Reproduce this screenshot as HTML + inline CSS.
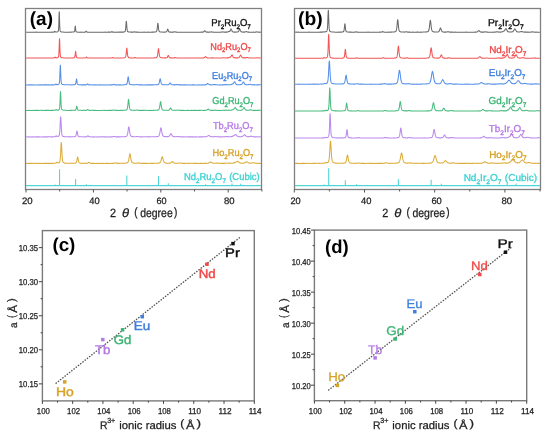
<!DOCTYPE html>
<html><head><meta charset="utf-8"><style>
html,body{margin:0;padding:0;background:#fff;}
svg{display:block;font-family:"Liberation Sans", Arial, sans-serif;text-rendering:geometricPrecision;filter:blur(0.35px);}
</style></head><body>
<svg width="550" height="435" viewBox="0 0 550 435">
<rect width="550" height="435" fill="#fff"/>
<polyline points="26.10,32.23 27.10,32.19 28.10,32.21 29.10,32.19 30.10,32.18 31.10,32.25 32.10,32.26 33.10,32.16 34.10,32.23 35.10,32.23 36.10,32.14 37.10,32.20 38.10,32.16 39.10,32.20 40.10,32.18 41.10,32.24 42.10,32.18 43.10,32.15 44.10,32.19 45.10,32.16 46.10,32.17 47.10,32.24 48.10,32.16 49.10,32.17 50.10,32.21 51.10,32.23 52.10,32.12 53.10,32.15 53.12,32.12 53.27,32.10 53.42,32.11 53.57,32.08 53.72,32.14 53.87,32.07 54.02,32.09 54.10,32.02 54.17,32 54.32,32.01 54.47,31.85 54.62,31.62 54.77,31.32 54.87,31.33 54.92,31.31 55.07,31.52 55.10,31.54 55.22,31.73 55.37,31.90 55.52,31.97 55.67,32.01 55.82,31.99 55.97,32.02 56.10,31.99 56.12,32 56.27,31.98 56.42,32 56.57,32.05 57.10,31.88 57.50,31.74 57.65,31.68 57.80,31.62 57.95,31.48 58.10,31.36 58.25,31 58.40,30.53 58.55,29.54 58.70,27.45 58.85,23.58 59,18.20 59.10,14.63 59.15,13.07 59.25,11.81 59.30,12.19 59.45,16.42 59.60,21.99 59.75,26.33 59.90,29.03 60.05,30.27 60.10,30.60 60.20,30.89 60.35,31.27 60.50,31.41 60.65,31.54 60.80,31.70 60.95,31.72 61.10,31.87 62.10,32.09 63.10,32.10 64.10,32.20 65.10,32.19 66.10,32.18 67.10,32.16 68.10,32.22 69.10,32.23 70.10,32.13 71.10,32.19 72.10,32.09 73.10,32.05 73.35,32.09 73.50,32.06 73.65,32.03 73.80,31.98 73.95,31.94 74.10,31.88 74.25,31.78 74.40,31.56 74.55,31.25 74.70,30.60 74.85,29.47 75,28.05 75.10,27.03 75.15,26.53 75.28,26.07 75.30,26.09 75.45,27.06 75.60,28.54 75.75,29.89 75.90,30.91 76.05,31.38 76.10,31.50 76.20,31.73 76.35,31.81 76.50,31.92 76.65,31.95 76.80,32.03 76.95,32.01 77.10,32.03 78.10,32.20 79.10,32.22 80.10,32.15 81.10,32.12 82.10,32.21 83.10,32.18 84.07,32.16 84.10,32.19 84.22,32.18 84.37,32.19 84.52,32.18 84.67,32.14 84.82,32.17 84.97,32.15 85.10,32.08 85.12,32.17 85.27,32.06 85.42,31.97 85.57,31.89 85.72,31.71 85.87,31.40 86.02,31.26 86.10,31.21 86.12,31.18 86.17,31.16 86.32,31.39 86.47,31.60 86.62,31.82 86.77,31.91 86.92,32.06 87.07,32.06 87.10,32.15 87.22,32.15 87.37,32.12 87.52,32.11 87.67,32.17 87.82,32.20 87.97,32.22 88.10,32.17 88.12,32.21 89.10,32.15 90.10,32.15 91.10,32.23 92.10,32.22 93.10,32.16 94.10,32.18 95.10,32.16 96.10,32.21 97.10,32.24 98.10,32.22 99.10,32.16 100.10,32.22 101.10,32.21 102.10,32.20 103.10,32.20 104.10,32.20 105.10,32.14 106.10,32.23 107.10,32.25 108.10,32.14 109.10,32.14 109.51,32.12 109.66,32.19 109.81,32.13 109.96,32.13 110.10,32.21 110.11,32.15 110.26,32.13 110.41,32.15 110.56,32.16 110.71,32.18 110.86,32.15 111.01,32.14 111.10,32.13 111.16,32.05 111.31,32.01 111.46,31.85 111.61,31.84 111.76,31.65 111.86,31.66 111.91,31.63 112.06,31.70 112.10,31.73 112.21,31.84 112.36,32.01 112.51,32 112.66,32.13 112.81,32.15 112.96,32.13 113.10,32.15 113.11,32.17 113.26,32.11 113.41,32.15 113.56,32.19 113.71,32.20 113.86,32.13 114.01,32.18 114.10,32.14 114.16,32.20 115.10,32.22 116.10,32.18 117.10,32.14 118.10,32.22 119.10,32.13 120.10,32.11 121.10,32.11 122.10,32.08 123.10,32.13 123.81,31.97 123.96,31.91 124.10,31.98 124.11,31.95 124.26,31.92 124.41,31.84 124.56,31.79 124.71,31.71 124.86,31.57 125.01,31.51 125.10,31.37 125.16,31.25 125.31,30.84 125.46,30.16 125.61,28.99 125.76,27.46 125.91,25.59 126.06,23.39 126.10,22.89 126.21,21.71 126.33,21.20 126.36,21.20 126.51,22.27 126.66,24.28 126.81,26.42 126.96,28.21 127.10,29.50 127.11,29.53 127.26,30.40 127.41,31 127.56,31.37 127.71,31.56 127.86,31.66 128.01,31.73 128.10,31.75 128.16,31.82 128.31,31.82 128.46,31.89 128.61,31.95 128.76,31.98 129.10,32.02 130.10,32.07 131.10,32.14 131.97,32.12 132.10,32.15 132.12,32.18 132.27,32.14 132.42,32.12 132.57,32.20 132.72,32.16 132.87,32.16 133.02,32.10 133.10,32.09 133.17,32.16 133.32,32.09 133.47,32.09 133.62,32.13 133.77,32.08 133.92,32.07 134.07,31.93 134.10,31.93 134.22,31.84 134.37,31.78 134.52,31.75 134.58,31.74 134.67,31.77 134.82,31.88 134.97,31.90 135.10,32.03 135.12,32.02 135.27,32.01 135.42,32.14 135.57,32.17 135.72,32.18 135.87,32.10 136.02,32.19 136.10,32.22 136.17,32.12 136.32,32.21 136.47,32.13 136.62,32.15 136.77,32.13 136.92,32.12 137.07,32.16 137.10,32.14 138.10,32.24 139.10,32.15 140.10,32.18 141.10,32.16 142.10,32.23 143.10,32.16 144.10,32.13 145.10,32.24 146.10,32.20 147.10,32.17 148.10,32.14 149.10,32.21 150.10,32.21 151.10,32.19 152.10,32.14 153.10,32.10 154.10,32.10 155,32.04 155.10,32.02 155.15,32.02 155.30,31.99 155.45,32 155.60,31.92 155.75,31.83 155.90,31.85 156.05,31.75 156.10,31.80 156.20,31.69 156.35,31.57 156.50,31.42 156.65,31.19 156.80,30.81 156.95,30.20 157.10,29.31 157.25,28.24 157.40,26.83 157.55,25.23 157.70,23.87 157.85,23.24 157.88,23.22 158,23.50 158.10,24.24 158.15,24.66 158.30,26.17 158.45,27.61 158.60,28.92 158.75,29.92 158.90,30.56 159.05,31 159.10,31.19 159.20,31.32 159.35,31.55 159.50,31.62 159.65,31.74 159.80,31.84 159.95,31.90 160.10,31.96 160.25,31.94 160.40,31.98 160.55,32.03 160.70,32.02 161.10,32.07 162.10,32.06 163.10,32.16 164.10,32.06 164.70,32.11 164.85,32.09 165,32.10 165.10,32.05 165.15,32.05 165.30,32.07 165.45,32.07 165.60,32.03 165.75,32 165.90,32.03 166.05,31.96 166.10,31.92 166.20,31.95 166.35,31.91 166.50,31.80 166.65,31.59 166.80,31.36 166.95,31 167.10,30.60 167.25,30.18 167.40,29.69 167.55,29.30 167.70,29.16 167.85,29.26 168,29.64 168.10,29.97 168.15,30.21 168.30,30.62 168.45,31.10 168.60,31.41 168.75,31.60 168.90,31.84 169.05,31.94 169.10,31.87 169.20,31.98 169.35,32.02 169.50,32.02 169.65,32.03 169.80,32.13 169.95,32.10 170.10,32.10 170.25,32.11 170.40,32.15 170.55,32.11 171.10,32.08 171.80,32.16 171.96,32.15 172.10,32.20 172.11,32.18 172.27,32.13 172.42,32.20 172.57,32.11 172.73,32.11 172.88,32.20 173.04,32.10 173.10,32.17 173.19,32.12 173.34,32.11 173.50,32.16 173.65,32.10 173.81,32.08 173.96,32.04 174.10,32.06 174.11,32 174.27,31.92 174.42,31.89 174.58,31.84 174.73,31.84 174.88,31.78 175.04,31.81 175.10,31.79 175.19,31.83 175.35,31.91 175.50,32.02 175.65,32.02 175.81,32.06 175.96,32.15 176.10,32.08 176.12,32.11 176.27,32.19 176.42,32.10 176.58,32.21 176.73,32.19 176.89,32.14 177.04,32.16 177.10,32.17 177.19,32.16 177.35,32.18 177.50,32.20 177.66,32.22 177.81,32.23 178.10,32.16 179.10,32.16 180.10,32.18 181.10,32.16 182.10,32.21 183.10,32.22 184.10,32.21 185.10,32.15 186.10,32.25 187.10,32.19 188.10,32.22 189.10,32.16 190.10,32.21 191.10,32.21 192.10,32.21 193.10,32.19 194.10,32.16 195.10,32.21 196.10,32.15 197.10,32.24 198.10,32.22 199.10,32.23 200.10,32.23 201.10,32.14 201.33,32.14 201.50,32.20 201.67,32.20 201.84,32.17 202.01,32.12 202.10,32.11 202.18,32.12 202.35,32.13 202.52,32.18 202.70,32.13 202.87,32.14 203.04,32.08 203.10,32.07 203.21,32.09 203.38,32.04 203.55,31.90 203.72,31.88 203.89,31.64 204.06,31.44 204.10,31.38 204.24,31.26 204.41,31.01 204.58,30.83 204.75,30.75 204.92,30.78 205.09,31 205.10,31.06 205.26,31.21 205.43,31.48 205.61,31.67 205.78,31.80 205.95,31.99 206.10,31.97 206.12,31.99 206.29,32.05 206.46,32.08 206.63,32.11 206.80,32.16 206.98,32.13 207.10,32.19 207.15,32.14 207.32,32.13 207.49,32.16 207.66,32.14 207.83,32.10 207.92,32.11 208,32.20 208.09,32.12 208.10,32.15 208.27,32.22 208.44,32.18 208.62,32.20 208.79,32.22 208.97,32.16 209.10,32.11 209.14,32.19 209.32,32.12 209.49,32.14 209.67,32.20 209.84,32.11 210.02,32.13 210.10,32.09 210.19,32.10 210.37,32.08 210.54,32.09 210.72,31.99 210.89,31.93 211.07,31.89 211.10,31.93 211.24,31.87 211.42,31.88 211.59,31.94 211.77,31.99 211.94,32.04 212.10,32.07 212.12,32.08 212.29,32.08 212.47,32.08 212.64,32.13 212.82,32.16 212.99,32.14 213.10,32.19 213.17,32.17 213.34,32.14 213.52,32.18 213.69,32.21 213.87,32.13 214.04,32.15 214.10,32.19 214.22,32.19 214.39,32.18 214.57,32.17 214.74,32.22 215.10,32.24 216.10,32.22 217.10,32.15 218.10,32.23 218.77,32.19 218.96,32.22 219.10,32.21 219.14,32.22 219.32,32.19 219.50,32.22 219.68,32.23 219.86,32.22 220.04,32.21 220.10,32.17 220.22,32.22 220.41,32.22 220.59,32.17 220.77,32.16 220.95,32.12 221.10,32.18 221.13,32.14 221.31,32.12 221.49,32.13 221.68,31.97 221.86,32.01 222.04,31.98 222.10,31.92 222.22,31.93 222.40,31.86 222.58,31.91 222.76,31.97 222.95,32.03 223.10,31.99 223.13,32.05 223.31,32.03 223.49,32.10 223.67,32.06 223.85,32.15 224.03,32.17 224.10,32.17 224.22,32.11 224.40,32.13 224.58,32.17 224.76,32.20 224.94,32.13 225.10,32.09 225.12,32.14 225.22,32.21 225.30,32.20 225.41,32.19 225.48,32.18 225.59,32.20 225.67,32.19 225.78,32.12 225.85,32.09 225.97,32.17 226.03,32.08 226.10,32.13 226.15,32.09 226.34,32.08 226.52,32.07 226.71,32.17 226.89,32.12 227.08,32.07 227.10,32.03 227.26,32.12 227.37,32.08 227.45,32 227.55,32.07 227.63,32.02 227.74,31.99 227.82,31.93 227.93,31.86 228,31.92 228.10,31.80 228.11,31.80 228.19,31.74 228.30,31.71 228.37,31.62 228.48,31.62 228.56,31.56 228.67,31.52 228.74,31.42 228.86,31.42 228.93,31.43 229.04,31.43 229.10,31.37 229.11,31.38 229.23,31.38 229.30,31.43 229.42,31.43 229.48,31.47 229.60,31.40 229.67,31.46 229.79,31.34 229.85,31.26 229.98,31.14 230.04,31.12 230.10,31.01 230.16,30.83 230.22,30.74 230.35,30.42 230.41,30.26 230.53,29.99 230.59,29.77 230.72,29.43 230.78,29.33 230.91,29.06 230.96,29.02 231.09,28.90 231.10,28.83 231.15,28.95 231.28,29.05 231.33,29.20 231.47,29.54 231.52,29.61 231.65,30.03 231.70,30.20 231.84,30.58 231.89,30.64 232.03,30.97 232.07,31.13 232.10,31.16 232.21,31.26 232.26,31.43 232.40,31.56 232.45,31.63 232.58,31.70 232.77,31.84 232.96,31.89 233.10,31.95 233.14,32 233.33,32.04 233.52,32.07 233.70,32 233.89,32.10 234.08,32.12 234.10,32.01 234.26,32.11 234.45,32.04 234.64,32.14 235.10,32.10 235.90,32.13 236.09,32.05 236.10,32.08 236.28,32.07 236.47,32.05 236.66,32.03 236.85,32.08 237.04,32.04 237.10,32.05 237.24,32.08 237.43,31.97 237.62,31.97 237.81,31.90 238,31.91 238.10,31.82 238.19,31.78 238.38,31.59 238.58,31.43 238.77,31.08 238.96,30.65 239.10,30.34 239.15,30.16 239.34,29.64 239.53,29.29 239.72,29.10 239.91,29.26 240.10,29.69 240.11,29.70 240.30,30.11 240.49,30.67 240.68,31.07 240.87,31.44 241.06,31.65 241.10,31.70 241.25,31.72 241.45,31.86 241.64,31.91 241.83,31.94 242.02,32.01 242.10,31.98 242.21,32.04 242.26,32.06 242.40,32.01 242.46,32.02 242.59,32.02 242.65,32.08 242.79,32.05 242.85,32.10 242.98,32.03 243.04,32.05 243.10,32.12 243.17,32.05 243.24,32.14 243.36,32.15 243.43,32.08 243.63,32.13 243.82,32.11 244.02,32.09 244.10,32.16 244.21,32.07 244.41,32.12 244.61,32.08 244.80,32.07 245,31.97 245.10,31.94 245.19,31.97 245.39,31.91 245.58,31.79 245.78,31.68 245.97,31.64 246.10,31.61 246.17,31.53 246.36,31.57 246.56,31.62 246.75,31.71 246.95,31.83 247.10,31.95 247.14,32 247.34,32.04 247.53,32.07 247.73,32.10 247.92,32.12 248.10,32.15 248.12,32.09 248.31,32.17 248.51,32.16 248.70,32.11 248.90,32.12 249.09,32.19 249.10,32.19 249.29,32.13 249.48,32.23 249.68,32.22 249.87,32.17 250.10,32.17 251.10,32.22 252.10,32.24 252.84,32.22 253.04,32.15 253.10,32.19 253.24,32.12 253.45,32.15 253.65,32.12 253.85,32.24 254.05,32.22 254.10,32.24 254.25,32.19 254.45,32.19 254.65,32.23 254.85,32.16 255.06,32.21 255.10,32.18 255.26,32.18 255.46,32.10 255.66,32.12 255.86,32.11 256.06,32.09 256.10,32.04 256.26,31.98 256.47,31.92 256.67,31.85 256.87,31.85 257.07,31.93 257.10,31.95 257.27,31.91 257.47,31.96 257.67,32.04 257.87,32.04 258.08,32.11 258.10,32.14 258.28,32.18 258.48,32.21 258.68,32.15 258.88,32.12 259.08,32.13 259.10,32.18 259.28,32.16 259.48,32.13 259.69,32.15 259.89,32.17 260.09,32.20 260.10,32.18 260.29,32.23 260.49,32.23 260.69,32.17 260.89,32.13 260.90,32.18" fill="none" stroke="#6a6a6a" stroke-width="1.05" stroke-linejoin="round"/>
<polyline points="26.10,58.01 27.10,58.02 28.10,58 29.10,57.96 30.10,58 31.10,57.94 32.10,58.04 33.10,58.02 34.10,57.99 35.10,58.01 36.10,57.95 37.10,57.96 38.10,57.94 39.10,57.98 40.10,58.05 41.10,57.99 42.10,57.99 43.10,57.99 44.10,58.02 45.10,57.97 46.10,57.94 47.10,58.04 48.10,57.97 49.10,58 50.10,57.98 51.10,57.93 52.10,57.91 53.10,57.93 53.14,57.98 53.29,57.89 53.44,57.97 53.59,57.94 53.74,57.88 53.89,57.94 54.04,57.93 54.10,57.84 54.19,57.82 54.34,57.86 54.49,57.78 54.64,57.68 54.79,57.53 54.94,57.32 55.09,57.10 55.10,57.20 55.14,57.18 55.24,57.22 55.39,57.39 55.54,57.51 55.69,57.63 55.84,57.70 55.99,57.77 56.10,57.77 56.14,57.87 56.29,57.84 56.44,57.75 56.59,57.85 56.74,57.81 56.89,57.76 57.04,57.77 57.10,57.72 57.53,57.67 57.68,57.59 57.83,57.43 57.98,57.43 58.10,57.24 58.13,57.30 58.28,57.02 58.43,56.79 58.58,56.32 58.73,55.49 58.88,53.83 59.03,50.90 59.10,49.19 59.18,46.85 59.33,42.08 59.48,38.89 59.53,38.75 59.63,39.64 59.78,43.73 59.93,48.40 60.08,52.13 60.10,52.49 60.23,54.42 60.38,55.86 60.53,56.59 60.68,56.97 60.83,57.20 60.98,57.33 61.10,57.36 61.13,57.48 61.28,57.55 61.43,57.53 62.10,57.71 63.10,57.82 64.10,57.95 65.10,57.96 66.10,57.90 67.10,57.96 68.10,57.94 69.10,57.99 70.10,58.02 71.10,57.97 72.10,57.91 73.10,57.86 73.39,57.86 73.54,57.85 73.69,57.82 73.84,57.80 73.99,57.76 74.10,57.69 74.14,57.75 74.29,57.64 74.44,57.50 74.59,57.34 74.74,57.11 74.89,56.48 75.04,55.63 75.10,55.26 75.19,54.47 75.34,53.03 75.49,51.82 75.60,51.37 75.64,51.48 75.79,52.28 75.94,53.78 76.09,55.16 76.10,55.14 76.24,56.12 76.39,56.79 76.54,57.23 76.69,57.48 76.84,57.58 76.99,57.74 77.10,57.72 77.14,57.75 77.29,57.82 77.44,57.80 77.59,57.86 77.74,57.86 78.10,57.91 79.10,57.96 80.10,57.98 81.10,57.96 82.10,57.92 83.10,57.92 84.10,57.93 84.13,57.93 84.28,57.99 84.43,57.91 84.58,57.99 84.73,58 84.88,57.95 85.03,57.91 85.10,57.96 85.18,57.91 85.33,57.94 85.48,57.83 85.63,57.83 85.78,57.74 85.93,57.60 86.08,57.38 86.10,57.34 86.23,57.22 86.38,57.07 86.48,57.01 86.53,57.09 86.68,57.16 86.83,57.31 86.98,57.51 87.10,57.72 87.13,57.65 87.28,57.81 87.43,57.81 87.58,57.92 87.73,57.96 87.88,57.94 88.03,57.90 88.10,57.96 88.18,57.91 88.33,57.94 88.48,57.98 88.63,57.99 88.78,57.97 89.10,57.99 90.10,58 91.10,57.97 92.10,57.95 93.10,57.98 94.10,58.03 95.10,58.03 96.10,58.01 97.10,57.98 98.10,58.04 99.10,58.04 100.10,58.02 101.10,58.02 102.10,58.05 103.10,57.99 104.10,57.94 105.10,57.99 106.10,57.96 107.10,57.95 108.10,57.95 109.10,57.94 109.61,57.99 109.76,57.96 109.91,58.03 110.06,57.93 110.10,57.99 110.21,57.98 110.36,57.93 110.51,58 110.66,58 110.81,57.92 110.96,57.94 111.10,57.99 111.11,58 111.26,57.94 111.41,57.95 111.56,57.80 111.71,57.81 111.86,57.72 112.01,57.62 112.10,57.56 112.16,57.54 112.30,57.49 112.31,57.49 112.46,57.55 112.61,57.66 112.76,57.65 112.91,57.76 113.06,57.90 113.10,57.87 113.21,57.86 113.36,57.86 113.51,57.99 113.66,58.01 113.81,57.96 113.96,57.97 114.10,57.92 114.11,57.93 114.26,57.99 114.41,57.98 114.56,57.96 114.71,57.93 114.86,58.01 115.10,57.99 116.10,58.03 117.10,57.96 118.10,58.03 119.10,57.92 120.10,57.96 121.10,57.94 122.10,57.97 123.10,57.91 123.93,57.81 124.08,57.74 124.10,57.78 124.23,57.79 124.38,57.68 124.53,57.68 124.68,57.66 124.83,57.65 124.98,57.57 125.10,57.44 125.13,57.51 125.28,57.35 125.43,57.16 125.58,56.93 125.73,56.45 125.88,55.79 126.03,54.86 126.10,54.33 126.18,53.68 126.33,52.15 126.48,50.43 126.63,48.97 126.78,48.22 126.82,48.11 126.93,48.51 127.08,49.64 127.10,49.83 127.23,51.36 127.38,52.90 127.53,54.37 127.68,55.48 127.83,56.25 127.98,56.79 128.10,57.01 128.13,57.08 128.28,57.23 128.43,57.38 128.58,57.56 128.73,57.59 128.88,57.65 129.03,57.72 129.10,57.73 129.18,57.75 129.33,57.72 129.48,57.79 129.63,57.84 130.10,57.88 131.10,57.91 132.10,57.92 132.25,57.96 132.40,57.91 132.55,57.97 132.70,57.92 132.85,57.92 133,57.98 133.10,57.91 133.15,57.95 133.30,57.93 133.45,57.92 133.60,57.92 133.75,57.93 133.90,57.96 134.05,57.86 134.10,57.84 134.20,57.87 134.35,57.81 134.50,57.80 134.65,57.66 134.80,57.63 134.95,57.64 135.09,57.55 135.10,57.53 135.25,57.63 135.40,57.60 135.55,57.72 135.70,57.82 135.85,57.81 136,57.90 136.10,57.87 136.15,57.90 136.30,57.97 136.45,57.94 136.60,57.91 136.75,57.96 136.90,57.95 137.05,57.92 137.10,57.97 137.20,57.97 137.35,57.96 137.50,57.93 137.65,58.01 137.80,58.02 137.95,57.94 138.10,57.97 139.10,58 140.10,57.93 141.10,57.94 142.10,57.98 143.10,57.92 144.10,57.94 145.10,57.95 146.10,58 147.10,58.04 148.10,57.95 149.10,57.94 150.10,57.98 151.10,57.96 152.10,57.94 153.10,57.95 154.10,57.86 155.10,57.81 155.17,57.83 155.34,57.84 155.50,57.76 155.67,57.77 155.83,57.69 156,57.72 156.10,57.67 156.16,57.67 156.33,57.59 156.49,57.50 156.66,57.46 156.82,57.34 156.99,57.07 157.10,56.91 157.16,56.74 157.32,56.30 157.49,55.57 157.65,54.55 157.82,53.18 157.98,51.73 158.10,50.64 158.15,50.21 158.31,49.07 158.48,48.56 158.64,49.03 158.81,50.21 158.97,51.79 159.10,52.89 159.14,53.29 159.30,54.54 159.47,55.58 159.63,56.20 159.80,56.79 159.96,57.05 160.10,57.24 160.13,57.31 160.29,57.44 160.46,57.45 160.62,57.54 160.79,57.60 160.95,57.62 161.10,57.75 161.12,57.68 161.28,57.71 161.45,57.80 161.61,57.79 162.10,57.77 163.10,57.90 164.10,57.87 164.89,57.94 165.06,57.88 165.10,57.92 165.24,57.89 165.41,57.90 165.58,57.84 165.75,57.85 165.92,57.86 166.09,57.83 166.10,57.86 166.27,57.80 166.44,57.84 166.61,57.77 166.78,57.71 166.95,57.65 167.10,57.59 167.12,57.55 167.30,57.30 167.47,57.09 167.64,56.68 167.81,56.32 167.98,55.87 168.10,55.64 168.15,55.57 168.33,55.48 168.50,55.65 168.67,55.91 168.84,56.29 169.01,56.67 169.10,56.94 169.18,57.10 169.36,57.28 169.53,57.49 169.70,57.65 169.87,57.71 170.04,57.83 170.10,57.80 170.21,57.81 170.39,57.84 170.56,57.91 170.73,57.93 170.90,57.88 171.07,57.86 171.10,57.95 171.24,57.97 171.41,57.97 171.59,57.89 172.01,57.95 172.10,57.94 172.19,57.88 172.37,57.93 172.54,57.97 172.72,57.92 172.90,58.01 173.07,57.97 173.10,57.92 173.25,57.99 173.42,58 173.60,57.94 173.78,57.96 173.95,57.88 174.10,57.97 174.13,57.89 174.31,57.92 174.48,57.84 174.66,57.84 174.84,57.76 175.01,57.74 175.10,57.72 175.19,57.67 175.36,57.58 175.54,57.61 175.72,57.65 175.89,57.67 176.07,57.78 176.10,57.76 176.25,57.78 176.42,57.84 176.60,57.87 176.78,57.94 176.95,57.99 177.10,58 177.13,57.97 177.30,57.99 177.48,57.95 177.66,57.99 177.83,57.94 178.01,57.96 178.10,57.95 178.19,57.95 178.36,57.97 178.54,57.99 178.72,58 178.89,58.03 179.10,57.95 180.10,57.98 181.10,58.03 182.10,57.94 183.10,57.98 184.10,57.98 185.10,58 186.10,58.04 187.10,57.93 188.10,58.03 189.10,58.01 190.10,57.93 191.10,58.04 192.10,57.99 193.10,57.99 194.10,58.02 195.10,57.94 196.10,58 197.10,58.05 198.10,57.99 199.10,58.04 200.10,57.96 201.10,57.93 201.60,57.92 201.80,58.02 201.99,57.94 202.10,57.98 202.19,57.96 202.39,57.98 202.58,57.97 202.78,57.99 202.98,57.92 203.10,57.98 203.17,57.87 203.37,57.97 203.56,57.84 203.76,57.90 203.96,57.87 204.10,57.74 204.15,57.74 204.35,57.61 204.54,57.50 204.74,57.30 204.94,57.15 205.10,56.90 205.13,56.89 205.33,56.65 205.53,56.70 205.72,56.76 205.92,56.87 206.10,57.04 206.11,57.11 206.31,57.29 206.51,57.50 206.70,57.65 206.90,57.75 207.09,57.80 207.10,57.87 207.29,57.88 207.49,57.86 207.68,57.94 207.88,57.92 208.08,57.96 208.10,57.95 208.27,57.92 208.47,57.91 208.66,57.89 208.86,57.95 209.06,57.99 209.10,57.97 209.25,58.01 210.10,57.99 211.10,57.88 212.10,57.69 213.10,57.89 214.10,58 215.10,58.02 216.10,58.02 217.10,57.98 218.10,58.01 219.10,57.93 220.10,57.97 221.10,57.98 222.10,57.90 223.10,57.75 224.10,57.80 225.10,57.90 225.57,57.95 225.78,57.91 225.99,57.96 226.10,57.97 226.20,57.97 226.42,57.97 226.63,57.91 226.84,57.90 227.05,57.89 227.10,57.96 227.26,57.87 227.48,57.90 227.69,57.90 227.71,57.88 227.90,57.87 227.93,57.90 228.10,57.85 228.11,57.82 228.14,57.81 228.32,57.75 228.36,57.83 228.54,57.70 228.57,57.70 228.75,57.65 228.78,57.60 228.96,57.63 229,57.53 229.10,57.46 229.17,57.52 229.21,57.44 229.39,57.30 229.42,57.36 229.60,57.21 229.64,57.19 229.81,57.19 229.85,57.22 230.02,57.18 230.06,57.11 230.10,57.15 230.23,57.15 230.28,57.13 230.45,57.02 230.49,57.09 230.66,57.01 230.71,56.86 230.87,56.75 230.92,56.67 231.08,56.34 231.10,56.39 231.13,56.36 231.30,55.91 231.35,55.87 231.51,55.52 231.56,55.32 231.72,55.11 231.77,54.95 231.93,54.88 231.99,54.88 232.10,54.94 232.14,54.93 232.20,55.01 232.36,55.31 232.41,55.41 232.57,55.81 232.63,55.89 232.78,56.23 232.84,56.38 232.99,56.68 233.05,56.88 233.10,56.94 233.20,57.10 233.27,57.20 233.42,57.28 233.48,57.34 233.63,57.46 233.70,57.55 233.84,57.68 233.91,57.67 234.05,57.76 234.10,57.67 234.12,57.75 234.34,57.80 234.55,57.75 234.76,57.86 234.98,57.79 235.10,57.87 235.19,57.83 235.40,57.91 235.62,57.82 235.83,57.88 236.05,57.89 236.10,57.86 236.26,57.86 236.27,57.91 236.49,57.92 236.71,57.87 236.93,57.93 237.10,57.82 237.15,57.88 237.37,57.90 237.59,57.87 237.81,57.88 238.03,57.84 238.10,57.80 238.25,57.80 238.46,57.77 238.68,57.71 238.90,57.59 239.10,57.43 239.12,57.45 239.34,57.19 239.56,56.92 239.78,56.57 240,56.11 240.10,55.81 240.22,55.60 240.44,55.24 240.66,55.08 240.88,55.19 241.10,55.62 241.32,56.10 241.54,56.56 241.75,56.97 241.97,57.22 242.10,57.37 242.19,57.45 242.41,57.60 242.63,57.70 242.66,57.68 242.85,57.79 242.88,57.71 243.07,57.84 243.10,57.76 243.11,57.84 243.29,57.79 243.33,57.86 243.51,57.90 243.55,57.84 243.73,57.82 243.78,57.82 243.95,57.83 244,57.82 244.10,57.93 244.17,57.89 244.23,57.93 244.39,57.86 244.45,57.89 244.61,57.86 244.67,57.85 244.82,57.83 244.90,57.87 245.10,57.84 245.12,57.87 245.34,57.92 245.57,57.79 245.79,57.85 246.01,57.79 246.10,57.68 246.24,57.69 246.46,57.56 246.68,57.55 246.91,57.45 247.10,57.36 247.13,57.44 247.36,57.42 247.58,57.44 247.80,57.62 248.03,57.66 248.10,57.68 248.25,57.75 248.47,57.79 248.70,57.85 248.92,57.96 249.10,57.95 249.14,57.92 249.37,57.88 249.59,57.98 249.82,57.94 250.04,58 250.10,57.91 250.26,57.97 250.49,57.96 250.71,57.94 250.93,58.01 251.10,57.94 251.16,57.93 251.38,57.93 251.60,58 252.10,58.01 253.10,58.02 254.10,57.93 255.10,57.98 256.10,57.96 257.10,57.82 258.10,57.69 259.10,57.92 260.10,57.99 260.90,57.95" fill="none" stroke="#f25656" stroke-width="1.05" stroke-linejoin="round"/>
<polyline points="26.10,84.86 27.10,84.92 28.10,84.95 29.10,84.85 30.10,84.87 31.10,84.89 32.10,84.91 33.10,84.84 34.10,84.90 35.10,84.93 36.10,84.94 37.10,84.91 38.10,84.88 39.10,84.91 40.10,84.84 41.10,84.87 42.10,84.90 43.10,84.87 44.10,84.88 45.10,84.88 46.10,84.89 47.10,84.88 48.10,84.88 49.10,84.84 50.10,84.91 51.10,84.84 52.10,84.89 53.10,84.81 53.65,84.89 53.80,84.83 53.95,84.84 54.10,84.80 54.25,84.85 54.40,84.84 54.55,84.84 54.70,84.77 54.85,84.75 55,84.78 55.10,84.72 55.15,84.70 55.30,84.50 55.45,84.42 55.60,84.23 55.75,84.10 55.90,83.98 56.05,84.03 56.10,84.09 56.20,84.28 56.35,84.38 56.50,84.51 56.65,84.64 56.80,84.60 56.95,84.67 57.10,84.68 57.25,84.63 57.40,84.62 57.55,84.61 57.70,84.55 57.85,84.56 58,84.54 58.07,84.55 58.10,84.48 58.15,84.49 58.22,84.44 58.37,84.40 58.52,84.36 58.67,84.25 58.82,84.11 58.97,83.93 59.10,83.60 59.12,83.59 59.27,83.16 59.42,82.28 59.57,80.84 59.72,78.54 59.87,75.05 60.02,70.91 60.10,68.57 60.17,66.95 60.32,65.12 60.33,65.12 60.47,66.65 60.62,70.54 60.77,74.80 60.92,78.34 61.07,80.73 61.10,81.07 61.22,82.28 61.37,83.04 61.52,83.54 61.67,83.82 61.82,84.04 61.97,84.18 62.10,84.23 62.12,84.33 62.27,84.41 62.42,84.50 62.57,84.55 63.10,84.60 64.10,84.80 65.10,84.78 66.10,84.84 67.10,84.80 68.10,84.82 69.10,84.84 70.10,84.82 71.10,84.91 72.10,84.87 73.10,84.84 74.03,84.78 74.10,84.75 74.18,84.71 74.33,84.71 74.48,84.67 74.63,84.67 74.78,84.68 74.93,84.62 75.08,84.54 75.10,84.52 75.23,84.50 75.38,84.36 75.53,84.10 75.68,83.77 75.83,83.09 75.98,82.34 76.10,81.41 76.13,81.20 76.28,80.07 76.43,79.15 76.53,78.95 76.58,78.94 76.73,79.61 76.88,80.75 77.03,81.86 77.10,82.33 77.18,82.89 77.33,83.50 77.48,83.96 77.63,84.22 77.78,84.41 77.93,84.55 78.08,84.64 78.10,84.59 78.23,84.69 78.38,84.66 78.53,84.71 78.68,84.70 78.83,84.77 78.98,84.80 79.10,84.73 80.10,84.81 81.10,84.87 82.10,84.86 83.10,84.88 84.10,84.85 84.84,84.86 84.99,84.89 85.10,84.80 85.14,84.81 85.29,84.83 85.44,84.88 85.59,84.89 85.74,84.82 85.89,84.80 86.04,84.81 86.10,84.86 86.19,84.78 86.34,84.78 86.49,84.76 86.64,84.66 86.79,84.58 86.94,84.41 87.09,84.23 87.10,84.19 87.24,84.12 87.39,83.93 87.51,83.85 87.54,83.88 87.69,83.98 87.84,84.11 87.99,84.39 88.10,84.42 88.14,84.48 88.29,84.61 88.44,84.73 88.59,84.75 88.74,84.85 88.89,84.82 89.04,84.86 89.10,84.79 89.19,84.81 89.34,84.86 89.49,84.83 89.64,84.88 89.79,84.86 89.94,84.91 90.09,84.83 90.10,84.84 91.10,84.85 92.10,84.94 93.10,84.85 94.10,84.95 95.10,84.88 96.10,84.89 97.10,84.95 98.10,84.90 99.10,84.85 100.10,84.88 101.10,84.92 102.10,84.86 103.10,84.91 104.10,84.84 105.10,84.90 106.10,84.94 107.10,84.83 108.10,84.94 109.10,84.92 110.10,84.85 110.50,84.93 110.66,84.88 110.81,84.84 110.96,84.87 111.10,84.89 111.11,84.85 111.27,84.84 111.42,84.86 111.57,84.85 111.72,84.89 111.88,84.87 112.03,84.79 112.10,84.79 112.18,84.90 112.33,84.86 112.49,84.83 112.64,84.73 112.79,84.75 112.94,84.68 113.10,84.53 113.25,84.52 113.40,84.36 113.55,84.40 113.71,84.37 113.86,84.44 114.01,84.60 114.10,84.57 114.16,84.65 114.32,84.74 114.47,84.81 114.62,84.77 114.77,84.81 114.93,84.86 115.08,84.81 115.10,84.89 115.23,84.86 115.38,84.91 115.54,84.88 115.69,84.82 115.84,84.87 115.99,84.91 116.10,84.90 116.15,84.85 116.30,84.90 116.45,84.83 117.10,84.93 118.10,84.83 119.10,84.86 120.10,84.83 121.10,84.88 122.10,84.90 123.10,84.87 124.10,84.78 124.94,84.80 125.10,84.77 125.26,84.67 125.43,84.64 125.59,84.61 125.75,84.59 125.92,84.58 126.08,84.50 126.10,84.51 126.24,84.48 126.41,84.41 126.57,84.34 126.73,84.16 126.90,83.85 127.06,83.41 127.10,83.32 127.22,82.75 127.39,81.90 127.55,80.80 127.71,79.52 127.88,78.23 128.04,77.13 128.10,76.89 128.20,76.80 128.37,77.26 128.53,78.21 128.69,79.49 128.86,80.84 129.02,81.96 129.10,82.38 129.18,82.83 129.35,83.46 129.51,83.84 129.67,84.07 129.84,84.33 130,84.35 130.10,84.51 130.16,84.42 130.32,84.57 130.49,84.55 130.65,84.59 130.81,84.60 130.98,84.68 131.10,84.67 131.14,84.73 131.30,84.68 132.10,84.83 133.10,84.77 133.17,84.81 133.34,84.88 133.51,84.77 133.68,84.85 133.85,84.88 134.02,84.86 134.10,84.89 134.19,84.86 134.35,84.81 134.52,84.77 134.69,84.81 134.86,84.78 135.03,84.78 135.10,84.79 135.20,84.82 135.37,84.82 135.54,84.80 135.71,84.72 135.88,84.70 136.05,84.58 136.10,84.61 136.22,84.53 136.39,84.49 136.56,84.46 136.73,84.54 136.90,84.58 137.07,84.59 137.10,84.66 137.24,84.66 137.41,84.68 137.58,84.79 137.75,84.75 137.91,84.81 138.08,84.78 138.10,84.84 138.25,84.82 138.42,84.83 138.59,84.89 138.76,84.86 138.93,84.85 139.10,84.87 139.27,84.85 139.44,84.82 139.61,84.84 139.78,84.84 139.95,84.92 140.10,84.85 141.10,84.86 142.10,84.83 143.10,84.94 144.10,84.92 145.10,84.83 146.10,84.90 147.10,84.86 148.10,84.87 149.10,84.89 150.10,84.88 151.10,84.87 152.10,84.81 153.10,84.86 154.10,84.81 155.10,84.85 156.10,84.77 156.43,84.76 156.62,84.73 156.81,84.70 156.99,84.78 157.10,84.66 157.18,84.70 157.37,84.72 157.55,84.67 157.74,84.67 157.93,84.61 158.10,84.48 158.12,84.49 158.30,84.39 158.49,84.33 158.68,84.13 158.86,83.79 159.05,83.31 159.10,83.13 159.24,82.67 159.43,81.77 159.61,80.85 159.80,79.88 159.99,79.02 160.10,78.85 160.17,78.74 160.36,79.10 160.55,79.92 160.73,80.83 160.92,81.81 161.10,82.60 161.11,82.67 161.30,83.26 161.48,83.73 161.67,84.12 161.86,84.35 162.04,84.37 162.10,84.46 162.23,84.56 162.42,84.61 162.60,84.59 162.79,84.69 162.98,84.70 163.10,84.67 163.17,84.72 163.35,84.70 163.54,84.68 163.73,84.72 164.10,84.76 165.10,84.79 166.10,84.84 166.24,84.80 166.43,84.79 166.63,84.80 166.82,84.81 167.01,84.77 167.10,84.83 167.21,84.77 167.40,84.73 167.60,84.83 167.79,84.80 167.99,84.69 168.10,84.78 168.18,84.68 168.38,84.67 168.57,84.66 168.76,84.50 168.96,84.42 169.10,84.17 169.15,84.18 169.35,83.83 169.54,83.53 169.74,83.29 169.93,83.01 170.10,82.94 170.13,82.87 170.32,83.05 170.51,83.30 170.71,83.62 170.90,83.84 171.10,84.19 171.29,84.39 171.49,84.53 171.68,84.61 171.87,84.70 172.07,84.68 172.10,84.76 172.26,84.76 172.46,84.74 172.65,84.83 172.85,84.85 173.04,84.77 173.10,84.84 173.24,84.78 173.42,84.79 173.43,84.84 173.62,84.85 173.82,84.88 174.01,84.80 174.02,84.85 174.10,84.86 174.22,84.88 174.42,84.88 174.62,84.80 174.82,84.89 175.02,84.84 175.10,84.83 175.22,84.84 175.42,84.84 175.62,84.84 175.82,84.86 176.02,84.76 176.10,84.74 176.22,84.76 176.42,84.76 176.62,84.63 176.82,84.65 177.02,84.59 177.10,84.52 177.22,84.46 177.42,84.48 177.62,84.55 177.82,84.50 178.02,84.66 178.10,84.67 178.22,84.63 178.42,84.70 178.62,84.75 178.82,84.86 179.02,84.79 179.10,84.85 179.22,84.91 179.42,84.82 179.62,84.81 179.82,84.92 180.02,84.87 180.10,84.82 180.22,84.89 180.41,84.90 180.61,84.84 180.81,84.88 181.01,84.82 181.10,84.84 181.21,84.84 181.41,84.86 182.10,84.92 183.10,84.86 184.10,84.88 185.10,84.89 186.10,84.88 187.10,84.91 188.10,84.93 189.10,84.84 190.10,84.91 191.10,84.94 192.10,84.83 193.10,84.89 194.10,84.87 195.10,84.91 196.10,84.93 197.10,84.91 198.10,84.85 199.10,84.91 200.10,84.84 201.10,84.91 202.10,84.83 203.10,84.91 203.30,84.87 203.52,84.91 203.74,84.90 203.96,84.85 204.10,84.87 204.19,84.85 204.41,84.88 204.63,84.86 204.85,84.85 205.08,84.77 205.10,84.87 205.30,84.82 205.52,84.75 205.74,84.75 205.97,84.74 206.10,84.61 206.19,84.69 206.41,84.58 206.63,84.45 206.85,84.21 207.08,83.93 207.10,83.98 207.30,83.78 207.52,83.54 207.74,83.56 207.97,83.64 208.10,83.65 208.19,83.80 208.41,83.97 208.63,84.24 208.86,84.38 209.08,84.49 209.10,84.55 209.30,84.66 209.52,84.69 209.75,84.73 209.97,84.84 210.10,84.83 210.19,84.82 210.41,84.81 210.63,84.85 210.86,84.81 211.08,84.87 211.10,84.79 211.30,84.86 211.52,84.88 211.75,84.90 211.97,84.89 212.10,84.88 212.19,84.80 213.10,84.81 214.10,84.63 215.10,84.61 216.10,84.77 217.10,84.83 218.10,84.90 219.10,84.90 220.10,84.87 221.10,84.90 222.10,84.89 223.10,84.89 224.10,84.85 225.10,84.62 226.10,84.60 227.10,84.78 227.52,84.81 227.77,84.80 228.01,84.80 228.10,84.88 228.25,84.78 228.49,84.82 228.73,84.83 228.97,84.75 229.10,84.77 229.21,84.82 229.45,84.85 229.69,84.79 229.70,84.79 229.93,84.78 229.94,84.82 230.10,84.75 230.17,84.78 230.18,84.72 230.41,84.72 230.42,84.75 230.65,84.64 230.67,84.68 230.89,84.67 230.91,84.65 231.10,84.61 231.13,84.56 231.15,84.49 231.37,84.40 231.39,84.42 231.61,84.38 231.64,84.35 231.86,84.24 231.88,84.21 232.10,84.07 232.12,84.13 232.34,83.99 232.36,83.99 232.58,83.90 232.60,83.87 232.82,83.85 232.85,83.81 233.06,83.73 233.09,83.69 233.10,83.66 233.30,83.53 233.33,83.44 233.54,83.14 233.57,83.13 233.78,82.75 233.82,82.60 234.02,82.26 234.06,82.21 234.10,82.12 234.26,81.84 234.30,81.81 234.50,81.67 234.54,81.67 234.74,81.81 234.78,81.82 234.98,82.14 235.03,82.30 235.10,82.38 235.22,82.67 235.27,82.70 235.46,83.11 235.51,83.30 235.70,83.58 235.75,83.71 235.94,84.01 236,83.99 236.10,84.09 236.19,84.20 236.24,84.26 236.43,84.35 236.48,84.43 236.67,84.50 236.72,84.52 236.91,84.55 236.96,84.56 237.10,84.66 237.21,84.69 237.45,84.68 237.69,84.69 237.93,84.74 238.10,84.68 238.18,84.69 238.36,84.71 238.42,84.73 238.61,84.72 238.66,84.78 238.86,84.71 238.90,84.79 239.10,84.69 239.14,84.73 239.35,84.77 239.60,84.77 239.85,84.71 240.10,84.72 240.35,84.67 240.60,84.72 240.85,84.58 241.09,84.58 241.10,84.57 241.34,84.44 241.59,84.31 241.84,84.10 242.09,83.80 242.10,83.77 242.34,83.43 242.59,82.93 242.83,82.40 243.08,82.10 243.10,82.08 243.33,81.86 243.58,82.06 243.83,82.43 244.08,82.91 244.10,82.93 244.33,83.41 244.58,83.76 244.82,84.16 244.83,84.07 245.07,84.35 245.08,84.32 245.10,84.37 245.32,84.45 245.33,84.50 245.57,84.57 245.59,84.61 245.82,84.60 245.84,84.61 246.07,84.72 246.09,84.66 246.10,84.64 246.32,84.74 246.35,84.75 246.57,84.68 246.60,84.68 246.81,84.79 246.86,84.71 247.06,84.70 247.10,84.78 247.11,84.72 247.31,84.78 247.36,84.72 247.56,84.75 247.62,84.76 247.81,84.79 247.87,84.72 248.06,84.70 248.10,84.75 248.12,84.77 248.31,84.74 248.38,84.71 248.63,84.56 248.88,84.52 249.10,84.42 249.14,84.43 249.39,84.41 249.65,84.30 249.90,84.21 250.10,84.24 250.15,84.24 250.41,84.34 250.66,84.45 250.91,84.54 251.10,84.58 251.17,84.66 251.42,84.77 251.67,84.78 251.93,84.85 252.10,84.84 252.18,84.80 252.43,84.86 252.69,84.87 252.94,84.89 253.10,84.87 253.20,84.85 253.45,84.84 253.70,84.80 253.96,84.91 254.10,84.89 254.21,84.91 254.46,84.81 254.72,84.85 254.97,84.85 255.10,84.83 256.10,84.93 257.10,84.82 258.10,84.88 259.10,84.81 260.10,84.69 260.90,84.56" fill="none" stroke="#5590e8" stroke-width="1.05" stroke-linejoin="round"/>
<polyline points="26.10,110.42 27.10,110.42 28.10,110.43 29.10,110.37 30.10,110.40 31.10,110.44 32.10,110.41 33.10,110.39 34.10,110.41 35.10,110.38 36.10,110.35 37.10,110.38 38.10,110.36 39.10,110.42 40.10,110.35 41.10,110.34 42.10,110.39 43.10,110.45 44.10,110.44 45.10,110.36 46.10,110.34 47.10,110.36 48.10,110.38 49.10,110.38 50.10,110.42 51.10,110.36 52.10,110.31 53.10,110.39 53.83,110.33 53.98,110.29 54.10,110.32 54.13,110.35 54.28,110.36 54.43,110.29 54.58,110.26 54.73,110.26 54.88,110.30 55.03,110.24 55.10,110.22 55.18,110.25 55.33,110.14 55.48,110.09 55.63,109.98 55.78,109.84 55.93,109.60 56.08,109.52 56.10,109.60 56.23,109.66 56.38,109.77 56.53,109.93 56.68,109.99 56.83,110.14 56.98,110.14 57.10,110.16 57.13,110.18 57.28,110.13 57.43,110.17 57.58,110.15 57.73,110.11 57.88,110.12 58.03,110.12 58.10,110.01 58.18,110.01 58.26,110.01 58.33,110 58.41,109.96 58.56,109.93 58.71,109.88 58.86,109.73 59.01,109.56 59.10,109.56 59.16,109.37 59.31,109.18 59.46,108.67 59.61,107.92 59.76,106.61 59.91,104.40 60.06,101.10 60.10,100.08 60.21,97.13 60.36,93.38 60.51,91.59 60.52,91.56 60.66,93.01 60.81,96.66 60.96,100.74 61.10,103.82 61.11,103.99 61.26,106.37 61.41,107.89 61.56,108.70 61.71,109.11 61.86,109.42 62.01,109.55 62.10,109.66 62.16,109.71 62.31,109.87 62.46,109.91 62.61,109.95 62.76,109.98 63.10,110.07 64.10,110.27 65.10,110.30 66.10,110.27 67.10,110.40 68.10,110.41 69.10,110.40 70.10,110.34 71.10,110.38 72.10,110.33 73.10,110.31 74.10,110.28 74.26,110.36 74.41,110.27 74.56,110.25 74.71,110.24 74.86,110.20 75.01,110.19 75.10,110.19 75.16,110.15 75.31,110.15 75.46,110.14 75.61,110.01 75.76,109.77 75.91,109.56 76.06,109.10 76.10,108.90 76.21,108.45 76.36,107.64 76.51,106.84 76.66,106.20 76.76,106.12 76.81,106.14 76.96,106.64 77.10,107.34 77.11,107.40 77.26,108.28 77.41,108.90 77.56,109.46 77.71,109.76 77.86,110 78.01,110.07 78.10,110.15 78.16,110.08 78.31,110.20 78.46,110.18 78.61,110.25 78.76,110.28 78.91,110.24 79.06,110.32 79.10,110.29 79.21,110.29 80.10,110.28 81.10,110.34 82.10,110.42 83.10,110.38 84.10,110.32 85.09,110.33 85.10,110.38 85.24,110.41 85.39,110.39 85.54,110.33 85.69,110.40 85.84,110.31 85.99,110.38 86.10,110.32 86.14,110.32 86.29,110.36 86.44,110.31 86.59,110.28 86.74,110.28 86.89,110.18 87.04,110.07 87.10,109.98 87.19,109.98 87.34,109.83 87.49,109.62 87.64,109.47 87.76,109.45 87.79,109.40 87.94,109.57 88.09,109.69 88.10,109.71 88.24,109.90 88.39,110.03 88.54,110.14 88.69,110.23 88.84,110.24 88.99,110.25 89.10,110.27 89.14,110.36 89.29,110.35 89.44,110.29 89.59,110.41 89.74,110.41 89.89,110.42 90.04,110.31 90.10,110.37 90.19,110.38 90.34,110.42 91.10,110.33 92.10,110.33 93.10,110.37 94.10,110.34 95.10,110.38 96.10,110.41 97.10,110.43 98.10,110.42 99.10,110.43 100.10,110.41 101.10,110.45 102.10,110.45 103.10,110.34 104.10,110.35 105.10,110.35 106.10,110.41 107.10,110.40 108.10,110.38 109.10,110.35 110.10,110.41 110.80,110.38 110.96,110.37 111.10,110.34 111.11,110.40 111.26,110.44 111.42,110.39 111.57,110.33 111.72,110.41 111.87,110.35 112.03,110.41 112.10,110.39 112.18,110.34 112.33,110.40 112.48,110.35 112.64,110.31 112.79,110.31 112.94,110.24 113.09,110.18 113.10,110.24 113.25,110.12 113.40,110.05 113.55,109.99 113.71,109.93 113.86,109.91 114.01,109.91 114.10,109.95 114.16,110.03 114.32,110.06 114.47,110.13 114.62,110.22 114.77,110.21 114.93,110.32 115.08,110.32 115.10,110.32 115.23,110.33 115.38,110.39 115.54,110.33 115.69,110.40 115.84,110.36 116,110.37 116.10,110.34 116.15,110.32 116.30,110.31 116.45,110.40 116.61,110.32 116.76,110.37 116.91,110.37 117.10,110.43 118.10,110.33 119.10,110.40 120.10,110.39 121.10,110.38 122.10,110.37 123.10,110.34 124.10,110.30 125.10,110.20 125.27,110.20 125.43,110.13 125.59,110.08 125.76,110.05 125.92,110.08 126.09,110 126.10,109.99 126.25,109.95 126.41,109.92 126.58,109.86 126.74,109.69 126.90,109.54 127.07,109.33 127.10,109.23 127.23,108.99 127.39,108.35 127.56,107.46 127.72,106.30 127.88,104.94 128.05,103.05 128.10,102.48 128.21,101.36 128.38,99.82 128.54,99.34 128.70,99.88 128.87,101.39 129.03,103.12 129.10,103.83 129.19,104.81 129.36,106.34 129.52,107.46 129.68,108.39 129.85,108.90 130.01,109.26 130.10,109.44 130.17,109.57 130.34,109.76 130.50,109.83 130.67,109.93 130.83,110 130.99,110 131.10,110.04 131.16,110.10 131.32,110.14 131.48,110.13 131.65,110.13 131.81,110.16 132.10,110.19 133.10,110.23 133.52,110.26 133.69,110.31 133.86,110.27 134.03,110.29 134.10,110.33 134.20,110.35 134.37,110.33 134.54,110.29 134.71,110.29 134.88,110.34 135.05,110.31 135.10,110.37 135.22,110.30 135.39,110.31 135.56,110.26 135.73,110.24 135.90,110.31 136.07,110.16 136.10,110.25 136.24,110.11 136.41,110.05 136.58,110.08 136.74,110.03 136.91,110.03 137.08,109.95 137.10,109.98 137.25,110 137.42,110.08 137.59,110.19 137.76,110.19 137.93,110.29 138.10,110.32 138.27,110.33 138.44,110.31 138.61,110.36 138.78,110.34 138.95,110.34 139.10,110.32 139.12,110.36 139.29,110.37 139.46,110.35 139.63,110.37 139.80,110.34 139.97,110.41 140.10,110.40 140.14,110.42 141.10,110.38 142.10,110.33 143.10,110.36 144.10,110.36 145.10,110.33 146.10,110.34 147.10,110.40 148.10,110.41 149.10,110.37 150.10,110.40 151.10,110.35 152.10,110.41 153.10,110.36 154.10,110.31 155.10,110.34 156.10,110.31 156.84,110.19 157.03,110.24 157.10,110.15 157.21,110.17 157.40,110.11 157.59,110.13 157.78,110.10 157.96,110.09 158.10,110.07 158.15,109.95 158.34,109.97 158.53,109.90 158.71,109.67 158.90,109.52 159.09,109.22 159.10,109.15 159.27,108.76 159.46,108.14 159.65,107.19 159.84,105.93 160.02,104.58 160.10,104.01 160.21,103.18 160.40,101.99 160.59,101.61 160.77,101.95 160.96,103.11 161.10,104.24 161.15,104.57 161.34,105.99 161.52,107.20 161.71,108.11 161.90,108.74 162.08,109.22 162.10,109.23 162.27,109.55 162.46,109.66 162.65,109.83 162.83,109.92 163.02,110.06 163.10,110.04 163.21,110.11 163.40,110.10 163.58,110.16 163.77,110.18 163.96,110.19 164.10,110.23 164.15,110.22 165.10,110.25 166.10,110.32 166.67,110.28 166.86,110.23 167.06,110.25 167.10,110.22 167.25,110.32 167.45,110.25 167.64,110.30 167.84,110.20 168.03,110.25 168.10,110.21 168.23,110.20 168.42,110.25 168.62,110.22 168.81,110.08 169,110 169.10,109.99 169.20,109.97 169.39,109.79 169.59,109.44 169.78,109.13 169.98,108.77 170.10,108.49 170.17,108.33 170.37,108.11 170.56,107.90 170.76,108 170.95,108.32 171.10,108.62 171.15,108.78 171.34,109.13 171.54,109.53 171.73,109.70 171.93,109.91 172.10,110.05 172.12,110.11 172.32,110.18 172.51,110.20 172.70,110.18 172.90,110.25 173.09,110.23 173.10,110.31 173.29,110.31 173.48,110.33 173.68,110.33 173.87,110.28 174.07,110.33 174.10,110.34 174.26,110.30 174.27,110.33 174.47,110.28 174.67,110.31 174.87,110.29 175.07,110.34 175.10,110.35 175.27,110.34 175.47,110.28 175.67,110.28 175.87,110.32 176.07,110.33 176.10,110.38 176.27,110.27 176.47,110.28 176.67,110.28 176.87,110.27 177.07,110.19 177.10,110.15 177.27,110.15 177.47,110.09 177.67,110.02 177.87,110 178.07,110.08 178.10,110.08 178.27,110.08 178.47,110.10 178.67,110.20 178.87,110.30 179.08,110.31 179.10,110.32 179.28,110.28 179.48,110.36 179.68,110.29 179.88,110.38 180.08,110.40 180.10,110.42 180.28,110.36 180.48,110.37 180.68,110.34 180.88,110.35 181.08,110.37 181.10,110.43 181.28,110.32 181.48,110.41 181.68,110.41 181.88,110.42 182.10,110.37 183.10,110.36 184.10,110.41 185.10,110.42 186.10,110.45 187.10,110.38 188.10,110.36 189.10,110.44 190.10,110.42 191.10,110.36 192.10,110.37 193.10,110.43 194.10,110.33 195.10,110.36 196.10,110.36 197.10,110.41 198.10,110.33 199.10,110.39 200.10,110.37 201.10,110.33 202.10,110.34 203.10,110.41 203.83,110.41 204.05,110.40 204.10,110.41 204.28,110.32 204.50,110.35 204.72,110.36 204.94,110.37 205.10,110.35 205.17,110.35 205.39,110.31 205.61,110.34 205.83,110.27 206.06,110.25 206.10,110.24 206.28,110.23 206.50,110.26 206.73,110.16 206.95,110.01 207.10,109.98 207.17,109.90 207.39,109.77 207.62,109.48 207.84,109.33 208.06,109.16 208.10,109.08 208.28,109.12 208.51,109.20 208.73,109.32 208.95,109.53 209.10,109.71 209.18,109.75 209.40,109.88 209.62,110 209.84,110.10 210.07,110.18 210.10,110.28 210.29,110.28 210.51,110.29 210.73,110.36 210.96,110.29 211.10,110.35 211.18,110.29 211.40,110.31 211.63,110.37 211.85,110.36 212.07,110.35 212.10,110.38 212.29,110.41 212.52,110.36 213.10,110.37 214.10,110.28 215.10,110.06 216.10,110.23 217.10,110.36 218.10,110.43 219.10,110.34 220.10,110.40 221.10,110.42 222.10,110.34 223.10,110.32 224.10,110.38 225.10,110.27 226.10,110.05 227.10,110.19 228.10,110.33 228.13,110.35 228.37,110.38 228.61,110.28 228.85,110.29 229.10,110.36 229.34,110.30 229.58,110.35 229.82,110.28 230.06,110.31 230.10,110.27 230.30,110.29 230.31,110.34 230.54,110.27 230.55,110.26 230.78,110.31 230.80,110.31 231.02,110.26 231.04,110.20 231.10,110.16 231.26,110.20 231.28,110.15 231.51,110.11 231.52,110.16 231.75,110.07 231.77,110.02 231.99,109.97 232.01,109.96 232.10,109.90 232.23,109.90 232.25,109.86 232.47,109.74 232.50,109.72 232.71,109.60 232.74,109.64 232.95,109.54 232.98,109.53 233.10,109.54 233.19,109.43 233.22,109.40 233.43,109.39 233.47,109.39 233.67,109.29 233.71,109.25 233.92,109.07 233.95,109.04 234.10,108.77 234.16,108.75 234.19,108.72 234.40,108.31 234.44,108.31 234.64,107.90 234.68,107.81 234.88,107.46 234.92,107.48 235.10,107.38 235.12,107.26 235.16,107.38 235.36,107.44 235.41,107.48 235.60,107.72 235.65,107.89 235.84,108.29 235.89,108.39 236.09,108.77 236.10,108.82 236.14,108.81 236.33,109.18 236.38,109.23 236.57,109.54 236.62,109.55 236.81,109.71 236.86,109.83 237.05,109.87 237.10,109.98 237.11,109.93 237.29,109.98 237.35,110.06 237.53,110.06 237.59,110.14 237.83,110.17 238.08,110.14 238.10,110.18 238.32,110.27 238.56,110.27 238.80,110.23 239,110.26 239.05,110.30 239.10,110.21 239.25,110.27 239.29,110.20 239.50,110.27 239.53,110.29 239.75,110.26 239.78,110.21 240,110.20 240.02,110.24 240.10,110.28 240.25,110.24 240.50,110.26 240.74,110.24 240.99,110.27 241.10,110.25 241.24,110.13 241.49,110.11 241.74,110.11 241.99,109.98 242.10,109.99 242.24,109.81 242.49,109.62 242.74,109.31 242.99,108.96 243.10,108.77 243.24,108.47 243.49,108.07 243.74,107.74 243.98,107.60 244.10,107.53 244.23,107.72 244.48,108.11 244.73,108.50 244.98,109.01 245.10,109.16 245.23,109.31 245.48,109.67 245.49,109.66 245.73,109.80 245.75,109.83 245.98,109.96 246,110.07 246.10,110 246.23,110.09 246.25,110.14 246.48,110.10 246.51,110.21 246.73,110.14 246.76,110.26 246.97,110.27 247.02,110.23 247.10,110.22 247.22,110.23 247.27,110.20 247.47,110.30 247.52,110.23 247.72,110.28 247.78,110.21 247.97,110.25 248.03,110.24 248.10,110.31 248.22,110.21 248.29,110.29 248.47,110.29 248.54,110.26 248.72,110.20 248.79,110.25 248.97,110.21 249.05,110.18 249.10,110.21 249.30,110.18 249.56,110.07 249.81,109.95 250.07,109.87 250.10,109.91 250.32,109.80 250.57,109.75 250.83,109.80 251.08,109.94 251.10,109.96 251.34,109.94 251.59,110.06 251.84,110.19 252.10,110.20 252.35,110.26 252.61,110.28 252.86,110.34 253.10,110.31 253.11,110.35 253.37,110.36 253.62,110.37 253.88,110.32 254.10,110.31 254.13,110.38 254.38,110.41 254.64,110.39 254.89,110.33 255.10,110.38 255.15,110.43 255.40,110.33 255.66,110.38 256.10,110.42 257.10,110.34 258.10,110.37 259.10,110.32 260.10,110.26 260.90,110.14" fill="none" stroke="#48bb7e" stroke-width="1.05" stroke-linejoin="round"/>
<polyline points="26.10,136.85 27.10,136.91 28.10,136.86 29.10,136.90 30.10,136.88 31.10,136.93 32.10,136.88 33.10,136.94 34.10,136.85 35.10,136.93 36.10,136.88 37.10,136.85 38.10,136.85 39.10,136.85 40.10,136.90 41.10,136.94 42.10,136.83 43.10,136.91 44.10,136.84 45.10,136.89 46.10,136.89 47.10,136.87 48.10,136.87 49.10,136.83 50.10,136.85 51.10,136.89 52.10,136.83 53.10,136.87 53.23,136.77 53.38,136.85 53.53,136.82 53.68,136.79 53.83,136.81 53.98,136.74 54.10,136.75 54.13,136.80 54.28,136.78 54.43,136.73 54.58,136.75 54.73,136.72 54.88,136.73 55.03,136.67 55.10,136.64 55.18,136.58 55.33,136.58 55.48,136.43 55.63,136.38 55.78,136.24 55.93,136.11 56.08,135.91 56.10,136 56.23,135.93 56.38,135.94 56.53,136 56.68,136.12 56.83,136.30 56.98,136.35 57.10,136.37 57.13,136.45 57.28,136.48 57.43,136.41 57.58,136.51 57.65,136.49 57.73,136.47 57.80,136.37 57.88,136.41 57.95,136.39 58.03,136.35 58.10,136.28 58.11,136.38 58.18,136.34 58.26,136.28 58.33,136.22 58.41,136.24 58.48,136.17 58.56,136.10 58.63,136.11 58.71,136.02 58.78,135.99 58.86,135.80 58.93,135.82 59.01,135.69 59.08,135.52 59.10,135.53 59.16,135.36 59.23,135.20 59.31,134.87 59.46,134.26 59.62,133.18 59.77,131.67 59.92,129.51 60.07,126.76 60.10,126.16 60.22,123.60 60.37,120.39 60.52,117.76 60.67,116.80 60.82,117.76 60.97,120.26 61.10,123.07 61.12,123.55 61.28,126.89 61.43,129.58 61.58,131.74 61.73,133.23 61.88,134.22 62.03,134.94 62.10,135.17 62.18,135.36 62.33,135.71 62.48,135.89 62.63,135.95 62.79,136.16 62.94,136.19 63.09,136.36 63.10,136.33 63.24,136.36 63.39,136.44 63.54,136.41 63.69,136.45 64.10,136.61 65.10,136.75 66.10,136.71 67.10,136.76 68.10,136.81 69.10,136.88 70.10,136.89 71.10,136.80 72.10,136.79 73.10,136.79 73.60,136.78 73.76,136.78 73.93,136.75 74.10,136.73 74.27,136.69 74.43,136.69 74.60,136.68 74.77,136.66 74.93,136.56 75.10,136.47 75.27,136.47 75.43,136.28 75.60,136.10 75.77,135.84 75.94,135.40 76.10,134.73 76.27,134.01 76.44,133.07 76.60,132.17 76.77,131.31 76.94,131.07 77.10,131.39 77.11,131.39 77.27,132.08 77.44,133.05 77.61,134.03 77.77,134.70 77.94,135.35 78.10,135.83 78.11,135.84 78.27,136.14 78.44,136.37 78.61,136.43 78.78,136.56 78.94,136.57 79.10,136.59 79.11,136.65 79.28,136.69 79.44,136.70 79.61,136.71 79.78,136.78 79.95,136.76 80.10,136.78 80.11,136.81 81.10,136.77 82.10,136.81 83.10,136.85 84.10,136.90 84.39,136.82 84.57,136.86 84.75,136.80 84.93,136.83 85.10,136.87 85.11,136.81 85.28,136.83 85.46,136.85 85.64,136.79 85.82,136.84 86,136.86 86.10,136.86 86.17,136.79 86.35,136.81 86.53,136.79 86.71,136.75 86.88,136.59 87.06,136.54 87.10,136.44 87.24,136.33 87.42,136.18 87.60,136.09 87.77,135.88 87.95,135.86 88.10,135.87 88.13,135.88 88.31,136.08 88.49,136.24 88.66,136.33 88.84,136.54 89.02,136.67 89.10,136.72 89.20,136.69 89.38,136.77 89.55,136.73 89.73,136.87 89.91,136.83 90.09,136.81 90.10,136.82 90.27,136.80 90.44,136.83 90.62,136.81 90.80,136.80 90.98,136.81 91.10,136.85 91.16,136.87 91.33,136.86 91.51,136.90 92.10,136.90 93.10,136.87 94.10,136.89 95.10,136.90 96.10,136.93 97.10,136.83 98.10,136.91 99.10,136.89 100.10,136.90 101.10,136.88 102.10,136.85 103.10,136.83 104.10,136.87 105.10,136.83 106.10,136.90 107.10,136.89 108.10,136.90 109.10,136.82 110.02,136.92 110.10,136.91 110.23,136.84 110.43,136.90 110.63,136.92 110.84,136.88 111.04,136.87 111.10,136.87 111.25,136.89 111.45,136.88 111.65,136.88 111.86,136.89 112.06,136.84 112.10,136.87 112.27,136.87 112.47,136.76 112.67,136.74 112.88,136.76 113.08,136.69 113.10,136.74 113.28,136.69 113.49,136.54 113.69,136.41 113.90,136.45 114.10,136.38 114.30,136.36 114.51,136.52 114.71,136.53 114.91,136.65 115.10,136.65 115.12,136.65 115.32,136.70 115.53,136.75 115.73,136.86 115.93,136.80 116.10,136.82 116.14,136.86 116.34,136.87 116.55,136.85 116.75,136.86 116.95,136.86 117.10,136.79 117.16,136.88 117.36,136.81 117.56,136.89 117.77,136.83 117.97,136.86 118.10,136.86 118.18,136.85 119.10,136.89 120.10,136.87 121.10,136.84 122.10,136.84 123.10,136.73 124.10,136.70 124.44,136.68 124.66,136.65 124.88,136.69 125.09,136.69 125.10,136.68 125.31,136.55 125.53,136.56 125.75,136.45 125.97,136.47 126.10,136.42 126.19,136.36 126.40,136.24 126.62,136.14 126.84,135.91 127.06,135.59 127.10,135.52 127.28,135 127.50,134.22 127.71,133.26 127.93,131.93 128.10,130.61 128.15,130.28 128.37,128.61 128.59,127.35 128.81,126.89 129.02,127.30 129.10,127.78 129.24,128.57 129.46,130.30 129.68,131.89 129.90,133.30 130.10,134.25 130.12,134.28 130.33,135.09 130.55,135.61 130.77,135.96 130.99,136.19 131.10,136.21 131.21,136.31 131.43,136.35 131.64,136.43 131.86,136.50 132.08,136.50 132.10,136.50 132.30,136.61 132.52,136.59 132.66,136.61 132.74,136.68 132.89,136.63 132.95,136.72 133.10,136.66 133.12,136.63 133.34,136.68 133.57,136.69 133.80,136.71 134.02,136.75 134.10,136.79 134.25,136.76 134.48,136.78 134.70,136.72 134.93,136.71 135.10,136.70 135.16,136.78 135.38,136.70 135.61,136.69 135.84,136.77 136.06,136.67 136.10,136.71 136.29,136.67 136.52,136.57 136.74,136.47 136.97,136.49 137.10,136.46 137.20,136.43 137.42,136.45 137.65,136.55 137.88,136.62 138.10,136.70 138.33,136.72 138.56,136.68 138.78,136.81 139.01,136.77 139.10,136.79 139.24,136.77 139.46,136.79 139.69,136.88 139.92,136.85 140.10,136.80 140.14,136.82 140.37,136.80 140.60,136.90 140.82,136.81 141.05,136.86 141.10,136.81 141.28,136.84 141.50,136.87 141.73,136.85 142.10,136.91 143.10,136.81 144.10,136.81 145.10,136.84 146.10,136.84 147.10,136.83 148.10,136.86 149.10,136.88 150.10,136.83 151.10,136.78 152.10,136.78 153.10,136.78 154.10,136.83 155.10,136.78 155.91,136.74 156.10,136.69 156.16,136.64 156.41,136.66 156.66,136.64 156.91,136.63 157.10,136.63 157.16,136.61 157.41,136.48 157.66,136.44 157.91,136.40 158.10,136.33 158.16,136.36 158.41,136.26 158.66,136.06 158.91,135.75 159.10,135.40 159.16,135.17 159.41,134.54 159.66,133.63 159.91,132.42 160.10,131.35 160.16,131 160.41,129.52 160.66,128.32 160.91,127.87 161.10,128.12 161.16,128.26 161.41,129.48 161.66,130.94 161.91,132.30 162.10,133.31 162.16,133.54 162.41,134.54 162.66,135.18 162.91,135.73 163.10,135.95 163.16,135.94 163.41,136.20 163.66,136.29 163.91,136.43 164.10,136.49 164.16,136.47 164.41,136.52 164.66,136.60 164.91,136.58 165.10,136.61 165.17,136.62 165.42,136.59 165.67,136.59 165.71,136.65 165.92,136.68 165.97,136.62 166.10,136.63 166.23,136.66 166.49,136.65 166.75,136.69 167.01,136.64 167.10,136.66 167.27,136.62 167.53,136.68 167.79,136.69 168.05,136.57 168.10,136.59 168.31,136.53 168.57,136.47 168.83,136.37 169.09,136.25 169.10,136.19 169.35,135.98 169.61,135.67 169.87,135.27 170.10,134.83 170.13,134.75 170.39,134.22 170.65,133.81 170.91,133.62 171.10,133.67 171.17,133.79 171.43,134.19 171.69,134.79 171.95,135.22 172.10,135.50 172.21,135.65 172.47,136.04 172.73,136.25 172.89,136.38 172.99,136.40 173.10,136.49 173.16,136.47 173.25,136.50 173.43,136.59 173.51,136.61 173.69,136.62 173.77,136.66 173.96,136.63 174.03,136.64 174.10,136.70 174.23,136.69 174.29,136.76 174.49,136.68 174.55,136.72 174.76,136.80 174.81,136.81 175.03,136.71 175.07,136.72 175.10,136.74 175.30,136.77 175.33,136.80 175.56,136.77 175.59,136.72 175.83,136.75 175.85,136.82 176.10,136.80 176.37,136.80 176.63,136.68 176.90,136.64 177.10,136.60 177.17,136.64 177.43,136.60 177.70,136.57 177.97,136.49 178.10,136.47 178.24,136.46 178.50,136.49 178.77,136.50 179.04,136.55 179.10,136.62 179.30,136.62 179.57,136.74 179.84,136.79 180.10,136.75 180.11,136.84 180.37,136.86 180.64,136.77 180.91,136.84 181.10,136.85 181.18,136.81 181.44,136.80 181.71,136.87 181.98,136.82 182.10,136.90 182.24,136.81 182.51,136.87 182.78,136.88 183.05,136.92 183.10,136.92 183.31,136.88 184.10,136.92 185.10,136.85 186.10,136.82 187.10,136.90 188.10,136.85 189.10,136.87 190.10,136.87 191.10,136.85 192.10,136.88 193.10,136.84 194.10,136.92 195.10,136.86 196.10,136.88 197.10,136.92 198.10,136.91 199.10,136.82 200.10,136.86 201.10,136.87 202.10,136.87 202.76,136.82 203.06,136.84 203.10,136.89 203.36,136.80 203.66,136.81 203.95,136.81 204.10,136.82 204.25,136.82 204.55,136.86 204.85,136.77 205.10,136.79 205.14,136.86 205.44,136.77 205.74,136.79 206.04,136.80 206.10,136.70 206.33,136.74 206.63,136.64 206.93,136.57 207.10,136.44 207.23,136.37 207.52,136.15 207.82,135.91 208.10,135.70 208.12,135.71 208.42,135.56 208.71,135.43 209.01,135.58 209.10,135.62 209.31,135.72 209.44,135.84 209.60,135.95 209.75,136.11 209.90,136.21 210.05,136.34 210.10,136.32 210.20,136.40 210.36,136.42 210.50,136.55 210.66,136.62 210.79,136.60 210.97,136.70 211.09,136.65 211.10,136.69 211.27,136.77 211.39,136.72 211.57,136.70 211.69,136.79 211.88,136.77 211.98,136.78 212.10,136.74 212.18,136.74 212.28,136.85 212.49,136.82 212.58,136.77 212.79,136.81 212.88,136.80 213.09,136.79 213.10,136.86 213.17,136.85 213.40,136.74 213.47,136.80 213.70,136.78 213.77,136.76 214.01,136.71 214.07,136.69 214.10,136.78 214.31,136.69 214.36,136.76 214.61,136.66 214.92,136.58 215.10,136.59 215.22,136.59 215.53,136.52 215.83,136.56 216.10,136.57 216.14,136.62 216.44,136.69 216.74,136.70 217.05,136.76 217.10,136.83 217.35,136.84 217.66,136.76 217.96,136.81 218.10,136.89 218.26,136.81 218.57,136.82 218.87,136.91 219.10,136.80 219.18,136.90 219.48,136.86 219.79,136.83 220.09,136.86 220.10,136.88 220.39,136.86 220.46,136.85 220.70,136.81 220.77,136.82 221,136.80 221.09,136.82 221.10,136.86 221.31,136.88 221.40,136.81 221.61,136.81 221.72,136.88 222.03,136.82 222.10,136.88 222.35,136.91 222.66,136.86 222.98,136.80 223.10,136.85 223.29,136.81 223.61,136.80 223.92,136.80 224.10,136.86 224.24,136.78 224.55,136.86 224.87,136.78 225.10,136.81 225.18,136.77 225.50,136.66 225.81,136.62 226.10,136.56 226.13,136.60 226.44,136.57 226.76,136.59 227,136.56 227.08,136.52 227.10,136.58 227.32,136.55 227.39,136.62 227.65,136.60 227.71,136.68 227.97,136.63 228.02,136.73 228.10,136.75 228.29,136.71 228.34,136.69 228.61,136.72 228.65,136.76 228.93,136.74 228.97,136.80 229.10,136.79 229.18,136.80 229.26,136.81 229.28,136.83 229.50,136.81 229.58,136.77 229.60,136.76 229.83,136.79 229.90,136.76 229.91,136.79 230.10,136.73 230.15,136.82 230.22,136.73 230.23,136.71 230.47,136.74 230.54,136.73 230.80,136.67 230.86,136.76 230.87,136.76 231.10,136.69 231.12,136.66 231.17,136.67 231.19,136.68 231.45,136.64 231.49,136.63 231.51,136.57 231.77,136.61 231.80,136.53 231.83,136.59 232.09,136.41 232.10,136.48 232.12,136.41 232.15,136.46 232.42,136.31 232.43,136.32 232.47,136.25 232.74,136.18 232.75,136.18 232.80,136.15 233.07,136.05 233.10,135.95 233.12,136.01 233.39,135.91 233.44,135.88 233.71,135.70 233.76,135.65 234.04,135.55 234.08,135.48 234.10,135.56 234.36,135.31 234.41,135.29 234.69,135.13 234.73,135.12 235.01,134.84 235.05,134.81 235.10,134.76 235.33,134.58 235.37,134.62 235.66,134.57 235.69,134.57 235.98,134.73 236.01,134.71 236.10,134.77 236.31,135.02 236.34,135.07 236.63,135.33 236.66,135.44 236.95,135.67 236.98,135.73 237.10,135.90 237.28,136.08 237.30,136 237.60,136.31 237.62,136.24 237.85,136.39 237.93,136.40 237.95,136.47 238.10,136.46 238.18,136.55 238.25,136.53 238.27,136.49 238.51,136.59 238.58,136.65 238.59,136.64 238.84,136.66 238.90,136.62 238.91,136.62 239.10,136.69 239.18,136.67 239.22,136.70 239.23,136.68 239.51,136.72 239.55,136.64 239.56,136.71 239.84,136.73 239.87,136.69 240.10,136.74 240.18,136.76 240.20,136.72 240.51,136.67 240.52,136.72 240.84,136.72 241.10,136.70 241.17,136.66 241.49,136.67 241.51,136.63 241.82,136.58 241.84,136.63 242.10,136.52 242.17,136.44 242.50,136.36 242.84,136.08 243.10,135.96 243.17,135.85 243.50,135.54 243.84,135.18 244.10,135.05 244.17,134.99 244.32,134.89 244.50,134.80 244.66,134.87 244.83,134.90 245,135.06 245.10,135.09 245.17,135.26 245.34,135.33 245.50,135.56 245.68,135.74 245.83,135.85 246.02,136.02 246.10,136.02 246.17,136.07 246.36,136.23 246.50,136.37 246.70,136.46 246.83,136.49 247.04,136.57 247.10,136.60 247.16,136.62 247.38,136.66 247.50,136.67 247.72,136.72 247.83,136.70 248.05,136.64 248.10,136.65 248.16,136.68 248.39,136.64 248.49,136.64 248.73,136.73 248.83,136.73 249.07,136.67 249.10,136.64 249.16,136.58 249.41,136.65 249.49,136.56 249.75,136.49 249.83,136.53 250.09,136.40 250.10,136.39 250.16,136.47 250.43,136.33 250.49,136.33 250.77,136.24 250.82,136.31 251.10,136.23 251.11,136.30 251.45,136.34 251.79,136.37 252.10,136.47 252.13,136.47 252.47,136.60 252.81,136.59 253.10,136.71 253.14,136.71 253.48,136.78 253.82,136.75 254.10,136.85 254.16,136.76 254.50,136.87 254.84,136.79 255.10,136.85 255.18,136.83 255.52,136.88 255.86,136.82 256.10,136.89 256.20,136.83 256.54,136.84 256.88,136.82 257.10,136.81 257.22,136.83 257.56,136.91 257.89,136.83 258.10,136.92 259.10,136.84 260.10,136.83 260.90,136.93" fill="none" stroke="#bb88ee" stroke-width="1.05" stroke-linejoin="round"/>
<polyline points="26.10,163.45 27.10,163.36 28.10,163.41 29.10,163.37 30.10,163.36 31.10,163.34 32.10,163.39 33.10,163.35 34.10,163.34 35.10,163.36 36.10,163.41 37.10,163.34 38.10,163.40 39.10,163.34 40.10,163.40 41.10,163.39 42.10,163.44 43.10,163.43 44.10,163.33 45.10,163.38 46.10,163.35 47.10,163.38 48.10,163.34 49.10,163.36 50.10,163.40 51.10,163.37 52.10,163.32 53.10,163.36 53.58,163.25 53.74,163.35 53.90,163.29 54.07,163.24 54.10,163.26 54.23,163.32 54.39,163.32 54.55,163.24 54.72,163.27 54.88,163.29 55.04,163.28 55.10,163.21 55.20,163.27 55.37,163.21 55.53,163.10 55.69,163.13 55.85,162.99 56.02,162.99 56.10,162.91 56.18,162.86 56.34,162.64 56.50,162.52 56.67,162.37 56.83,162.30 56.99,162.34 57.10,162.47 57.15,162.46 57.32,162.63 57.48,162.64 57.64,162.78 57.80,162.83 57.97,162.81 58.02,162.80 58.10,162.85 58.13,162.87 58.18,162.81 58.29,162.80 58.34,162.86 58.45,162.81 58.51,162.74 58.62,162.70 58.67,162.69 58.78,162.69 58.84,162.70 58.94,162.56 59,162.61 59.10,162.49 59.17,162.47 59.27,162.32 59.33,162.32 59.43,162.20 59.49,162.06 59.59,161.91 59.66,161.74 59.75,161.62 59.82,161.40 59.92,160.94 59.99,160.63 60.10,159.90 60.15,159.58 60.31,158.10 60.48,155.79 60.64,153.07 60.81,149.59 60.97,146.31 61.10,144.07 61.14,143.63 61.30,142.58 61.46,143.62 61.63,146.29 61.79,149.67 61.96,153.03 62.10,155.45 62.12,155.83 62.29,158.04 62.45,159.63 62.61,160.69 62.78,161.39 62.94,161.86 63.10,162.11 63.11,162.10 63.27,162.27 63.43,162.50 63.60,162.60 63.76,162.67 63.93,162.80 64.09,162.86 64.10,162.86 64.26,162.86 64.42,162.96 64.58,162.95 65.10,163.13 66.10,163.21 67.10,163.27 68.10,163.31 69.10,163.34 70.10,163.32 71.10,163.27 72.10,163.29 73.10,163.23 74.04,163.27 74.10,163.27 74.22,163.27 74.40,163.22 74.58,163.25 74.76,163.15 74.95,163.17 75.10,163.20 75.13,163.13 75.31,163.11 75.49,163.09 75.67,163.02 75.85,162.89 76.04,162.70 76.10,162.69 76.22,162.58 76.40,162.29 76.58,161.79 76.76,161.15 76.95,160.24 77.10,159.43 77.13,159.28 77.31,158.29 77.49,157.40 77.67,157.08 77.85,157.41 78.04,158.23 78.10,158.60 78.22,159.25 78.40,160.27 78.58,161.08 78.76,161.71 78.94,162.20 79.10,162.49 79.13,162.55 79.31,162.79 79.49,162.87 79.67,162.95 79.85,163.09 80.04,163.15 80.10,163.18 80.22,163.17 80.40,163.21 80.58,163.23 80.76,163.26 80.94,163.25 81.10,163.29 81.13,163.19 81.31,163.31 82.10,163.36 83.10,163.27 84.10,163.35 84.89,163.31 85.08,163.36 85.10,163.39 85.27,163.39 85.47,163.28 85.66,163.39 85.86,163.34 86.05,163.35 86.10,163.31 86.24,163.34 86.44,163.28 86.63,163.34 86.82,163.29 87.02,163.21 87.10,163.25 87.21,163.18 87.40,163.24 87.60,163.06 87.79,163.01 87.99,162.79 88.10,162.74 88.18,162.72 88.37,162.49 88.57,162.43 88.76,162.33 88.95,162.36 89.10,162.53 89.15,162.58 89.34,162.65 89.54,162.90 89.73,162.97 89.92,163.11 90.10,163.22 90.12,163.15 90.31,163.26 90.50,163.31 90.70,163.25 90.89,163.26 91.08,163.35 91.10,163.27 91.28,163.38 91.47,163.31 91.67,163.34 91.86,163.38 92.05,163.37 92.10,163.38 92.25,163.34 92.44,163.37 93.10,163.38 94.10,163.35 95.10,163.40 96.10,163.43 97.10,163.38 98.10,163.34 99.10,163.41 100.10,163.41 101.10,163.33 102.10,163.42 103.10,163.33 104.10,163.41 105.10,163.42 106.10,163.36 107.10,163.33 108.10,163.38 109.10,163.41 110.10,163.42 110.65,163.43 110.87,163.35 111.09,163.34 111.10,163.39 111.32,163.37 111.54,163.33 111.76,163.34 111.98,163.34 112.10,163.31 112.20,163.39 112.43,163.30 112.65,163.33 112.87,163.36 113.09,163.31 113.10,163.35 113.31,163.32 113.54,163.24 113.76,163.21 113.98,163.18 114.10,163.11 114.20,163.07 114.42,163.05 114.64,163 114.87,162.83 115.09,162.91 115.10,162.86 115.31,162.93 115.53,162.94 115.75,162.99 115.98,163.17 116.10,163.15 116.20,163.19 116.42,163.22 116.64,163.23 116.86,163.28 117.08,163.37 117.10,163.34 117.31,163.33 117.53,163.37 117.75,163.30 117.97,163.36 118.10,163.36 118.19,163.38 118.42,163.34 118.64,163.31 118.86,163.39 119.08,163.34 119.10,163.37 119.30,163.40 120.10,163.35 121.10,163.32 122.10,163.31 123.10,163.24 124.10,163.24 125.10,163.16 125.15,163.18 125.38,163.17 125.62,163.12 125.86,163.10 126.10,163.08 126.34,163.09 126.57,163.06 126.81,162.93 127.05,162.96 127.10,162.90 127.29,162.76 127.52,162.70 127.76,162.46 128,162.15 128.10,161.93 128.24,161.59 128.47,160.98 128.71,159.93 128.95,158.56 129.10,157.68 129.19,157.02 129.43,155.54 129.66,154.32 129.90,153.86 130.10,154.12 130.14,154.31 130.38,155.52 130.61,157.04 130.85,158.62 131.09,159.86 131.10,160 131.33,160.87 131.57,161.62 131.80,162.16 132.04,162.44 132.10,162.53 132.28,162.67 132.52,162.75 132.75,162.90 132.99,162.96 133.10,163.05 133.23,163.08 133.42,163.06 133.47,163.08 133.67,163.04 133.70,163.09 133.91,163.08 133.94,163.12 134.10,163.10 134.16,163.17 134.18,163.21 134.41,163.15 134.42,163.16 134.65,163.23 134.90,163.24 135.10,163.22 135.15,163.17 135.39,163.21 135.64,163.25 135.89,163.23 136.10,163.26 136.13,163.25 136.38,163.27 136.63,163.20 136.87,163.25 137.10,163.16 137.12,163.21 137.37,163.15 137.61,163.01 137.86,162.94 138.10,162.93 138.11,162.88 138.35,162.89 138.60,162.93 138.85,162.98 139.09,163.12 139.10,163.11 139.34,163.10 139.59,163.21 139.84,163.18 140.08,163.30 140.10,163.30 140.33,163.33 140.58,163.26 140.82,163.31 141.07,163.36 141.10,163.38 141.32,163.32 141.56,163.40 141.81,163.30 142.06,163.38 142.10,163.31 142.30,163.30 142.55,163.37 142.80,163.34 143.04,163.33 143.10,163.36 144.10,163.37 145.10,163.31 146.10,163.39 147.10,163.35 148.10,163.42 149.10,163.35 150.10,163.30 151.10,163.37 152.10,163.32 153.10,163.36 154.10,163.34 155.10,163.32 156.10,163.24 156.81,163.28 157.08,163.30 157.10,163.24 157.35,163.22 157.62,163.20 157.90,163.19 158.10,163.20 158.17,163.14 158.44,163.16 158.71,163.12 158.99,163.08 159.10,163.07 159.26,163.01 159.53,162.86 159.80,162.75 160.08,162.51 160.10,162.52 160.35,162.19 160.62,161.64 160.89,160.91 161.10,160.33 161.17,160.02 161.44,158.94 161.71,157.92 161.98,157.02 162.10,156.88 162.25,156.69 162.53,157.12 162.80,157.95 163.07,159.04 163.10,159.17 163.34,160 163.62,160.98 163.89,161.67 164.10,162.03 164.16,162.19 164.43,162.45 164.71,162.77 164.98,162.81 165.10,162.87 165.25,162.97 165.52,162.98 165.80,163.04 166.07,163.06 166.10,163.14 166.34,163.15 166.61,163.19 166.67,163.18 166.89,163.18 166.95,163.14 167.10,163.22 167.16,163.19 167.24,163.23 167.43,163.22 167.52,163.27 167.80,163.21 168.09,163.21 168.10,163.21 168.37,163.18 168.65,163.22 168.93,163.25 169.10,163.16 169.22,163.22 169.50,163.23 169.78,163.16 170.07,163.08 170.10,163.13 170.35,163.06 170.63,162.96 170.92,162.72 171.10,162.61 171.20,162.47 171.48,162.29 171.77,161.97 172.05,161.81 172.10,161.78 172.33,161.73 172.62,161.76 172.90,161.96 173.10,162.19 173.18,162.22 173.47,162.49 173.75,162.71 173.90,162.83 174.03,162.93 174.10,162.97 174.19,162.97 174.32,163.08 174.48,163.14 174.60,163.08 174.77,163.13 174.88,163.18 175.06,163.18 175.10,163.28 175.17,163.20 175.35,163.24 175.45,163.28 175.65,163.29 175.73,163.25 175.94,163.23 176.01,163.25 176.10,163.34 176.23,163.28 176.30,163.31 176.52,163.33 176.58,163.35 176.81,163.29 176.86,163.32 177.10,163.31 177.15,163.29 177.39,163.24 177.43,163.31 177.68,163.26 177.71,163.25 177.97,163.21 178.10,163.18 178.27,163.23 178.56,163.10 178.85,163.13 179.10,163.03 179.14,162.99 179.43,162.92 179.72,162.96 180.01,162.95 180.10,162.96 180.30,163.08 180.59,163.06 180.89,163.12 181.10,163.25 181.18,163.24 181.47,163.27 181.76,163.24 182.05,163.26 182.10,163.36 182.34,163.35 182.63,163.39 182.92,163.40 183.10,163.39 183.21,163.30 183.51,163.31 183.80,163.40 184.09,163.35 184.10,163.35 184.38,163.37 184.67,163.33 184.96,163.42 185.10,163.40 185.25,163.42 186.10,163.33 187.10,163.34 188.10,163.39 189.10,163.43 190.10,163.34 191.10,163.35 192.10,163.34 193.10,163.33 194.10,163.36 195.10,163.38 196.10,163.35 197.10,163.43 198.10,163.34 199.10,163.40 200.10,163.39 201.10,163.33 202.10,163.43 203.10,163.39 203.99,163.32 204.10,163.37 204.31,163.31 204.64,163.33 204.96,163.38 205.10,163.35 205.29,163.36 205.61,163.32 205.93,163.31 206.10,163.33 206.26,163.38 206.58,163.27 206.91,163.34 207.10,163.27 207.23,163.24 207.55,163.25 207.88,163.25 208.10,163.14 208.20,163.17 208.53,163.05 208.85,162.89 209.10,162.75 209.17,162.65 209.50,162.40 209.82,162.20 210.10,161.97 210.15,162.05 210.47,161.95 210.72,161.99 210.79,161.99 211.05,162.12 211.10,162.20 211.12,162.20 211.39,162.40 211.44,162.44 211.72,162.67 211.77,162.63 212.05,162.88 212.09,162.86 212.10,162.89 212.38,163 212.42,162.98 212.71,163.07 212.74,163.07 213.04,163.17 213.06,163.21 213.10,163.25 213.37,163.27 213.39,163.19 213.71,163.27 214.04,163.29 214.10,163.30 214.36,163.30 214.37,163.32 214.68,163.31 214.70,163.29 215.01,163.28 215.03,163.33 215.10,163.32 215.33,163.32 215.36,163.26 215.66,163.22 215.69,163.19 215.98,163.21 216.03,163.18 216.10,163.15 216.30,163.15 216.36,163.14 216.63,163.15 216.69,163.08 216.95,163.04 217.02,163.09 217.10,163.04 217.35,163.08 217.68,163.11 218.01,163.13 218.10,163.12 218.35,163.17 218.68,163.24 219.01,163.20 219.10,163.24 219.34,163.31 219.67,163.36 220,163.30 220.10,163.28 220.33,163.31 220.67,163.32 221,163.29 221.10,163.33 221.33,163.40 221.66,163.36 221.82,163.37 221.99,163.35 222.10,163.40 222.17,163.34 222.32,163.33 222.51,163.38 222.65,163.34 222.86,163.38 222.99,163.34 223.10,163.36 223.20,163.30 223.32,163.36 223.54,163.41 223.65,163.41 223.89,163.33 223.98,163.40 224.10,163.32 224.23,163.35 224.57,163.37 224.92,163.36 225.10,163.30 225.26,163.34 225.60,163.34 225.95,163.33 226.10,163.31 226.29,163.31 226.63,163.26 226.98,163.26 227.10,163.26 227.32,163.25 227.67,163.16 228.01,163.14 228.10,163.12 228.35,163.10 228.43,163.07 228.70,162.99 228.78,163.04 229.04,163.08 229.10,163.06 229.13,163.06 229.38,163.14 229.48,163.06 229.73,163.13 229.83,163.09 230.07,163.16 230.10,163.21 230.18,163.13 230.41,163.26 230.53,163.27 230.62,163.27 230.76,163.28 230.88,163.29 230.98,163.20 231.10,163.30 231.24,163.26 231.33,163.30 231.44,163.29 231.59,163.31 231.68,163.28 231.79,163.29 231.94,163.23 232.04,163.19 232.10,163.29 232.13,163.25 232.29,163.23 232.39,163.18 232.48,163.28 232.64,163.20 232.74,163.22 232.82,163.20 232.99,163.15 233.10,163.14 233.16,163.16 233.34,163.08 233.45,163.09 233.51,163.11 233.69,163.07 233.80,163.04 233.85,162.95 234.04,162.89 234.10,162.95 234.16,162.88 234.19,162.93 234.39,162.85 234.51,162.72 234.54,162.73 234.74,162.65 234.86,162.59 234.88,162.58 235.09,162.49 235.10,162.50 235.22,162.37 235.45,162.37 235.57,162.26 235.80,162.21 235.92,162.14 236.10,162.10 236.15,162.06 236.27,161.95 236.50,161.90 236.63,161.77 236.85,161.62 236.98,161.55 237.10,161.54 237.20,161.45 237.33,161.41 237.55,161.31 237.69,161.31 237.90,161.41 238.04,161.46 238.10,161.54 238.25,161.58 238.39,161.73 238.60,161.89 238.75,162.12 238.95,162.23 239.10,162.36 239.30,162.51 239.37,162.54 239.45,162.67 239.66,162.81 239.73,162.79 239.81,162.87 240.01,162.87 240.10,162.91 240.16,162.98 240.36,163 240.46,163.05 240.51,163.03 240.71,163.11 240.82,163.17 240.87,163.08 241.06,163.19 241.10,163.21 241.18,163.14 241.22,163.16 241.41,163.14 241.55,163.23 241.57,163.15 241.76,163.16 241.91,163.19 241.93,163.27 242.10,163.18 242.11,163.23 242.27,163.25 242.28,163.23 242.46,163.16 242.63,163.23 242.64,163.21 242.99,163.14 243,163.17 243.10,163.20 243.34,163.18 243.36,163.16 243.69,163.11 243.72,163.09 244.05,163.02 244.09,163.07 244.10,162.98 244.40,162.89 244.45,162.91 244.75,162.81 244.81,162.75 245.10,162.52 245.18,162.54 245.54,162.27 245.90,161.96 245.91,161.95 246.10,161.82 246.26,161.79 246.28,161.74 246.63,161.72 246.65,161.74 246.99,161.75 247.02,161.82 247.10,161.78 247.35,162.01 247.39,162.04 247.72,162.22 247.76,162.35 248.08,162.47 248.10,162.56 248.13,162.61 248.44,162.76 248.50,162.82 248.80,162.95 248.87,162.94 249.10,163.01 249.17,163.08 249.24,163 249.53,163.16 249.61,163.18 249.89,163.19 249.98,163.23 250.10,163.13 250.25,163.22 250.35,163.24 250.62,163.16 250.72,163.19 250.98,163.20 251.09,163.15 251.10,163.18 251.34,163.16 251.46,163.09 251.71,163.07 251.83,163.03 252.07,162.96 252.10,162.89 252.20,162.91 252.43,162.85 252.57,162.85 252.79,162.78 252.94,162.78 253.10,162.69 253.16,162.68 253.31,162.69 253.52,162.75 253.68,162.74 254.05,162.87 254.10,162.83 254.42,162.90 254.79,163.09 255.10,163.18 255.16,163.08 255.53,163.20 255.90,163.22 256.10,163.24 256.27,163.25 256.64,163.36 257.01,163.36 257.10,163.35 257.38,163.29 257.75,163.32 258.10,163.39 258.12,163.40 258.49,163.32 258.86,163.32 259.10,163.42 259.23,163.38 259.60,163.41 259.97,163.38 260.10,163.43 260.34,163.38 260.90,163.41" fill="none" stroke="#dcac38" stroke-width="1.05" stroke-linejoin="round"/>
<line x1="26.1" y1="185.6" x2="260.9" y2="185.6" stroke="#50d6d6" stroke-width="1.15"/>
<line x1="55.14" y1="185.6" x2="55.14" y2="184.62" stroke="#50d6d6" stroke-width="1.1"/>
<line x1="59.53" y1="185.6" x2="59.53" y2="169.30" stroke="#50d6d6" stroke-width="1.1"/>
<line x1="75.60" y1="185.6" x2="75.60" y2="179.08" stroke="#50d6d6" stroke-width="1.1"/>
<line x1="86.48" y1="185.6" x2="86.48" y2="184.30" stroke="#50d6d6" stroke-width="1.1"/>
<line x1="126.82" y1="185.6" x2="126.82" y2="175.49" stroke="#50d6d6" stroke-width="1.1"/>
<line x1="158.48" y1="185.6" x2="158.48" y2="176.15" stroke="#50d6d6" stroke-width="1.1"/>
<line x1="168.33" y1="185.6" x2="168.33" y2="183.16" stroke="#50d6d6" stroke-width="1.1"/>
<line x1="205.53" y1="185.6" x2="205.53" y2="184.30" stroke="#50d6d6" stroke-width="1.1"/>
<line x1="231.99" y1="185.6" x2="231.99" y2="183.48" stroke="#50d6d6" stroke-width="1.1"/>
<line x1="240.66" y1="185.6" x2="240.66" y2="183.64" stroke="#50d6d6" stroke-width="1.1"/>
<line x1="257.89" y1="185.6" x2="257.89" y2="184.78" stroke="#50d6d6" stroke-width="1.1"/>
<g transform="translate(211.29,26.00) scale(0.951,1)" fill="#111111" stroke="#111111" stroke-width="0.35"><text font-size="10">Pr<tspan font-size="6.6" dy="2.9">2</tspan><tspan dy="-2.9">Ru</tspan><tspan font-size="6.6" dy="2.9">2</tspan><tspan dy="-2.9">O</tspan><tspan font-size="6.6" dy="2.9">7</tspan></text></g>
<g transform="translate(210.32,49.50) scale(0.913,1)" fill="#f04848" stroke="#f04848" stroke-width="0.35"><text font-size="10">Nd<tspan font-size="6.6" dy="2.9">2</tspan><tspan dy="-2.9">Ru</tspan><tspan font-size="6.6" dy="2.9">2</tspan><tspan dy="-2.9">O</tspan><tspan font-size="6.6" dy="2.9">7</tspan></text></g>
<g transform="translate(212.12,78.50) scale(0.912,1)" fill="#3f7fe0" stroke="#3f7fe0" stroke-width="0.35"><text font-size="10">Eu<tspan font-size="6.6" dy="2.9">2</tspan><tspan dy="-2.9">Ru</tspan><tspan font-size="6.6" dy="2.9">2</tspan><tspan dy="-2.9">O</tspan><tspan font-size="6.6" dy="2.9">7</tspan></text></g>
<g transform="translate(212.34,103.60) scale(0.914,1)" fill="#3bb574" stroke="#3bb574" stroke-width="0.35"><text font-size="10">Gd<tspan font-size="6.6" dy="2.9">2</tspan><tspan dy="-2.9">Ru</tspan><tspan font-size="6.6" dy="2.9">2</tspan><tspan dy="-2.9">O</tspan><tspan font-size="6.6" dy="2.9">7</tspan></text></g>
<g transform="translate(212.97,129.20) scale(0.922,1)" fill="#b57ae6" stroke="#b57ae6" stroke-width="0.35"><text font-size="10">Tb<tspan font-size="6.6" dy="2.9">2</tspan><tspan dy="-2.9">Ru</tspan><tspan font-size="6.6" dy="2.9">2</tspan><tspan dy="-2.9">O</tspan><tspan font-size="6.6" dy="2.9">7</tspan></text></g>
<g transform="translate(212.51,156.00) scale(0.923,1)" fill="#d6a329" stroke="#d6a329" stroke-width="0.35"><text font-size="10">Ho<tspan font-size="6.6" dy="2.9">2</tspan><tspan dy="-2.9">Ru</tspan><tspan font-size="6.6" dy="2.9">2</tspan><tspan dy="-2.9">O</tspan><tspan font-size="6.6" dy="2.9">7</tspan></text></g>
<g transform="translate(183.89,179.70) scale(0.946,1)" fill="#3fd2d2" stroke="#3fd2d2" stroke-width="0.35"><text font-size="10">Nd<tspan font-size="6.6" dy="2.9">2</tspan><tspan dy="-2.9">Ru</tspan><tspan font-size="6.6" dy="2.9">2</tspan><tspan dy="-2.9">O</tspan><tspan font-size="6.6" dy="2.9">7</tspan><tspan dx="3.5" dy="-2.9">(Cubic)</tspan></text></g>
<rect x="25.5" y="8.5" width="236.0" height="181.0" fill="none" stroke="#808080" stroke-width="1.3"/>
<line x1="26.00" y1="189.5" x2="26.00" y2="192.5" stroke="#555" stroke-width="1"/>
<line x1="59.70" y1="189.5" x2="59.70" y2="191.5" stroke="#555" stroke-width="1"/>
<line x1="93.40" y1="189.5" x2="93.40" y2="192.5" stroke="#555" stroke-width="1"/>
<line x1="127.10" y1="189.5" x2="127.10" y2="191.5" stroke="#555" stroke-width="1"/>
<line x1="160.80" y1="189.5" x2="160.80" y2="192.5" stroke="#555" stroke-width="1"/>
<line x1="194.50" y1="189.5" x2="194.50" y2="191.5" stroke="#555" stroke-width="1"/>
<line x1="228.20" y1="189.5" x2="228.20" y2="192.5" stroke="#555" stroke-width="1"/>
<line x1="261.90" y1="189.5" x2="261.90" y2="191.5" stroke="#555" stroke-width="1"/>
<polyline points="295.10,32.25 296.10,32.14 297.10,32.24 298.10,32.14 299.10,32.17 300.10,32.21 301.10,32.21 302.10,32.21 303.10,32.22 304.10,32.18 305.10,32.24 306.10,32.18 307.10,32.19 308.10,32.23 309.10,32.14 310.10,32.21 311.10,32.17 312.10,32.16 313.10,32.16 314.10,32.17 315.10,32.19 316.10,32.19 317.10,32.15 318.10,32.22 319.10,32.16 320.10,32.11 321.10,32.14 321.28,32.14 321.43,32.11 321.58,32.09 321.73,32.14 321.88,32.11 322.03,32.08 322.10,32.10 322.18,32.14 322.33,32.04 322.48,32.11 322.63,32.06 322.78,32.12 322.93,32.02 323.08,31.99 323.10,31.94 323.23,31.98 323.38,31.94 323.53,31.83 323.68,31.76 323.78,31.71 323.83,31.76 323.98,31.73 324.10,31.76 324.13,31.87 324.28,31.81 324.43,31.96 324.58,31.96 324.73,31.99 324.88,31.90 325.03,31.87 325.10,31.94 325.18,31.89 325.33,31.82 325.48,31.82 325.63,31.84 325.78,31.78 325.81,31.71 325.93,31.68 325.96,31.71 326.08,31.65 326.10,31.70 326.11,31.66 326.23,31.55 326.26,31.63 326.41,31.51 326.56,31.35 326.71,31.26 326.86,31.03 327.01,30.65 327.10,30.44 327.16,30.17 327.31,29.27 327.46,27.91 327.61,25.68 327.76,22.58 327.91,18.50 328.06,14.21 328.10,13.18 328.21,10.96 328.31,10.24 328.36,10.34 328.51,12.82 328.66,16.87 328.81,21.15 328.96,24.59 329.10,27.06 329.11,27.16 329.26,28.88 329.41,29.94 329.56,30.53 329.71,30.92 329.86,31.13 330.01,31.33 330.10,31.42 330.16,31.38 330.31,31.49 330.46,31.62 330.61,31.69 330.76,31.71 331.10,31.83 332.10,32.01 333.10,32.07 334.10,32.07 335.10,32.18 336.10,32.15 337.10,32.19 338.10,32.13 339.10,32.19 340.10,32.13 341.10,32.14 342.10,32.05 342.16,31.96 342.31,32.04 342.46,32 342.61,31.92 342.76,31.96 342.91,31.92 343.06,31.85 343.10,31.81 343.21,31.82 343.36,31.73 343.51,31.63 343.66,31.41 343.81,31.08 343.96,30.57 344.10,29.92 344.11,29.83 344.26,28.76 344.41,27.49 344.56,25.94 344.71,24.58 344.86,23.81 344.90,23.80 345.01,24.08 345.10,24.66 345.16,25.20 345.31,26.61 345.46,28.14 345.61,29.32 345.76,30.26 345.91,30.83 346.06,31.18 346.10,31.29 346.21,31.54 346.36,31.59 346.51,31.80 346.66,31.85 346.81,31.87 346.96,31.97 347.10,31.91 347.11,31.92 347.26,31.92 347.41,31.98 347.56,32.03 348.10,32.10 349.10,32.14 350.10,32.13 351.10,32.12 352.10,32.20 353.10,32.16 353.20,32.15 353.35,32.20 353.50,32.14 353.65,32.19 353.80,32.19 353.95,32.20 354.10,32.11 354.25,32.22 354.40,32.18 354.55,32.14 354.70,32.15 354.85,32.18 355,32.13 355.10,32.12 355.15,32.11 355.30,32.09 355.45,32.09 355.60,31.97 355.75,31.96 355.90,31.85 356.05,31.88 356.10,31.81 356.13,31.88 356.20,31.84 356.35,31.83 356.50,31.97 356.65,31.96 356.80,32.04 356.95,32.15 357.10,32.11 357.25,32.15 357.40,32.20 357.55,32.12 357.70,32.14 357.85,32.12 358,32.22 358.10,32.19 358.15,32.16 358.30,32.19 358.45,32.22 358.60,32.19 358.75,32.19 358.90,32.18 359.10,32.19 360.10,32.19 361.10,32.19 362.10,32.17 363.10,32.22 364.10,32.19 365.10,32.15 366.10,32.16 367.10,32.16 368.10,32.14 369.10,32.19 370.10,32.15 371.10,32.15 372.10,32.21 373.10,32.16 374.10,32.19 375.10,32.18 376.10,32.23 377.10,32.16 378.10,32.20 379.10,32.19 379.41,32.17 379.58,32.14 379.75,32.12 379.92,32.13 380.08,32.15 380.10,32.19 380.25,32.16 380.42,32.15 380.58,32.18 380.75,32.11 380.92,32.17 381.09,32.14 381.10,32.08 381.25,32.16 381.42,32.12 381.59,32.03 381.76,31.99 381.92,31.99 382.09,31.88 382.10,31.89 382.26,31.87 382.42,31.68 382.59,31.61 382.76,31.58 382.93,31.69 383.09,31.72 383.10,31.69 383.26,31.77 383.43,31.86 383.59,32.03 383.76,32.01 383.93,32.10 384.10,32.15 384.26,32.12 384.43,32.19 384.60,32.17 384.77,32.16 384.93,32.16 385.10,32.18 385.27,32.16 385.43,32.16 385.60,32.20 385.77,32.19 385.94,32.18 386.10,32.22 387.10,32.16 388.10,32.11 389.10,32.18 390.10,32.09 391.10,32.14 392.10,32.10 393.10,32.01 394.10,31.96 394.14,31.95 394.32,31.88 394.50,31.95 394.68,31.87 394.86,31.85 395.04,31.78 395.10,31.75 395.22,31.69 395.40,31.67 395.57,31.50 395.75,31.38 395.93,31.21 396.10,30.98 396.11,30.94 396.29,30.60 396.47,29.88 396.65,28.94 396.83,27.62 397.01,25.87 397.10,24.93 397.19,23.84 397.36,22 397.54,20.34 397.72,19.66 397.90,20.31 398.08,21.94 398.10,22.08 398.26,23.96 398.44,25.97 398.62,27.61 398.80,28.92 398.98,29.90 399.10,30.36 399.16,30.58 399.33,30.91 399.51,31.20 399.69,31.39 399.87,31.54 400.05,31.68 400.10,31.67 400.23,31.73 400.41,31.76 400.59,31.86 400.77,31.90 400.95,31.89 401.10,31.96 401.13,31.96 402.10,32.02 402.54,32.05 402.73,32.02 402.91,32.01 403.10,32.06 403.28,32.06 403.47,32.09 403.65,32.07 403.84,32.10 404.03,32.04 404.10,32.09 404.21,32.12 404.40,32.10 404.58,32.04 404.77,32.13 404.95,31.99 405.10,32 405.14,32.02 405.33,32 405.51,31.95 405.70,31.87 405.88,31.76 406.07,31.71 406.10,31.72 406.26,31.72 406.44,31.74 406.63,31.83 406.81,31.87 407,31.91 407.10,32.03 407.18,31.94 407.37,32.10 407.56,32.08 407.74,32.12 407.93,32.11 408.10,32.15 408.11,32.11 408.30,32.19 408.49,32.09 408.67,32.09 408.86,32.10 409.04,32.12 409.10,32.19 409.23,32.14 409.41,32.14 409.60,32.12 409.79,32.16 409.97,32.12 410.10,32.18 411.10,32.22 412.10,32.21 413.10,32.11 414.10,32.19 415.10,32.21 416.10,32.21 417.10,32.11 418.10,32.12 419.10,32.16 420.10,32.20 421.10,32.11 422.10,32.19 423.10,32.08 424.10,32.10 425.10,32.06 426.10,32.03 426.25,31.94 426.45,31.89 426.66,31.91 426.86,31.83 427.07,31.87 427.10,31.85 427.27,31.80 427.48,31.77 427.68,31.61 427.89,31.58 428.09,31.52 428.10,31.44 428.30,31.33 428.50,31.05 428.71,30.58 428.91,30.04 429.10,29.23 429.12,29.05 429.32,27.90 429.53,26.17 429.73,24.44 429.94,22.47 430.10,21.10 430.14,20.90 430.35,20.29 430.55,20.85 430.76,22.48 430.96,24.29 431.10,25.67 431.17,26.22 431.37,27.83 431.58,29.07 431.78,29.94 431.99,30.59 432.10,30.90 432.19,31.02 432.40,31.23 432.60,31.45 432.81,31.60 433.01,31.65 433.10,31.73 433.22,31.77 433.42,31.76 433.63,31.87 433.83,31.86 434.04,31.90 434.10,31.85 434.24,31.92 434.45,31.93 435.10,31.96 436.10,32.04 436.23,32 436.44,32.04 436.66,32.01 436.87,31.96 437.08,31.93 437.10,31.93 437.30,31.94 437.51,32.01 437.72,31.95 437.93,31.93 438.10,31.90 438.15,31.88 438.36,31.80 438.57,31.79 438.79,31.58 439,31.43 439.10,31.21 439.21,31.01 439.43,30.59 439.64,30.02 439.85,29.34 440.06,28.68 440.10,28.64 440.28,28.17 440.49,27.98 440.70,28.18 440.92,28.75 441.10,29.37 441.13,29.43 441.34,30.12 441.55,30.58 441.77,31.05 441.98,31.45 442.10,31.51 442.19,31.57 442.41,31.74 442.62,31.83 442.83,31.91 443.04,31.96 443.10,31.98 443.26,32.03 443.47,32.03 443.54,32.05 443.68,32.03 443.76,32.05 443.90,32.06 443.98,31.99 444.10,32.09 444.11,32.07 444.20,32.02 444.32,32.08 444.42,32.12 444.54,32.07 444.64,32.10 444.75,32.05 444.85,32.10 445.07,32.11 445.10,32.09 445.29,32.08 445.51,32.14 445.73,32.14 445.95,32.06 446.10,32.11 446.17,32.02 446.39,32.02 446.61,32.02 446.82,32.04 447.04,31.96 447.10,31.97 447.26,31.85 447.48,31.78 447.70,31.71 447.92,31.73 448.10,31.68 448.14,31.70 448.36,31.78 448.57,31.87 448.79,31.89 449.01,32 449.10,32.08 449.23,32 449.45,32.14 449.67,32.13 449.89,32.14 450.10,32.09 450.11,32.12 450.32,32.14 450.54,32.09 450.76,32.11 450.98,32.14 451.10,32.17 451.20,32.19 451.42,32.12 451.64,32.14 451.86,32.12 452.07,32.18 452.10,32.11 453.10,32.22 454.10,32.20 455.10,32.13 456.10,32.15 457.10,32.22 458.10,32.20 459.10,32.22 460.10,32.17 461.10,32.16 462.10,32.17 463.10,32.20 464.10,32.24 465.10,32.21 466.10,32.13 467.10,32.16 468.10,32.17 469.10,32.17 470.10,32.19 471.10,32.24 472.10,32.21 473.10,32.19 473.90,32.22 474.10,32.18 474.14,32.18 474.38,32.16 474.63,32.16 474.87,32.11 475.10,32.14 475.11,32.09 475.36,32.12 475.60,32.14 475.84,32.12 476.09,32.07 476.10,32.14 476.33,32.05 476.57,31.98 476.82,31.96 477.06,31.88 477.10,31.85 477.30,31.85 477.55,31.62 477.79,31.43 478.03,31.21 478.10,31.12 478.28,30.98 478.52,30.70 478.76,30.70 479.01,30.74 479.10,30.84 479.25,30.87 479.49,31.20 479.74,31.42 479.98,31.68 480.10,31.74 480.22,31.80 480.46,31.96 480.67,31.93 480.71,31.96 480.92,32.08 480.95,32.04 481.10,32.10 481.17,32.07 481.19,32.03 481.42,32.12 481.44,32.05 481.67,32.10 481.68,32.09 481.92,32.05 482.10,32.16 482.16,32.09 482.17,32.07 482.41,32.12 482.65,32.16 482.66,32.09 482.90,32.13 482.91,32.18 483.10,32.08 483.14,32.17 483.16,32.10 483.38,32.16 483.41,32.13 483.63,32.11 483.66,32.14 483.90,32.09 484.10,32.03 484.15,32.10 484.40,32.03 484.65,31.95 484.90,31.99 485.10,31.86 485.15,31.85 485.40,31.84 485.65,31.90 485.89,31.89 486.10,31.93 486.14,31.90 486.39,31.99 486.64,31.96 486.89,32 487.10,32.14 487.14,32.05 487.39,32.12 487.63,32.13 487.88,32.15 488.10,32.17 488.13,32.15 488.38,32.15 488.63,32.18 488.88,32.19 489.10,32.18 489.13,32.20 489.38,32.15 489.62,32.16 489.87,32.14 490.10,32.15 490.12,32.15 490.37,32.20 491.10,32.18 491.83,32.21 492.08,32.13 492.10,32.12 492.34,32.15 492.60,32.16 492.86,32.18 493.10,32.16 493.11,32.13 493.37,32.16 493.63,32.15 493.89,32.20 494.10,32.18 494.14,32.14 494.40,32.10 494.66,32.16 494.92,32.12 495.10,32.13 495.18,32.15 495.43,32.10 495.69,32.02 495.95,32.01 496.10,31.97 496.21,31.94 496.46,31.88 496.72,31.83 496.98,31.80 497.10,31.78 497.24,31.82 497.49,31.87 497.75,31.88 498.01,31.99 498.10,31.99 498.27,32.07 498.45,32.03 498.52,32.04 498.71,32.02 498.78,32.13 498.98,32.12 499.04,32.06 499.10,32.05 499.24,32.07 499.30,32.12 499.50,32.04 499.55,32.09 499.77,32.05 499.81,32.05 500.03,32.07 500.07,32.09 500.10,32.07 500.29,32.13 500.33,32.05 500.55,32.02 500.59,32.06 500.65,32.05 500.82,32.03 500.84,32.04 500.91,32.10 501.08,32 501.10,32.01 501.18,32.07 501.34,32.02 501.36,32.07 501.44,32.04 501.61,32.01 501.62,31.99 501.71,31.94 501.87,31.89 501.97,31.89 502.10,31.91 502.13,31.90 502.24,31.90 502.40,31.78 502.50,31.76 502.66,31.67 502.77,31.63 502.92,31.52 503.03,31.45 503.10,31.45 503.18,31.40 503.30,31.31 503.45,31.28 503.56,31.17 503.71,31.16 503.83,31.08 503.97,31 504.09,30.94 504.10,30.95 504.24,30.81 504.36,30.79 504.50,30.60 504.62,30.48 504.76,30.36 504.89,30.15 505.02,29.87 505.10,29.74 505.15,29.64 505.29,29.33 505.41,29.19 505.55,28.94 505.68,28.67 505.81,28.63 505.94,28.56 506.08,28.66 506.10,28.69 506.21,28.73 506.34,28.94 506.47,29.25 506.60,29.55 506.74,29.78 506.87,30.12 507,30.33 507.10,30.59 507.13,30.56 507.27,30.90 507.39,31.06 507.53,31.25 507.65,31.34 507.80,31.46 507.92,31.63 508.06,31.67 508.10,31.64 508.18,31.74 508.33,31.76 508.44,31.80 508.59,31.89 508.71,31.84 508.86,31.88 508.97,31.93 509.10,31.98 509.12,31.99 509.39,31.92 509.41,31.96 509.65,31.98 509.68,31.99 509.91,32.05 509.95,32.03 510.10,32.05 510.18,31.95 510.22,31.94 510.44,32.01 510.49,31.98 510.71,31.98 510.77,31.94 510.97,31.93 511.04,32.03 511.10,31.93 511.31,31.96 511.58,31.98 511.85,31.90 512.10,31.95 512.12,31.85 512.40,31.77 512.67,31.76 512.94,31.57 513.10,31.35 513.21,31.24 513.48,30.94 513.75,30.46 514.03,30.03 514.10,29.85 514.30,29.41 514.57,29.08 514.84,28.88 515.10,29.05 515.11,29.01 515.39,29.40 515.66,30 515.93,30.47 515.94,30.58 516.10,30.81 516.20,30.90 516.22,30.93 516.47,31.33 516.50,31.38 516.74,31.58 516.77,31.52 517.02,31.77 517.05,31.77 517.10,31.79 517.29,31.84 517.33,31.82 517.56,31.90 517.60,31.88 517.83,31.95 517.88,31.92 518.10,32 518.16,31.97 518.37,32.01 518.43,32.01 518.65,32.05 518.71,31.97 518.92,32.03 518.99,31.96 519.10,31.99 519.19,32.05 519.27,31.96 519.46,31.95 519.54,31.97 519.73,31.98 519.82,31.90 520.01,31.92 520.10,31.83 520.37,31.75 520.65,31.75 520.93,31.61 521.10,31.48 521.20,31.48 521.48,31.52 521.76,31.53 522.04,31.56 522.10,31.69 522.31,31.76 522.59,31.80 522.87,31.93 523.10,31.96 523.14,32 523.42,32.04 523.70,32.06 523.97,32.07 524.10,32.16 524.25,32.11 524.53,32.07 524.81,32.08 525.08,32.19 525.10,32.14 525.36,32.18 525.64,32.09 525.91,32.18 526.10,32.11 526.19,32.17 526.47,32.11 526.74,32.21 526.79,32.16 527.08,32.15 527.10,32.17 527.36,32.19 527.65,32.12 527.94,32.21 528.10,32.12 528.22,32.12 528.51,32.12 528.79,32.15 529.08,32.17 529.10,32.16 529.36,32.19 529.65,32.18 529.94,32.15 530.10,32.20 530.22,32.20 530.51,32.10 530.79,32.04 531.08,32.04 531.10,32.11 531.36,32.07 531.65,32.02 531.94,31.90 532.10,31.86 532.22,31.88 532.51,31.91 532.79,31.82 533.08,31.88 533.10,31.96 533.36,31.93 533.65,31.97 533.94,32.09 534.10,32.08 534.22,32.16 534.51,32.15 534.79,32.18 535.08,32.10 535.10,32.13 535.36,32.19 535.65,32.14 535.94,32.22 536.10,32.23 536.22,32.19 536.51,32.14 536.79,32.13 537.08,32.21 537.10,32.21 537.36,32.19 537.65,32.20 537.94,32.16 538.10,32.19 538.22,32.22 539.10,32.21 539.90,32.18" fill="none" stroke="#6a6a6a" stroke-width="1.05" stroke-linejoin="round"/>
<polyline points="295.10,58.35 296.10,58.33 297.10,58.33 298.10,58.33 299.10,58.35 300.10,58.29 301.10,58.28 302.10,58.32 303.10,58.24 304.10,58.32 305.10,58.29 306.10,58.27 307.10,58.27 308.10,58.24 309.10,58.34 310.10,58.34 311.10,58.34 312.10,58.33 313.10,58.30 314.10,58.28 315.10,58.25 316.10,58.23 317.10,58.26 318.10,58.26 319.10,58.27 320.10,58.29 321.10,58.27 321.64,58.24 321.79,58.27 321.94,58.20 322.09,58.25 322.10,58.16 322.24,58.23 322.39,58.17 322.54,58.22 322.69,58.22 322.84,58.18 322.99,58.16 323.10,58.09 323.14,58.18 323.29,58.16 323.44,58.10 323.59,57.93 323.74,57.93 323.89,57.72 324.04,57.74 324.10,57.63 324.14,57.69 324.19,57.63 324.34,57.72 324.49,57.81 324.64,57.93 324.79,57.95 324.94,57.98 325.09,57.95 325.10,58 325.24,57.96 325.39,58 325.54,57.96 325.69,57.94 325.84,57.96 325.99,57.87 326.10,57.83 326.14,57.85 326.19,57.86 326.29,57.83 326.34,57.78 326.44,57.67 326.49,57.70 326.59,57.68 326.64,57.62 326.79,57.48 326.94,57.34 327.09,57.26 327.10,57.21 327.24,57.04 327.39,56.67 327.54,56.10 327.69,55.21 327.84,53.69 327.99,51.20 328.10,48.85 328.14,47.76 328.29,43.47 328.44,38.81 328.59,35.26 328.69,34.35 328.74,34.62 328.89,37.25 329.04,41.66 329.10,43.56 329.19,46.21 329.34,50.11 329.49,52.92 329.64,54.67 329.79,55.82 329.94,56.47 330.09,56.92 330.10,56.85 330.24,57.11 330.39,57.36 330.54,57.49 330.69,57.63 330.84,57.62 330.99,57.79 331.10,57.81 331.14,57.85 332.10,58.04 333.10,58.12 334.10,58.21 335.10,58.20 336.10,58.21 337.10,58.27 338.10,58.18 339.10,58.25 340.10,58.22 341.10,58.15 342.10,58.18 342.59,58.17 342.74,58.12 342.89,58.11 343.04,58.09 343.10,57.98 343.19,57.99 343.34,58 343.49,57.93 343.64,57.86 343.79,57.81 343.94,57.66 344.09,57.49 344.10,57.36 344.24,57.11 344.39,56.58 344.54,55.77 344.69,54.69 344.84,53.29 344.99,51.65 345.10,50.53 345.14,50.19 345.29,49.25 345.34,49.25 345.44,49.42 345.59,50.58 345.74,52.11 345.89,53.73 346.04,55.03 346.10,55.50 346.19,56.03 346.34,56.77 346.49,57.26 346.64,57.48 346.79,57.69 346.94,57.76 347.09,57.86 347.10,57.94 347.24,57.92 347.39,58.04 347.54,57.97 347.69,58.04 347.84,58.07 347.99,58.12 348.10,58.17 349.10,58.22 350.10,58.25 351.10,58.29 352.10,58.20 353.10,58.29 353.69,58.26 353.84,58.29 353.99,58.22 354.10,58.31 354.14,58.21 354.29,58.30 354.44,58.29 354.59,58.26 354.74,58.28 354.89,58.30 355.04,58.21 355.10,58.30 355.19,58.27 355.34,58.29 355.49,58.26 355.64,58.20 355.79,58.13 355.94,58.14 356.09,58.02 356.10,58.02 356.24,57.88 356.39,57.80 356.54,57.80 356.62,57.78 356.69,57.87 356.84,57.85 356.99,57.88 357.10,57.95 357.14,57.99 357.29,58.05 357.44,58.09 357.59,58.17 357.74,58.25 357.89,58.21 358.04,58.28 358.10,58.20 358.19,58.29 358.34,58.22 358.49,58.25 358.64,58.25 358.79,58.30 358.94,58.28 359.09,58.27 359.10,58.21 359.24,58.25 359.39,58.25 359.54,58.22 360.10,58.29 361.10,58.27 362.10,58.28 363.10,58.30 364.10,58.31 365.10,58.31 366.10,58.34 367.10,58.24 368.10,58.32 369.10,58.25 370.10,58.31 371.10,58.31 372.10,58.34 373.10,58.29 374.10,58.32 375.10,58.30 376.10,58.25 377.10,58.23 378.10,58.34 379.10,58.25 380,58.23 380.10,58.23 380.17,58.24 380.34,58.24 380.50,58.27 380.67,58.32 380.84,58.30 381.01,58.23 381.10,58.27 381.18,58.26 381.34,58.23 381.51,58.26 381.68,58.27 381.85,58.25 382.01,58.15 382.10,58.20 382.18,58.14 382.35,58.11 382.52,58.08 382.69,57.99 382.85,57.89 383.02,57.79 383.10,57.74 383.19,57.75 383.36,57.69 383.52,57.68 383.69,57.82 383.86,57.90 384.03,57.95 384.10,58 384.19,58.05 384.36,58.17 384.53,58.15 384.70,58.17 384.87,58.27 385.03,58.27 385.10,58.19 385.20,58.25 385.37,58.21 385.54,58.30 385.70,58.21 385.87,58.24 386.04,58.29 386.10,58.23 386.21,58.26 386.37,58.29 386.54,58.20 387.10,58.32 388.10,58.28 389.10,58.21 390.10,58.20 391.10,58.27 392.10,58.16 393.10,58.23 394.10,58.14 394.79,58.02 394.97,58.08 395.10,58.03 395.15,58.02 395.33,57.97 395.51,57.95 395.69,57.92 395.87,57.84 396.05,57.77 396.10,57.72 396.23,57.72 396.41,57.60 396.59,57.34 396.77,57.08 396.95,56.66 397.10,56.16 397.13,56.10 397.31,55.16 397.49,53.77 397.67,52.15 397.85,50.23 398.02,48.31 398.10,47.59 398.20,46.69 398.38,46.08 398.56,46.73 398.74,48.23 398.92,50.23 399.10,52.20 399.28,53.88 399.46,55.17 399.64,56.05 399.82,56.70 400,57.05 400.10,57.28 400.18,57.36 400.36,57.50 400.54,57.64 400.72,57.74 400.90,57.78 401.08,57.87 401.10,57.85 401.26,57.91 401.44,58 401.62,57.99 401.80,58 401.98,58.03 402.10,58.08 403.10,58.20 403.23,58.14 403.41,58.12 403.60,58.12 403.79,58.16 403.97,58.18 404.10,58.22 404.16,58.22 404.34,58.15 404.53,58.25 404.72,58.20 404.90,58.22 405.09,58.20 405.10,58.13 405.28,58.23 405.46,58.14 405.65,58.12 405.84,58.16 406.02,58.10 406.10,58.07 406.21,58.04 406.39,57.94 406.58,57.82 406.77,57.73 406.95,57.76 407.10,57.79 407.14,57.79 407.33,57.88 407.51,57.93 407.70,58.04 407.89,58.08 408.07,58.14 408.10,58.13 408.26,58.16 408.44,58.18 408.63,58.22 408.82,58.24 409,58.25 409.10,58.23 409.19,58.29 409.38,58.23 409.56,58.23 409.75,58.28 409.94,58.20 410.10,58.23 410.12,58.21 410.31,58.26 410.49,58.20 411.10,58.29 412.10,58.26 413.10,58.26 414.10,58.29 415.10,58.27 416.10,58.22 417.10,58.33 418.10,58.24 419.10,58.30 420.10,58.25 421.10,58.23 422.10,58.24 423.10,58.20 424.10,58.18 425.10,58.25 426.10,58.18 427.04,58.06 427.10,58.06 427.25,58.06 427.46,58.09 427.66,58.05 427.87,58 428.07,57.94 428.10,57.90 428.28,57.92 428.48,57.81 428.69,57.73 428.89,57.66 429.10,57.45 429.31,57.29 429.51,56.87 429.72,56.38 429.92,55.54 430.10,54.63 430.13,54.46 430.33,53.01 430.54,51.36 430.74,49.65 430.95,48.30 431.10,47.86 431.16,47.79 431.36,48.33 431.57,49.73 431.77,51.40 431.98,53.03 432.10,53.91 432.18,54.41 432.39,55.58 432.59,56.40 432.80,56.86 433.01,57.23 433.10,57.33 433.21,57.49 433.42,57.66 433.62,57.69 433.83,57.87 434.03,57.87 434.10,57.94 434.24,57.95 434.44,57.91 434.65,57.95 434.85,58.02 435.06,58.09 435.10,58.04 436.10,58.06 437.07,58.09 437.10,58.18 437.29,58.16 437.50,58.13 437.72,58.18 437.93,58.13 438.10,58.11 438.14,58.14 438.36,58.07 438.57,58.03 438.78,58.09 439,58.03 439.10,57.99 439.21,58.03 439.42,57.92 439.64,57.80 439.85,57.60 440.06,57.38 440.10,57.29 440.28,57 440.49,56.63 440.71,56.01 440.92,55.51 441.10,55.13 441.13,55.09 441.35,54.90 441.56,55.09 441.77,55.52 441.99,56.02 442.10,56.38 442.20,56.60 442.41,57.05 442.63,57.46 442.84,57.70 443.05,57.83 443.10,57.80 443.27,57.93 443.48,58.04 443.70,58.12 443.91,58.12 444.10,58.06 444.12,58.14 444.34,58.10 444.42,58.13 444.55,58.20 444.64,58.11 444.76,58.17 444.86,58.23 444.98,58.13 445.08,58.17 445.10,58.23 445.19,58.20 445.30,58.20 445.40,58.23 445.52,58.18 445.74,58.16 445.96,58.18 446.10,58.24 446.18,58.15 446.40,58.19 446.62,58.24 446.83,58.15 447.05,58.13 447.10,58.14 447.27,58.10 447.49,58.12 447.71,58.13 447.93,57.97 448.10,57.94 448.15,57.88 448.37,57.81 448.59,57.79 448.81,57.83 449.03,57.76 449.10,57.88 449.25,57.88 449.47,57.96 449.69,58.07 449.91,58.12 450.10,58.11 450.13,58.19 450.35,58.16 450.57,58.25 450.79,58.27 451.01,58.19 451.10,58.27 451.22,58.30 451.44,58.24 451.66,58.25 451.88,58.25 452.10,58.21 452.32,58.29 452.54,58.26 452.76,58.23 452.98,58.30 453.10,58.26 453.20,58.29 454.10,58.22 455.10,58.33 456.10,58.32 457.10,58.25 458.10,58.33 459.10,58.27 460.10,58.30 461.10,58.27 462.10,58.27 463.10,58.26 464.10,58.23 465.10,58.33 466.10,58.34 467.10,58.31 468.10,58.34 469.10,58.30 470.10,58.23 471.10,58.31 472.10,58.29 473.10,58.33 474.10,58.24 474.94,58.27 475.10,58.25 475.18,58.20 475.42,58.28 475.67,58.23 475.91,58.27 476.10,58.18 476.16,58.18 476.40,58.24 476.64,58.16 476.89,58.24 477.10,58.24 477.13,58.20 477.38,58.18 477.62,58.16 477.86,58.09 478.10,58.02 478.11,58 478.35,57.83 478.60,57.71 478.84,57.44 479.08,57.15 479.10,57.17 479.33,56.96 479.57,56.73 479.82,56.66 480.06,56.72 480.10,56.70 480.30,56.89 480.55,57.19 480.79,57.50 481.04,57.67 481.10,57.67 481.28,57.86 481.52,57.97 481.75,58.05 481.77,58.07 482,58.06 482.01,58.17 482.10,58.14 482.25,58.10 482.26,58.20 482.50,58.13 482.74,58.19 482.75,58.20 482.99,58.15 483.10,58.15 483.23,58.26 483.24,58.25 483.48,58.27 483.49,58.24 483.72,58.22 483.74,58.24 483.96,58.21 483.99,58.28 484.10,58.28 484.21,58.23 484.24,58.25 484.45,58.23 484.49,58.20 484.74,58.20 484.99,58.25 485.10,58.23 485.24,58.23 485.49,58.10 485.74,58.03 485.99,57.99 486.10,58.01 486.24,57.94 486.49,57.92 486.74,57.96 486.99,57.98 487.10,57.92 487.24,57.98 487.49,58.02 487.74,58.11 487.98,58.17 488.10,58.20 488.23,58.18 488.48,58.21 488.73,58.22 488.98,58.24 489.10,58.22 489.23,58.30 489.48,58.21 489.73,58.29 489.98,58.27 490.10,58.29 490.23,58.32 490.48,58.31 490.73,58.32 490.98,58.26 491.10,58.31 491.23,58.25 491.48,58.26 491.73,58.22 492.10,58.30 492.96,58.29 493.10,58.24 493.22,58.23 493.48,58.22 493.74,58.21 494,58.22 494.10,58.32 494.26,58.26 494.52,58.24 494.77,58.20 495.03,58.25 495.10,58.27 495.29,58.30 495.55,58.28 495.81,58.28 496.07,58.22 496.10,58.26 496.33,58.16 496.58,58.21 496.84,58.12 497.10,58.10 497.36,58.05 497.62,58 497.88,57.92 498.10,57.86 498.14,57.89 498.39,57.91 498.65,57.99 498.91,58.03 499.10,58.01 499.17,58.11 499.43,58.09 499.63,58.10 499.69,58.14 499.89,58.18 499.95,58.20 500.10,58.15 500.16,58.16 500.20,58.22 500.42,58.20 500.46,58.15 500.68,58.24 500.72,58.14 500.95,58.17 500.98,58.22 501.10,58.13 501.21,58.20 501.24,58.16 501.48,58.18 501.50,58.22 501.74,58.18 501.76,58.20 501.84,58.13 502,58.10 502.01,58.20 502.10,58.18 502.11,58.15 502.27,58.12 502.37,58.13 502.53,58.09 502.64,58.04 502.79,58.12 502.80,58.11 502.90,58.06 503.05,58.01 503.06,57.99 503.10,58.01 503.17,57.95 503.31,57.90 503.32,57.91 503.44,57.93 503.59,57.80 503.70,57.80 503.85,57.70 503.97,57.63 504.10,57.66 504.12,57.53 504.23,57.48 504.38,57.41 504.50,57.33 504.64,57.28 504.76,57.19 504.91,57.14 505.03,57.09 505.10,57.04 505.17,57.01 505.30,56.89 505.44,56.85 505.56,56.79 505.70,56.58 505.83,56.43 505.96,56.22 506.09,56.04 506.10,56.10 506.23,55.84 506.36,55.47 506.49,55.23 506.62,54.99 506.75,54.69 506.89,54.58 507.02,54.36 507.10,54.40 507.16,54.42 507.28,54.38 507.42,54.53 507.55,54.85 507.69,55.06 507.81,55.31 507.95,55.65 508.07,55.97 508.10,56.01 508.22,56.28 508.34,56.56 508.48,56.78 508.60,57.07 508.75,57.28 508.87,57.40 509.01,57.48 509.10,57.65 509.13,57.65 509.28,57.73 509.39,57.73 509.55,57.85 509.66,57.84 509.81,57.98 509.92,57.98 510.08,58.03 510.10,58.03 510.19,57.96 510.34,58.04 510.61,58.05 510.65,58.05 510.87,58.12 510.93,58.01 511.10,58.06 511.14,58.02 511.20,58.12 511.41,58.07 511.47,58.05 511.67,58.05 511.74,58.09 511.94,58.04 512.02,58.03 512.10,58.05 512.20,58.04 512.29,58.11 512.47,58.05 512.56,58.04 512.84,58.07 513.10,57.98 513.11,58.05 513.38,57.93 513.65,57.90 513.93,57.83 514.10,57.68 514.20,57.55 514.47,57.33 514.74,56.95 515.02,56.46 515.10,56.35 515.29,55.90 515.56,55.33 515.84,54.82 516.10,54.70 516.11,54.73 516.38,54.81 516.65,55.28 516.93,55.96 517.10,56.30 517.20,56.43 517.23,56.55 517.47,56.97 517.51,57 517.75,57.29 517.79,57.36 518.02,57.66 518.06,57.65 518.10,57.61 518.29,57.77 518.34,57.80 518.56,57.88 518.62,57.90 518.84,58.04 518.90,57.95 519.10,58.07 519.11,58.04 519.18,58.07 519.38,58.12 519.45,58.11 519.65,58.09 519.73,58.06 519.93,58.11 520.01,58.11 520.10,58.06 520.20,58.09 520.29,58.08 520.47,58.08 520.57,58.12 520.75,58.02 520.85,58.09 521.02,58.07 521.10,57.97 521.12,58.02 521.29,57.95 521.40,57.95 521.56,57.93 521.68,57.87 521.96,57.77 522.10,57.70 522.24,57.65 522.51,57.61 522.79,57.56 523.07,57.54 523.10,57.57 523.35,57.69 523.63,57.75 523.90,57.92 524.10,57.92 524.18,57.94 524.46,58.06 524.74,58.14 525.02,58.12 525.10,58.16 525.29,58.25 525.57,58.20 525.85,58.18 526.10,58.20 526.13,58.20 526.41,58.26 526.68,58.19 526.96,58.21 527.10,58.26 527.24,58.21 527.52,58.26 527.80,58.29 528.07,58.24 528.10,58.22 528.15,58.22 528.35,58.22 528.44,58.20 528.73,58.23 529.01,58.21 529.10,58.27 529.30,58.28 529.59,58.28 529.88,58.28 530.10,58.27 530.16,58.26 530.45,58.31 530.74,58.25 531.02,58.24 531.10,58.27 531.31,58.27 531.60,58.17 531.88,58.18 532.10,58.16 532.17,58.16 532.46,58.20 532.74,58.13 533.03,58.02 533.10,58 533.32,58.03 533.60,57.93 533.89,57.90 534.10,57.90 534.18,57.99 534.46,57.96 534.75,58.04 535.04,58.05 535.10,58.17 535.33,58.13 535.61,58.14 535.90,58.18 536.10,58.27 536.19,58.25 536.47,58.20 536.76,58.25 537.05,58.27 537.10,58.28 537.33,58.27 537.62,58.32 537.91,58.29 538.10,58.23 538.19,58.23 538.48,58.32 538.77,58.26 539.05,58.23 539.10,58.32 539.34,58.30 539.63,58.28 539.90,58.31" fill="none" stroke="#f25656" stroke-width="1.05" stroke-linejoin="round"/>
<polyline points="295.10,84.17 296.10,84.16 297.10,84.20 298.10,84.15 299.10,84.13 300.10,84.22 301.10,84.17 302.10,84.23 303.10,84.16 304.10,84.24 305.10,84.20 306.10,84.15 307.10,84.16 308.10,84.19 309.10,84.22 310.10,84.14 311.10,84.17 312.10,84.21 313.10,84.13 314.10,84.14 315.10,84.14 316.10,84.16 317.10,84.12 318.10,84.18 319.10,84.16 320.10,84.09 320.99,84.10 321.10,84.11 321.18,84.14 321.36,84.11 321.55,84.04 321.74,84.12 321.93,84.04 322.10,84.06 322.11,84.06 322.30,84.06 322.49,83.98 322.68,83.96 322.86,84 323.05,83.94 323.10,83.97 323.24,83.92 323.43,83.86 323.61,83.89 323.80,83.80 323.99,83.76 324.10,83.65 324.18,83.67 324.36,83.51 324.55,83.41 324.74,83.46 324.93,83.40 325.10,83.50 325.11,83.50 325.30,83.54 325.49,83.53 325.57,83.49 325.68,83.60 325.75,83.50 325.86,83.55 325.94,83.57 326.05,83.50 326.10,83.47 326.13,83.51 326.24,83.48 326.32,83.41 326.43,83.36 326.50,83.42 326.61,83.31 326.69,83.22 326.80,83.16 326.88,83.19 326.99,83 327.07,82.95 327.10,82.89 327.18,82.86 327.25,82.69 327.36,82.54 327.44,82.44 327.55,82.14 327.63,81.95 327.74,81.45 327.82,81.08 327.93,80.47 328,79.93 328.10,79.03 328.11,79.01 328.19,78.15 328.30,76.82 328.38,75.62 328.49,73.91 328.57,72.38 328.75,68.87 328.94,65.01 329.10,62.44 329.13,62.05 329.32,60.91 329.50,61.99 329.69,65.11 329.88,68.93 330.07,72.57 330.10,73.13 330.25,75.60 330.44,78.13 330.63,79.96 330.82,81.17 331,81.86 331.10,82.24 331.19,82.45 331.38,82.72 331.57,82.95 331.75,83.19 331.94,83.33 332.10,83.33 332.13,83.44 332.32,83.47 332.50,83.51 332.69,83.68 332.88,83.72 333.07,83.72 333.10,83.77 334.10,83.83 335.10,83.98 336.10,83.97 337.10,84.03 338.10,84.09 339.10,84.10 340.10,84.05 341.10,84.03 341.93,83.93 342.10,84 342.13,83.99 342.34,83.97 342.55,83.89 342.76,83.87 342.96,83.85 343.10,83.88 343.17,83.81 343.38,83.77 343.58,83.68 343.79,83.64 344,83.52 344.10,83.37 344.21,83.36 344.41,82.96 344.62,82.52 344.83,81.83 345.04,80.92 345.10,80.62 345.24,79.78 345.45,78.33 345.66,76.93 345.86,75.73 346.07,75.27 346.10,75.34 346.28,75.73 346.49,76.88 346.69,78.27 346.90,79.68 347.10,80.96 347.11,80.91 347.32,81.85 347.52,82.49 347.73,82.99 347.94,83.35 348.10,83.45 348.15,83.50 348.35,83.66 348.56,83.76 348.77,83.75 348.97,83.82 349.10,83.91 349.18,83.89 349.39,83.93 349.60,83.88 349.80,83.95 350.01,84.01 350.10,84.02 351.10,84.01 352.10,84.08 353,84.10 353.10,84.11 353.22,84.15 353.44,84.17 353.66,84.11 353.88,84.15 354.10,84.07 354.33,84.12 354.55,84.14 354.77,84.07 354.99,84.10 355.10,84.08 355.21,84.08 355.43,84.08 355.65,84.05 355.87,84.08 356.09,84.03 356.10,84.06 356.31,83.94 356.53,83.93 356.75,83.86 356.97,83.76 357.10,83.79 357.20,83.77 357.42,83.65 357.64,83.76 357.86,83.77 358.08,83.87 358.10,83.87 358.30,83.96 358.52,83.98 358.74,84.10 358.96,84.11 359.10,84.06 359.18,84.08 359.40,84.11 359.62,84.16 359.84,84.20 360.07,84.19 360.10,84.09 360.29,84.09 360.51,84.17 360.73,84.13 360.95,84.16 361.10,84.12 361.17,84.17 361.39,84.12 361.61,84.22 361.83,84.13 362.10,84.18 363.10,84.11 364.10,84.21 365.10,84.22 366.10,84.16 367.10,84.18 368.10,84.21 369.10,84.22 370.10,84.19 371.10,84.14 372.10,84.17 373.10,84.15 374.10,84.21 375.10,84.16 376.10,84.23 377.10,84.23 378.10,84.22 379.10,84.20 379.28,84.11 379.53,84.10 379.79,84.15 380.04,84.17 380.10,84.16 380.29,84.12 380.54,84.13 380.80,84.15 381.05,84.12 381.10,84.14 381.30,84.08 381.55,84.17 381.81,84.09 382.06,84.16 382.10,84.05 382.31,84.05 382.57,84 382.82,84.05 383.07,83.92 383.10,83.96 383.32,83.87 383.58,83.75 383.83,83.69 384.08,83.55 384.10,83.65 384.33,83.59 384.59,83.64 384.84,83.62 385.09,83.75 385.10,83.75 385.34,83.86 385.60,83.96 385.85,84.05 386.10,84.05 386.36,84.08 386.61,84.09 386.86,84.07 387.10,84.13 387.11,84.13 387.37,84.15 387.62,84.07 387.87,84.05 388.10,84.14 388.12,84.14 388.38,84.14 388.63,84.12 388.88,84.10 389.10,84.05 389.14,84.14 389.39,84.12 390.10,84.04 391.10,84.11 392.10,83.98 393.10,83.93 394.05,83.88 394.10,83.95 394.32,83.88 394.59,83.82 394.87,83.81 395.10,83.81 395.14,83.76 395.41,83.69 395.68,83.63 395.95,83.61 396.10,83.57 396.22,83.49 396.49,83.30 396.76,83.13 397.03,82.76 397.10,82.74 397.30,82.31 397.57,81.68 397.84,80.61 398.10,79.22 398.11,79.08 398.38,77.17 398.65,75.03 398.93,72.70 399.10,71.50 399.20,70.92 399.47,70.22 399.74,70.96 400.01,72.72 400.10,73.47 400.28,75.03 400.55,77.17 400.82,79.09 401.09,80.57 401.10,80.56 401.36,81.64 401.63,82.30 401.90,82.85 402.10,82.99 402.17,83.16 402.44,83.27 402.48,83.28 402.71,83.48 402.76,83.47 402.99,83.55 403.04,83.54 403.10,83.62 403.26,83.62 403.32,83.67 403.53,83.76 403.60,83.70 403.80,83.71 403.88,83.77 404.07,83.81 404.10,83.80 404.16,83.75 404.34,83.82 404.45,83.81 404.61,83.83 404.73,83.93 405.01,83.88 405.10,83.84 405.29,83.89 405.57,83.96 405.85,83.91 406.10,83.86 406.13,83.92 406.41,83.92 406.69,83.80 406.97,83.78 407.10,83.79 407.26,83.75 407.54,83.72 407.82,83.67 408.10,83.56 408.38,83.60 408.66,83.68 408.94,83.72 409.10,83.84 409.22,83.80 409.50,83.90 409.78,84.03 410.06,84.02 410.10,83.99 410.35,84.04 410.63,84.09 410.91,84.02 411.10,84.09 411.19,84.10 411.47,84.08 411.75,84.12 412.03,84.12 412.10,84.08 412.31,84.16 412.59,84.15 412.87,84.15 413.10,84.13 413.15,84.12 413.44,84.16 413.72,84.07 414.10,84.17 415.10,84.17 416.10,84.09 417.10,84.14 418.10,84.15 419.10,84.10 420.10,84.16 421.10,84.13 422.10,84.08 423.10,84 424.10,84.04 425.10,83.97 426.10,83.92 426.28,83.98 426.59,83.89 426.90,83.83 427.10,83.80 427.21,83.82 427.52,83.79 427.83,83.73 428.10,83.65 428.14,83.64 428.45,83.56 428.76,83.46 429.07,83.40 429.10,83.32 429.38,83.18 429.69,82.86 430,82.46 430.10,82.28 430.31,81.79 430.62,80.85 430.93,79.47 431.10,78.53 431.24,77.79 431.55,75.70 431.86,73.63 432.10,72.27 432.17,71.95 432.48,71.35 432.79,72.04 433.10,73.66 433.41,75.66 433.72,77.71 434.03,79.42 434.10,79.80 434.34,80.77 434.65,81.81 434.96,82.44 435.10,82.64 435.27,82.89 435.58,83.19 435.89,83.37 436.10,83.41 436.20,83.48 436.31,83.50 436.51,83.49 436.63,83.53 436.82,83.66 436.95,83.62 437.10,83.65 437.13,83.68 437.28,83.71 437.44,83.73 437.60,83.67 437.75,83.66 437.92,83.73 438.06,83.69 438.10,83.75 438.24,83.79 438.37,83.70 438.56,83.75 438.68,83.75 438.89,83.74 439.10,83.66 439.21,83.75 439.53,83.71 439.85,83.57 440.10,83.45 440.17,83.50 440.50,83.22 440.82,82.84 441.10,82.51 441.14,82.48 441.46,81.88 441.78,81.13 442.10,80.47 442.11,80.44 442.43,79.91 442.75,79.62 443.07,79.88 443.10,79.90 443.39,80.49 443.65,81.03 443.72,81.26 443.99,81.78 444.04,81.90 444.10,82.05 444.32,82.47 444.36,82.48 444.65,82.90 444.68,82.92 444.98,83.26 445,83.25 445.10,83.40 445.31,83.58 445.33,83.53 445.64,83.70 445.65,83.67 445.97,83.78 446.10,83.75 446.29,83.79 446.30,83.82 446.61,83.91 446.63,83.91 446.94,83.95 446.96,83.96 447.10,83.93 447.26,83.91 447.30,83.94 447.58,83.94 447.63,83.96 447.90,83.96 447.96,83.89 448.10,83.95 448.23,83.98 448.29,83.90 448.55,83.88 448.62,83.93 448.87,83.84 448.95,83.79 449.10,83.83 449.28,83.79 449.61,83.68 449.94,83.64 450.10,83.59 450.27,83.66 450.61,83.67 450.94,83.77 451.10,83.71 451.27,83.82 451.60,83.85 451.93,83.95 452.10,84.03 452.26,83.96 452.59,84.08 452.92,84.13 453.10,84.03 453.25,84.12 453.58,84.16 453.92,84.16 454.10,84.09 454.25,84.09 454.58,84.13 454.91,84.13 455.10,84.16 455.24,84.08 455.57,84.19 455.90,84.19 456.10,84.10 456.23,84.10 456.56,84.12 457.10,84.09 458.10,84.10 459.10,84.18 460.10,84.20 461.10,84.15 462.10,84.22 463.10,84.17 464.10,84.22 465.10,84.13 466.10,84.22 467.10,84.13 468.10,84.12 469.10,84.21 470.10,84.17 471.10,84.21 472.10,84.19 473.10,84.20 474.10,84.16 474.18,84.19 474.55,84.14 474.92,84.10 475.10,84.13 475.29,84.08 475.65,84.09 476.02,84.07 476.10,84.14 476.39,84.09 476.76,84.06 477.10,84.03 477.13,84.05 477.50,84.09 477.86,84 478.10,84.03 478.23,83.97 478.60,84.01 478.97,83.87 479.10,83.81 479.34,83.70 479.70,83.56 480.07,83.38 480.10,83.34 480.44,83.08 480.81,82.88 481,82.73 481.10,82.60 481.18,82.65 481.38,82.53 481.54,82.59 481.75,82.60 481.91,82.67 482.10,82.73 482.13,82.77 482.28,82.89 482.51,82.94 482.65,83.11 482.88,83.29 483.02,83.39 483.10,83.45 483.26,83.52 483.39,83.58 483.64,83.74 483.75,83.72 484.01,83.87 484.10,83.83 484.12,83.89 484.39,83.91 484.49,83.92 484.77,84.02 484.86,83.94 485.10,83.99 485.14,84.03 485.23,84.03 485.52,84.03 485.59,83.97 485.89,83.99 485.96,84.08 486.10,83.98 486.27,84.01 486.33,83.97 486.65,84.02 486.70,84 487.02,83.89 487.07,83.89 487.10,83.92 487.40,83.89 487.43,83.92 487.78,83.86 487.80,83.84 488.10,83.81 488.15,83.80 488.17,83.78 488.53,83.74 488.54,83.76 488.91,83.77 489.10,83.87 489.28,83.85 489.66,83.93 490.04,84.01 490.10,84 490.41,83.97 490.79,83.99 491.10,84.08 491.16,84.13 491.54,84.09 491.92,84.15 492.10,84.12 492.23,84.16 492.29,84.11 492.62,84.15 492.67,84.15 493.01,84.16 493.05,84.15 493.10,84.09 493.40,84.08 493.42,84.16 493.79,84.17 493.80,84.12 494.10,84.15 494.18,84.17 494.55,84.09 494.57,84.11 494.93,84.14 494.97,84.07 495.10,84.12 495.30,84.10 495.36,84.11 495.68,84.08 495.75,84.06 496.10,84.15 496.14,84.10 496.53,84.07 496.92,84.04 497.10,84.04 497.31,84.12 497.70,84.08 498.09,83.96 498.10,84.02 498.48,83.89 498.87,83.88 498.91,83.87 499.10,83.86 499.26,83.88 499.31,83.82 499.65,83.76 499.71,83.80 500.04,83.78 500.10,83.74 500.43,83.75 500.50,83.75 500.82,83.84 500.90,83.77 501.10,83.84 501.13,83.77 501.21,83.88 501.30,83.91 501.53,83.84 501.60,83.83 501.70,83.92 501.93,83.92 501.99,83.90 502.10,83.91 502.33,83.92 502.38,83.88 502.49,83.88 502.73,84 502.77,83.99 502.89,83.94 503.10,83.96 503.13,83.97 503.16,83.93 503.29,83.94 503.53,83.85 503.55,83.85 503.69,83.84 503.93,83.88 503.94,83.82 504.09,83.84 504.10,83.89 504.33,83.77 504.48,83.73 504.72,83.73 504.73,83.68 504.88,83.61 505.10,83.60 505.11,83.58 505.14,83.51 505.28,83.44 505.50,83.42 505.54,83.36 505.68,83.30 505.89,83.11 505.94,83.08 506.08,83.05 506.10,83.01 506.28,82.89 506.34,82.84 506.48,82.68 506.67,82.59 506.74,82.52 506.87,82.34 507.06,82.18 507.10,82.15 507.14,82.13 507.27,81.99 507.45,81.77 507.54,81.62 507.67,81.47 507.94,81.16 508.07,81.02 508.10,80.97 508.34,80.69 508.47,80.50 508.74,80.28 508.86,80.20 509.10,80.16 509.14,80.19 509.26,80.24 509.55,80.45 509.66,80.52 509.95,80.92 509.96,81.02 510.06,81.08 510.10,81.24 510.35,81.60 510.37,81.67 510.46,81.81 510.75,82.19 510.78,82.19 510.86,82.37 511.10,82.68 511.15,82.66 511.19,82.70 511.25,82.75 511.55,83.04 511.60,83.15 511.65,83.19 511.95,83.38 512.02,83.36 512.05,83.36 512.10,83.45 512.35,83.48 512.43,83.53 512.45,83.59 512.75,83.62 512.84,83.68 512.85,83.62 513.10,83.69 513.15,83.69 513.24,83.71 513.25,83.73 513.55,83.72 513.64,83.69 513.66,83.77 513.95,83.70 514.04,83.70 514.07,83.72 514.10,83.73 514.36,83.71 514.44,83.71 514.49,83.62 514.76,83.66 514.90,83.62 515.10,83.48 515.16,83.44 515.31,83.46 515.56,83.29 515.72,83.11 515.96,82.91 516.10,82.81 516.13,82.81 516.36,82.56 516.54,82.30 516.55,82.27 516.76,82.05 516.95,81.78 516.97,81.73 517.10,81.55 517.37,81.23 517.39,81.26 517.78,80.73 517.81,80.77 518.10,80.60 518.19,80.60 518.23,80.66 518.60,80.85 518.65,80.84 519.01,81.19 519.07,81.31 519.10,81.32 519.42,81.83 519.49,81.90 519.84,82.33 519.91,82.48 520.10,82.69 520.25,82.79 520.33,82.95 520.66,83.24 520.75,83.27 521.07,83.47 521.10,83.44 521.17,83.51 521.48,83.59 521.59,83.68 521.89,83.67 522.01,83.67 522.10,83.75 522.31,83.73 522.43,83.68 522.72,83.77 522.85,83.75 523.10,83.70 523.13,83.68 523.27,83.66 523.54,83.65 523.68,83.59 523.95,83.56 524.10,83.48 524.36,83.44 524.52,83.41 524.78,83.36 524.94,83.43 525.10,83.35 525.19,83.38 525.36,83.47 525.60,83.47 525.78,83.46 526.01,83.53 526.10,83.56 526.20,83.68 526.62,83.72 527.04,83.85 527.10,83.85 527.46,83.92 527.51,83.91 527.88,84 527.94,84.04 528.10,83.98 528.30,84.09 528.37,84.07 528.72,84.02 528.81,84.09 529.10,84.08 529.14,84.03 529.24,84.04 529.56,84.08 529.67,84.07 529.98,84.12 530.10,84.09 530.40,84.07 530.54,84.15 530.82,84.13 530.97,84.11 531.10,84.15 531.24,84.06 531.40,84.07 531.66,84.17 531.84,84.12 532.08,84.11 532.10,84.17 532.27,84.07 532.50,84.12 532.70,84.14 532.92,84.12 533.10,84.13 533.14,84.08 533.57,84.01 534,84.04 534.10,84.07 534.43,83.94 534.87,83.89 535.10,83.91 535.30,83.85 535.73,83.87 536.10,83.78 536.17,83.76 536.60,83.88 537.03,83.89 537.10,83.91 537.47,83.99 537.90,84.05 538.10,84.04 538.33,84.10 538.76,84.08 539.10,84.14 539.20,84.11 539.63,84.08 539.90,84.10" fill="none" stroke="#5590e8" stroke-width="1.05" stroke-linejoin="round"/>
<polyline points="295.10,111.03 296.10,111.05 297.10,110.98 298.10,111.05 299.10,111 300.10,111.04 301.10,110.98 302.10,111 303.10,110.99 304.10,110.97 305.10,111.01 306.10,111.01 307.10,111.01 308.10,111.04 309.10,111.03 310.10,111.02 311.10,111 312.10,111.04 313.10,110.94 314.10,110.95 315.10,110.92 316.10,110.94 317.10,111.03 318.10,110.95 319.10,110.92 320.10,110.91 321.10,110.91 322.10,110.88 322.43,110.91 322.58,110.94 322.73,110.93 322.88,110.89 323.03,110.89 323.10,110.88 323.18,110.95 323.33,110.91 323.48,110.85 323.63,110.86 323.78,110.88 323.93,110.85 324.08,110.86 324.10,110.80 324.23,110.76 324.38,110.78 324.53,110.71 324.68,110.61 324.83,110.48 324.98,110.49 325.10,110.33 325.13,110.32 325.18,110.33 325.28,110.36 325.43,110.43 325.58,110.45 325.73,110.61 325.88,110.65 326.03,110.62 326.10,110.68 326.18,110.68 326.33,110.70 326.48,110.61 326.63,110.58 326.78,110.59 326.93,110.61 327.02,110.50 327.08,110.49 327.10,110.53 327.17,110.52 327.23,110.48 327.32,110.45 327.38,110.44 327.47,110.30 327.53,110.30 327.62,110.28 327.68,110.26 327.77,110.22 327.83,110.12 327.92,110.06 328.07,109.85 328.10,109.88 328.22,109.66 328.37,109.32 328.52,108.80 328.67,108.01 328.82,106.70 328.97,104.66 329.10,102.29 329.12,101.89 329.27,98.29 329.42,94.23 329.57,90.33 329.72,88.14 329.78,87.89 329.87,88.49 330.02,91.29 330.10,93.27 330.17,95.21 330.32,99.26 330.47,102.62 330.62,105.31 330.77,107.07 330.92,108.17 331.07,108.92 331.10,109.07 331.22,109.39 331.37,109.67 331.52,109.94 331.67,110.13 331.82,110.17 331.97,110.30 332.10,110.33 332.12,110.37 332.27,110.48 332.42,110.57 333.10,110.67 334.10,110.81 335.10,110.88 336.10,110.87 337.10,110.93 338.10,110.89 339.10,110.98 340.10,110.99 341.10,110.94 342.10,110.94 343.10,110.81 343.56,110.81 343.71,110.76 343.87,110.82 344.02,110.73 344.10,110.70 344.17,110.71 344.32,110.69 344.48,110.73 344.63,110.59 344.78,110.63 344.93,110.52 345.09,110.42 345.10,110.42 345.24,110.16 345.39,109.94 345.54,109.51 345.70,108.95 345.85,108.13 346,107.03 346.10,106.21 346.15,105.81 346.31,104.47 346.46,103.48 346.61,103.10 346.76,103.46 346.92,104.54 347.07,105.88 347.10,106.11 347.22,107.07 347.37,108.13 347.53,108.91 347.68,109.51 347.83,109.95 347.98,110.25 348.10,110.41 348.14,110.45 348.29,110.55 348.44,110.61 348.59,110.60 348.75,110.71 348.90,110.73 349.05,110.74 349.10,110.71 349.20,110.76 349.36,110.83 349.51,110.82 349.66,110.86 350.10,110.90 351.10,110.89 352.10,110.93 353.10,110.97 354.10,110.94 354.76,111.01 354.92,110.95 355.09,110.92 355.10,110.91 355.25,110.96 355.41,110.99 355.57,110.93 355.74,110.90 355.90,110.98 356.06,110.97 356.10,110.99 356.22,110.97 356.38,110.91 356.55,110.92 356.71,110.95 356.87,110.93 357.03,110.90 357.10,110.83 357.20,110.86 357.36,110.78 357.52,110.69 357.68,110.57 357.85,110.49 358.01,110.53 358.10,110.49 358.17,110.58 358.33,110.63 358.50,110.69 358.66,110.74 358.82,110.79 358.98,110.83 359.10,110.92 359.15,110.95 359.31,110.96 359.47,110.98 359.63,110.94 359.80,110.90 359.96,110.92 360.10,110.93 360.12,110.96 360.28,111 360.45,110.92 360.61,110.95 360.77,110.91 360.93,110.96 361.09,111.01 361.10,111.01 362.10,110.94 363.10,111.03 364.10,110.99 365.10,110.99 366.10,111 367.10,110.93 368.10,110.94 369.10,111.03 370.10,110.93 371.10,110.98 372.10,111.03 373.10,110.95 374.10,111 375.10,110.99 376.10,111.02 377.10,110.99 378.10,111.01 379.10,110.93 380.10,111.03 381.10,110.99 381.34,110.98 381.53,110.93 381.71,110.97 381.90,110.95 382.08,111 382.10,110.94 382.27,110.96 382.46,110.92 382.64,110.91 382.83,110.97 383.01,110.94 383.10,110.92 383.20,110.89 383.39,110.97 383.57,110.91 383.76,110.84 383.94,110.88 384.10,110.73 384.13,110.76 384.32,110.67 384.50,110.66 384.69,110.51 384.87,110.44 385.06,110.44 385.10,110.35 385.25,110.43 385.43,110.52 385.62,110.56 385.80,110.64 385.99,110.80 386.10,110.86 386.18,110.86 386.36,110.90 386.55,110.91 386.73,110.86 386.92,110.99 387.10,110.95 387.29,111 387.48,110.97 387.66,110.91 387.85,110.95 388.03,110.91 388.10,110.98 388.22,110.94 388.41,111 388.59,110.96 388.78,111.01 389.10,110.94 390.10,110.96 391.10,110.95 392.10,110.93 393.10,110.93 394.10,110.96 395.10,110.89 396.10,110.78 396.29,110.79 396.48,110.78 396.68,110.72 396.88,110.73 397.08,110.74 397.10,110.69 397.28,110.64 397.48,110.67 397.68,110.61 397.88,110.54 398.08,110.36 398.10,110.43 398.28,110.24 398.48,110.12 398.68,109.80 398.88,109.22 399.07,108.59 399.10,108.43 399.27,107.55 399.47,106.30 399.67,104.76 399.87,103.28 400.07,102.05 400.10,101.93 400.27,101.50 400.47,101.98 400.67,103.24 400.87,104.79 401.07,106.23 401.10,106.51 401.27,107.52 401.46,108.46 401.66,109.21 401.86,109.69 402.06,110.07 402.10,110.10 402.26,110.22 402.46,110.45 402.66,110.50 402.86,110.55 403.06,110.60 403.10,110.63 403.26,110.62 403.46,110.67 403.66,110.68 403.86,110.71 404.05,110.78 404.10,110.73 404.25,110.79 404.81,110.89 405.02,110.84 405.10,110.84 405.22,110.89 405.43,110.84 405.64,110.85 405.85,110.83 406.05,110.89 406.10,110.88 406.26,110.88 406.47,110.86 406.67,110.87 406.88,110.94 407.09,110.85 407.10,110.92 407.29,110.90 407.50,110.90 407.71,110.79 407.91,110.83 408.10,110.67 408.12,110.73 408.33,110.68 408.53,110.55 408.74,110.46 408.95,110.46 409.10,110.52 409.15,110.53 409.36,110.56 409.57,110.68 409.77,110.75 409.98,110.77 410.10,110.87 410.19,110.83 410.39,110.84 410.60,110.86 410.81,110.93 411.01,110.91 411.10,110.94 411.22,110.92 411.43,110.96 411.63,110.96 411.84,110.91 412.05,110.98 412.10,110.90 412.25,110.95 412.46,110.99 412.67,110.98 412.87,111 413.10,110.93 414.10,110.98 415.10,111.02 416.10,110.98 417.10,110.93 418.10,110.98 419.10,111.03 420.10,110.98 421.10,110.96 422.10,110.94 423.10,110.99 424.10,110.98 425.10,110.94 426.10,110.90 427.10,110.85 428.10,110.87 428.90,110.87 429.10,110.82 429.13,110.86 429.36,110.79 429.58,110.75 429.81,110.78 430.04,110.73 430.10,110.69 430.27,110.72 430.50,110.64 430.73,110.57 430.95,110.45 431.10,110.39 431.18,110.42 431.41,110.19 431.64,109.88 431.87,109.46 432.09,108.87 432.10,108.82 432.32,107.91 432.55,106.82 432.78,105.45 433.01,104.16 433.10,103.67 433.23,103.07 433.46,102.68 433.69,103.03 433.92,104.18 434.10,105.19 434.15,105.48 434.37,106.85 434.60,107.96 434.83,108.86 435.06,109.46 435.10,109.49 435.29,109.87 435.51,110.16 435.74,110.37 435.97,110.49 436.10,110.58 436.20,110.51 436.43,110.67 436.66,110.63 436.88,110.74 437.10,110.72 437.11,110.68 437.34,110.74 437.57,110.72 437.80,110.82 438.02,110.74 438.10,110.74 439.05,110.78 439.10,110.85 439.29,110.84 439.52,110.78 439.76,110.82 440,110.81 440.10,110.89 440.24,110.86 440.47,110.85 440.71,110.84 440.95,110.77 441.10,110.81 441.18,110.74 441.42,110.67 441.66,110.67 441.90,110.63 442.10,110.44 442.13,110.39 442.37,110.26 442.61,109.88 442.84,109.52 443.08,109.13 443.10,109.11 443.32,108.67 443.55,108.32 443.79,108.22 444.03,108.28 444.10,108.40 444.27,108.68 444.50,109.07 444.74,109.61 444.98,109.96 445.10,110.13 445.21,110.21 445.45,110.40 445.69,110.65 445.93,110.75 446.10,110.78 446.16,110.75 446.40,110.76 446.49,110.75 446.64,110.81 446.73,110.85 446.87,110.83 446.97,110.86 447.10,110.92 447.11,110.90 447.22,110.87 447.35,110.86 447.46,110.85 447.59,110.85 447.71,110.94 447.82,110.92 447.95,110.93 448.06,110.90 448.10,110.86 448.19,110.87 448.30,110.90 448.44,110.95 448.53,110.91 448.68,110.88 448.92,110.94 449.10,110.90 449.17,110.90 449.41,110.91 449.65,110.87 449.90,110.83 450.10,110.74 450.14,110.74 450.39,110.72 450.63,110.60 450.87,110.57 451.10,110.50 451.12,110.51 451.36,110.45 451.60,110.52 451.85,110.60 452.09,110.63 452.10,110.67 452.34,110.76 452.58,110.76 452.82,110.83 453.07,110.94 453.10,110.89 453.31,110.90 453.55,110.94 453.80,110.88 454.04,111 454.10,110.95 454.28,110.91 454.53,110.96 454.77,110.97 455.02,110.92 455.10,110.94 455.26,110.94 455.50,110.93 455.75,111.01 455.99,110.95 456.10,111.03 457.10,111.01 458.10,110.95 459.10,110.94 460.10,110.93 461.10,111.02 462.10,110.98 463.10,111.03 464.10,111.04 465.10,110.97 466.10,111.04 467.10,111.04 468.10,110.96 469.10,111.01 470.10,110.99 471.10,111 472.10,111.01 473.10,110.98 474.10,110.93 475.10,110.94 476.10,111.02 477.10,110.98 477.41,110.98 477.68,110.93 477.95,110.90 478.10,110.89 478.22,111 478.49,110.97 478.76,110.88 479.03,110.89 479.10,110.88 479.30,110.94 479.58,110.96 479.85,110.87 480.10,110.93 480.12,110.90 480.39,110.86 480.66,110.81 480.93,110.71 481.10,110.59 481.20,110.59 481.47,110.36 481.74,110.19 482.02,109.93 482.10,109.85 482.29,109.65 482.56,109.40 482.83,109.40 483.10,109.48 483.37,109.63 483.64,109.86 483.91,110.12 484.10,110.38 484.18,110.39 484.32,110.54 484.46,110.59 484.59,110.66 484.73,110.72 484.87,110.78 485,110.80 485.10,110.73 485.15,110.78 485.27,110.80 485.43,110.87 485.54,110.88 485.70,110.83 485.81,110.83 485.98,110.89 486.08,110.94 486.10,110.89 486.26,110.88 486.35,110.87 486.53,110.87 486.62,110.85 486.81,110.96 486.89,110.86 487.09,110.92 487.10,110.90 487.17,110.91 487.37,110.90 487.44,110.92 487.64,110.86 487.71,110.92 487.92,110.92 487.98,110.91 488.10,110.90 488.20,110.88 488.48,110.77 488.75,110.79 489.03,110.76 489.10,110.73 489.31,110.67 489.58,110.65 489.86,110.64 490.10,110.61 490.14,110.62 490.42,110.66 490.69,110.71 490.97,110.81 491.10,110.85 491.25,110.83 491.52,110.93 491.80,110.88 492.08,110.88 492.10,110.90 492.36,110.99 492.63,110.92 492.91,110.97 493.10,111 493.19,110.90 493.46,110.97 493.74,111.01 494.02,110.97 494.10,110.94 494.30,110.91 494.57,111.01 494.85,110.92 495.10,111 495.13,111.01 495.40,111.01 495.70,110.94 495.99,110.93 496.10,110.93 496.28,110.99 496.56,110.94 496.85,110.96 497.10,110.97 497.14,110.96 497.43,110.90 497.71,110.98 498,110.98 498.10,110.99 498.29,110.93 498.58,110.99 498.86,110.92 499.10,110.89 499.15,110.92 499.44,110.95 499.72,110.88 500.01,110.80 500.10,110.80 500.30,110.75 500.59,110.74 500.87,110.61 501.10,110.69 501.16,110.61 501.45,110.62 501.74,110.66 502.02,110.65 502.10,110.65 502.31,110.74 502.47,110.69 502.60,110.75 502.76,110.81 502.88,110.82 503.06,110.81 503.10,110.79 503.17,110.89 503.35,110.88 503.46,110.86 503.64,110.81 503.75,110.86 503.94,110.88 504.03,110.86 504.10,110.88 504.23,110.90 504.32,110.90 504.52,110.91 504.61,110.80 504.72,110.89 504.82,110.85 504.90,110.84 505.01,110.89 505.10,110.88 505.11,110.89 505.18,110.84 505.31,110.87 505.40,110.80 505.47,110.77 505.60,110.87 505.70,110.76 505.76,110.77 505.90,110.82 505.99,110.76 506.04,110.78 506.10,110.78 506.19,110.75 506.28,110.66 506.33,110.72 506.49,110.68 506.58,110.69 506.62,110.59 506.79,110.60 506.87,110.58 506.91,110.56 507.08,110.42 507.10,110.50 507.16,110.44 507.19,110.40 507.38,110.34 507.46,110.26 507.67,110.10 507.75,110.15 507.97,109.93 508.04,109.92 508.10,109.84 508.26,109.83 508.34,109.80 508.56,109.57 508.63,109.61 508.85,109.37 508.92,109.40 509.10,109.15 509.15,109.09 509.22,109.09 509.44,108.70 509.51,108.64 509.74,108.22 509.80,108.18 510.03,107.73 510.10,107.63 510.33,107.35 510.39,107.28 510.62,107.11 510.68,107.21 510.92,107.33 510.98,107.47 511.10,107.68 511.21,107.84 511.27,107.96 511.51,108.49 511.56,108.61 511.80,109.04 511.86,109.21 512.10,109.60 512.15,109.59 512.39,109.98 512.44,110.01 512.69,110.19 512.74,110.31 512.99,110.49 513.03,110.44 513.10,110.47 513.28,110.52 513.32,110.51 513.58,110.62 513.61,110.62 513.67,110.62 513.87,110.74 513.91,110.63 513.98,110.74 514.10,110.74 514.17,110.75 514.20,110.68 514.28,110.67 514.46,110.72 514.58,110.79 514.76,110.79 514.89,110.79 515.05,110.78 515.10,110.79 515.19,110.70 515.35,110.75 515.49,110.79 515.64,110.69 515.80,110.76 515.94,110.78 516.10,110.78 516.23,110.73 516.40,110.68 516.71,110.62 517.01,110.58 517.10,110.50 517.31,110.45 517.62,110.25 517.92,110.04 518.10,109.85 518.22,109.72 518.52,109.19 518.83,108.71 519.10,108.17 519.13,108.12 519.43,107.69 519.74,107.47 520.04,107.68 520.10,107.78 520.34,108.12 520.36,108.19 520.65,108.67 520.67,108.76 520.95,109.25 520.98,109.28 521.10,109.52 521.25,109.72 521.29,109.75 521.56,110.08 521.60,110.09 521.86,110.32 521.91,110.34 522.10,110.50 522.16,110.49 522.22,110.57 522.47,110.56 522.53,110.67 522.77,110.72 522.84,110.64 523.07,110.73 523.10,110.78 523.14,110.77 523.38,110.79 523.45,110.75 523.68,110.80 523.76,110.76 523.98,110.72 524.07,110.72 524.10,110.79 524.29,110.74 524.38,110.72 524.59,110.67 524.69,110.68 524.89,110.61 525,110.59 525.10,110.60 525.19,110.60 525.31,110.52 525.50,110.46 525.62,110.47 525.93,110.32 526.10,110.25 526.24,110.26 526.54,110.25 526.85,110.32 527.10,110.33 527.16,110.40 527.47,110.52 527.78,110.65 528.09,110.66 528.10,110.66 528.40,110.81 528.71,110.86 529.02,110.88 529.10,110.87 529.33,110.94 529.64,110.95 529.95,110.89 530.10,110.87 530.25,110.98 530.56,110.94 530.87,110.92 531.10,110.96 531.18,110.90 531.48,111 531.49,110.92 531.80,110.98 532.10,110.93 532.11,110.93 532.12,110.89 532.42,110.93 532.44,110.97 532.76,111 533.08,110.92 533.10,110.91 533.39,110.95 533.71,110.97 534.03,110.95 534.10,110.98 534.35,110.90 534.67,110.92 534.99,110.98 535.10,110.99 535.31,110.97 535.63,110.91 535.95,110.87 536.10,110.84 536.26,110.84 536.58,110.81 536.90,110.77 537.10,110.69 537.22,110.66 537.54,110.71 537.86,110.58 538.10,110.66 538.18,110.68 538.50,110.73 538.82,110.73 539.10,110.79 539.14,110.76 539.45,110.90 539.77,110.90 539.90,110.87" fill="none" stroke="#48bb7e" stroke-width="1.05" stroke-linejoin="round"/>
<polyline points="295.10,138.02 296.10,137.98 297.10,137.94 298.10,138.03 299.10,137.97 300.10,137.94 301.10,137.99 302.10,137.97 303.10,138.02 304.10,137.95 305.10,138.02 306.10,138.05 307.10,137.94 308.10,137.96 309.10,137.93 310.10,138.03 311.10,137.98 312.10,137.93 313.10,137.99 314.10,137.96 315.10,137.95 316.10,137.93 317.10,137.92 318.10,138.02 319.10,137.99 320.10,137.94 321.10,137.92 322.10,137.91 322.73,137.87 322.88,137.89 323.03,137.88 323.10,137.92 323.18,137.92 323.33,137.88 323.48,137.91 323.63,137.87 323.78,137.92 323.93,137.87 324.08,137.88 324.10,137.83 324.23,137.81 324.38,137.88 324.53,137.77 324.68,137.70 324.83,137.61 324.98,137.59 325.10,137.48 325.13,137.51 325.28,137.44 325.43,137.37 325.48,137.28 325.58,137.30 325.73,137.42 325.88,137.46 326.03,137.55 326.10,137.59 326.18,137.57 326.33,137.61 326.48,137.59 326.63,137.69 326.78,137.68 326.93,137.59 327.08,137.55 327.10,137.58 327.23,137.50 327.33,137.46 327.38,137.43 327.48,137.51 327.53,137.48 327.63,137.44 327.68,137.40 327.78,137.31 327.83,137.24 327.93,137.18 327.98,137.15 328.08,137.18 328.10,137.16 328.13,137.08 328.23,136.94 328.38,136.77 328.53,136.53 328.68,136.20 328.83,135.70 328.98,134.78 329.10,133.78 329.13,133.46 329.28,131.38 329.43,128.47 329.58,124.73 329.73,120.31 329.88,116.27 330.03,113.79 330.09,113.49 330.10,113.55 330.18,114 330.33,116.80 330.48,121.09 330.63,125.33 330.78,129.01 330.93,131.74 331.08,133.77 331.10,133.92 331.23,134.98 331.38,135.82 331.53,136.27 331.68,136.58 331.83,136.90 331.98,137 332.10,137.10 332.13,137.11 332.28,137.22 332.43,137.30 332.58,137.45 332.73,137.44 333.10,137.60 334.10,137.78 335.10,137.82 336.10,137.91 337.10,137.87 338.10,137.91 339.10,137.89 340.10,137.99 341.10,137.87 342.10,137.88 343.10,137.93 343.93,137.82 344.08,137.82 344.10,137.83 344.23,137.82 344.38,137.70 344.54,137.73 344.69,137.76 344.84,137.72 345,137.59 345.10,137.54 345.15,137.56 345.30,137.44 345.45,137.39 345.61,137.20 345.76,136.83 345.91,136.48 346.06,135.80 346.10,135.61 346.22,134.88 346.37,133.82 346.52,132.54 346.68,131.17 346.83,130.09 346.98,129.62 347.10,129.92 347.13,130.05 347.29,131.18 347.44,132.52 347.59,133.74 347.75,134.92 347.90,135.89 348.05,136.40 348.10,136.60 348.20,136.87 348.36,137.19 348.51,137.37 348.66,137.48 348.82,137.57 348.97,137.63 349.10,137.64 349.12,137.63 349.27,137.66 349.43,137.77 349.58,137.81 349.73,137.77 349.88,137.79 350.04,137.86 350.10,137.83 351.10,137.86 352.10,137.96 353.10,138 354.10,137.93 355.10,137.95 355.16,137.90 355.32,137.95 355.49,137.99 355.65,137.90 355.81,137.90 355.97,137.90 356.10,137.95 356.14,137.92 356.30,137.99 356.46,137.98 356.63,137.94 356.79,137.98 356.95,137.89 357.10,137.92 357.11,137.92 357.28,137.84 357.44,137.86 357.60,137.81 357.77,137.71 357.93,137.67 358.09,137.54 358.10,137.62 358.25,137.51 358.42,137.53 358.58,137.49 358.74,137.64 358.90,137.67 359.07,137.72 359.10,137.75 359.23,137.84 359.39,137.81 359.56,137.84 359.72,137.97 359.88,137.93 360.04,137.96 360.10,137.90 360.21,137.97 360.37,137.91 360.53,137.94 360.69,138.01 360.86,137.91 361.02,138.01 361.10,137.95 361.18,137.93 361.35,137.91 361.51,138.03 362.10,137.99 363.10,137.98 364.10,138.02 365.10,137.93 366.10,137.93 367.10,138.05 368.10,138 369.10,137.99 370.10,137.96 371.10,138.03 372.10,137.94 373.10,137.99 374.10,137.99 375.10,137.95 376.10,138.02 377.10,137.98 378.10,138.03 379.10,137.94 380.10,138.02 381.10,138.02 381.83,137.95 382.02,137.99 382.10,137.91 382.20,138.01 382.39,137.95 382.58,137.98 382.76,138.01 382.95,137.96 383.10,138.01 383.13,137.90 383.32,137.94 383.51,137.99 383.69,137.94 383.88,137.90 384.07,137.87 384.10,137.94 384.25,137.88 384.44,137.77 384.63,137.72 384.81,137.69 385,137.62 385.10,137.55 385.18,137.45 385.37,137.45 385.56,137.40 385.74,137.46 385.93,137.49 386.10,137.51 386.12,137.57 386.30,137.70 386.49,137.81 386.68,137.76 386.86,137.88 387.05,137.89 387.10,137.93 387.24,137.90 387.42,137.88 387.61,137.93 387.79,137.96 387.98,137.90 388.10,138 388.17,137.95 388.35,137.91 388.54,137.97 388.73,137.98 388.91,137.91 389.10,137.94 390.10,137.93 391.10,137.96 392.10,137.98 393.10,137.93 394.10,137.87 395.10,137.91 396.10,137.86 396.83,137.75 397.03,137.81 397.10,137.81 397.23,137.76 397.43,137.68 397.63,137.69 397.83,137.68 398.03,137.64 398.10,137.60 398.23,137.50 398.43,137.52 398.62,137.37 398.82,137.18 399.02,136.97 399.10,136.90 399.22,136.62 399.42,136.19 399.62,135.46 399.82,134.37 400.02,133.01 400.10,132.32 400.22,131.43 400.42,129.81 400.62,128.48 400.82,127.95 401.02,128.40 401.10,128.92 401.22,129.76 401.42,131.40 401.62,133 401.82,134.39 402.02,135.37 402.10,135.76 402.22,136.17 402.42,136.65 402.62,137.05 402.82,137.27 403.02,137.43 403.10,137.37 403.22,137.46 403.42,137.56 403.62,137.67 403.82,137.65 404.02,137.74 404.10,137.67 404.22,137.67 404.42,137.76 404.62,137.79 404.81,137.83 405.10,137.77 405.38,137.87 405.59,137.85 405.80,137.90 406.01,137.89 406.10,137.81 406.21,137.87 406.42,137.92 406.63,137.92 406.84,137.94 407.04,137.88 407.10,137.86 407.25,137.92 407.46,137.93 407.66,137.91 407.87,137.81 408.08,137.80 408.10,137.84 408.29,137.85 408.49,137.79 408.70,137.75 408.91,137.64 409.10,137.60 409.11,137.53 409.32,137.46 409.53,137.49 409.74,137.50 409.94,137.58 410.10,137.63 410.15,137.58 410.36,137.76 410.57,137.83 410.77,137.78 410.98,137.83 411.10,137.85 411.19,137.95 411.39,137.91 411.60,137.97 411.81,137.92 412.02,137.88 412.10,137.94 412.22,137.89 412.43,137.96 412.64,137.94 412.85,137.98 413.05,138 413.10,138.01 413.26,138.01 413.47,137.98 413.67,137.91 414.10,137.94 415.10,137.95 416.10,138.01 417.10,138.01 418.10,137.94 419.10,137.93 420.10,138.02 421.10,137.91 422.10,137.95 423.10,137.99 424.10,137.89 425.10,137.93 426.10,137.91 427.10,137.90 428.10,137.92 429.10,137.81 429.56,137.79 429.79,137.85 430.02,137.79 430.10,137.76 430.25,137.73 430.48,137.69 430.71,137.65 430.94,137.68 431.10,137.68 431.16,137.63 431.39,137.59 431.62,137.41 431.85,137.37 432.08,137.16 432.10,137.14 432.31,136.89 432.54,136.42 432.77,135.79 432.99,134.93 433.10,134.30 433.22,133.66 433.45,132.38 433.68,130.97 433.91,129.83 434.10,129.45 434.14,129.39 434.37,129.90 434.60,130.92 434.82,132.27 435.05,133.70 435.10,133.98 435.28,134.80 435.51,135.70 435.74,136.46 435.97,136.90 436.10,137.05 436.20,137.13 436.42,137.29 436.65,137.43 436.88,137.51 437.10,137.56 437.11,137.55 437.34,137.70 437.57,137.68 437.80,137.77 438.03,137.75 438.10,137.71 438.25,137.82 438.48,137.82 438.71,137.81 439.10,137.86 439.75,137.84 439.99,137.86 440.10,137.87 440.23,137.89 440.47,137.85 440.71,137.86 440.94,137.82 441.10,137.86 441.18,137.75 441.42,137.76 441.66,137.80 441.89,137.74 442.10,137.76 442.13,137.67 442.37,137.61 442.61,137.51 442.84,137.45 443.08,137.20 443.10,137.20 443.32,136.88 443.56,136.49 443.80,135.96 444.03,135.56 444.10,135.38 444.27,135.13 444.51,135.02 444.75,135.23 444.98,135.53 445.10,135.84 445.22,135.97 445.46,136.55 445.70,136.95 445.93,137.23 446.10,137.35 446.17,137.39 446.41,137.64 446.65,137.69 446.89,137.73 447.10,137.81 447.12,137.73 447.22,137.82 447.36,137.84 447.47,137.78 447.60,137.79 447.71,137.80 447.84,137.89 447.95,137.81 448.07,137.88 448.10,137.90 448.20,137.89 448.31,137.84 448.44,137.86 448.55,137.85 448.69,137.89 448.79,137.89 448.93,137.85 449.02,137.94 449.10,137.92 449.18,137.87 449.26,137.85 449.42,137.88 449.66,137.88 449.91,137.93 450.10,137.87 450.15,137.83 450.40,137.89 450.64,137.80 450.89,137.72 451.10,137.71 451.13,137.73 451.37,137.60 451.62,137.62 451.86,137.45 452.10,137.45 452.11,137.53 452.35,137.50 452.60,137.59 452.84,137.63 453.09,137.77 453.10,137.77 453.33,137.74 453.57,137.89 453.82,137.90 454.06,137.94 454.10,137.89 454.31,137.93 454.55,137.92 454.80,137.91 455.04,137.99 455.10,137.94 455.28,137.91 455.53,137.98 455.77,137.98 456.02,137.99 456.10,137.98 456.26,137.95 456.51,137.92 456.75,137.92 456.99,138 457.10,137.93 458.10,137.95 459.10,138 460.10,137.97 461.10,138.01 462.10,137.94 463.10,137.93 464.10,137.96 465.10,137.98 466.10,137.97 467.10,138.02 468.10,138.02 469.10,137.99 470.10,138.02 471.10,137.96 472.10,137.97 473.10,138 474.10,137.95 475.10,138.01 476.10,137.94 477.10,138.02 478.10,138 478.28,137.95 478.55,137.99 478.82,137.90 479.09,137.96 479.10,137.88 479.36,138 479.64,137.91 479.91,137.98 480.10,137.90 480.18,137.89 480.45,137.87 480.72,137.85 480.99,137.86 481.10,137.84 481.27,137.83 481.54,137.82 481.81,137.70 482.08,137.59 482.10,137.59 482.35,137.38 482.63,137.15 482.90,136.82 483.10,136.63 483.17,136.57 483.44,136.39 483.71,136.21 483.98,136.40 484.10,136.47 484.26,136.55 484.53,136.88 484.80,137.07 485.07,137.41 485.10,137.34 485.22,137.43 485.34,137.48 485.50,137.59 485.62,137.70 485.77,137.72 485.89,137.78 486.05,137.73 486.10,137.78 486.16,137.81 486.33,137.80 486.43,137.79 486.61,137.84 486.70,137.84 486.89,137.92 486.97,137.89 487.10,137.91 487.16,137.91 487.25,137.87 487.44,137.87 487.52,137.87 487.72,137.88 487.79,137.88 488,137.95 488.06,137.96 488.10,137.85 488.28,137.90 488.33,137.91 488.55,137.84 488.61,137.88 488.83,137.92 488.88,137.85 489.10,137.91 489.11,137.86 489.15,137.87 489.39,137.79 489.67,137.72 489.94,137.72 490.10,137.65 490.22,137.65 490.50,137.67 490.78,137.61 491.06,137.59 491.10,137.66 491.33,137.72 491.61,137.72 491.89,137.80 492.10,137.81 492.17,137.79 492.45,137.84 492.72,137.95 493,137.94 493.10,137.91 493.28,137.95 493.56,137.89 493.84,137.96 494.10,137.91 494.11,137.94 494.39,137.94 494.67,137.91 494.95,137.97 495.10,137.90 495.23,137.99 495.50,137.96 495.78,137.99 496.06,137.90 496.10,137.93 496.34,137.93 496.66,137.94 496.95,137.94 497.10,137.95 497.23,137.94 497.52,138 497.81,137.94 498.10,137.93 498.39,137.95 498.67,137.90 498.96,137.91 499.10,137.96 499.25,137.97 499.54,137.92 499.83,137.87 500.10,137.90 500.12,137.95 500.40,137.85 500.69,137.84 500.98,137.87 501.10,137.85 501.27,137.76 501.56,137.68 501.84,137.60 502.10,137.55 502.13,137.55 502.42,137.53 502.71,137.58 503,137.59 503.10,137.63 503.28,137.69 503.46,137.77 503.57,137.75 503.75,137.72 503.86,137.76 504.05,137.80 504.10,137.80 504.15,137.78 504.34,137.87 504.44,137.82 504.64,137.88 504.73,137.85 504.93,137.92 505.01,137.84 505.10,137.82 505.22,137.85 505.30,137.84 505.52,137.83 505.59,137.87 505.72,137.91 505.81,137.87 505.88,137.82 506.02,137.85 506.10,137.85 506.11,137.80 506.17,137.86 506.31,137.78 506.40,137.76 506.45,137.86 506.61,137.80 506.70,137.80 506.74,137.82 506.90,137.74 506.99,137.77 507.03,137.77 507.10,137.75 507.20,137.71 507.28,137.70 507.32,137.72 507.50,137.65 507.58,137.59 507.61,137.58 507.79,137.58 507.87,137.53 507.89,137.51 508.09,137.38 508.10,137.37 508.17,137.37 508.18,137.41 508.38,137.30 508.46,137.28 508.68,137.16 508.75,137.04 508.98,136.92 509.05,136.90 509.10,136.88 509.27,136.76 509.34,136.67 509.57,136.52 509.64,136.51 509.86,136.29 509.93,136.27 510.10,136.15 510.16,136.09 510.23,135.89 510.46,135.56 510.52,135.52 510.75,135.16 510.81,134.97 511.05,134.51 511.10,134.49 511.11,134.47 511.35,134.06 511.40,134.07 511.64,133.90 511.70,133.98 511.94,134.20 511.99,134.22 512.10,134.47 512.23,134.65 512.28,134.73 512.53,135.37 512.58,135.44 512.83,136.02 512.87,136 513.10,136.42 513.12,136.43 513.17,136.52 513.42,136.96 513.46,136.92 513.71,137.15 513.76,137.23 514.01,137.43 514.05,137.45 514.10,137.42 514.31,137.57 514.34,137.59 514.60,137.56 514.64,137.63 514.72,137.62 514.90,137.71 514.93,137.67 515.03,137.69 515.10,137.64 515.20,137.74 515.23,137.65 515.33,137.75 515.49,137.68 515.63,137.73 515.79,137.78 515.94,137.70 516.08,137.76 516.10,137.68 516.24,137.70 516.38,137.71 516.55,137.70 516.68,137.73 516.85,137.78 516.97,137.77 517.10,137.76 517.15,137.74 517.27,137.66 517.46,137.66 517.56,137.67 517.76,137.65 518.07,137.53 518.10,137.57 518.37,137.40 518.67,137.25 518.98,137.02 519.10,136.81 519.28,136.65 519.59,136.08 519.89,135.52 520.10,135.16 520.20,134.92 520.50,134.42 520.80,134.26 521.10,134.50 521.11,134.49 521.41,134.95 521.45,134.97 521.72,135.60 521.76,135.57 522.02,136.07 522.07,136.17 522.10,136.21 522.32,136.66 522.38,136.69 522.63,136.95 522.69,137.02 522.93,137.23 523,137.32 523.10,137.42 523.24,137.51 523.31,137.50 523.54,137.60 523.62,137.56 523.84,137.63 523.93,137.70 524.10,137.69 524.15,137.72 524.24,137.77 524.45,137.78 524.55,137.69 524.76,137.75 524.86,137.73 525.06,137.78 525.10,137.74 525.17,137.80 525.37,137.75 525.48,137.78 525.67,137.66 525.79,137.64 525.97,137.65 526.10,137.62 526.28,137.53 526.41,137.52 526.58,137.50 526.72,137.36 526.89,137.41 527.03,137.30 527.10,137.30 527.34,137.23 527.65,137.18 527.96,137.24 528.10,137.30 528.27,137.33 528.58,137.41 528.89,137.56 529.10,137.62 529.20,137.63 529.51,137.73 529.82,137.78 530.10,137.82 530.13,137.80 530.44,137.87 530.75,137.96 531.06,137.92 531.10,137.96 531.37,137.91 531.68,137.89 531.99,137.90 532.10,137.99 532.30,138 532.61,137.90 532.63,137.90 532.92,137.97 532.95,137.93 533.10,137.89 533.23,137.91 533.27,138.01 533.54,137.95 533.59,137.89 533.91,137.96 534.10,137.96 534.23,137.92 534.55,137.96 534.87,137.96 535.10,137.94 535.19,137.92 535.51,137.96 535.83,137.93 536.10,137.97 536.15,137.96 536.47,137.98 536.79,137.91 537.10,137.92 537.11,137.88 537.43,137.80 537.75,137.76 538.07,137.78 538.10,137.72 538.39,137.70 538.71,137.63 539.03,137.62 539.10,137.63 539.35,137.69 539.67,137.66 539.90,137.71" fill="none" stroke="#bb88ee" stroke-width="1.05" stroke-linejoin="round"/>
<polyline points="295.10,163.40 296.10,163.36 297.10,163.36 298.10,163.34 299.10,163.43 300.10,163.44 301.10,163.40 302.10,163.37 303.10,163.36 304.10,163.36 305.10,163.39 306.10,163.40 307.10,163.38 308.10,163.33 309.10,163.35 310.10,163.42 311.10,163.43 312.10,163.41 313.10,163.38 314.10,163.34 315.10,163.37 316.10,163.31 317.10,163.32 318.10,163.34 319.10,163.36 320.10,163.35 321.10,163.30 321.88,163.25 322.08,163.29 322.10,163.24 322.28,163.31 322.48,163.24 322.68,163.25 322.88,163.29 323.08,163.21 323.10,163.27 323.28,163.29 323.48,163.25 323.68,163.17 323.88,163.22 324.08,163.19 324.10,163.18 324.28,163.11 324.48,163.13 324.68,163.02 324.88,163.01 325.08,162.94 325.10,162.92 325.28,162.80 325.48,162.77 325.68,162.68 325.88,162.60 326.08,162.58 326.10,162.56 326.28,162.65 326.48,162.65 326.68,162.64 326.88,162.76 327.08,162.65 327.10,162.69 327.28,162.62 327.29,162.71 327.48,162.64 327.49,162.62 327.68,162.52 327.69,162.48 327.88,162.37 327.89,162.39 328.08,162.21 328.09,162.20 328.10,162.21 328.28,161.97 328.29,161.97 328.48,161.71 328.49,161.67 328.68,161.19 328.70,161.18 328.88,160.53 328.90,160.48 329.08,159.43 329.10,159.29 329.28,157.80 329.30,157.63 329.48,155.54 329.50,155.17 329.68,152.58 329.70,152.22 329.90,148.76 330.10,145.05 330.11,144.88 330.31,142.09 330.51,141.03 330.71,142.16 330.91,144.95 331.10,148.44 331.11,148.61 331.31,152.09 331.52,155.23 331.72,157.55 331.92,159.29 332.10,160.29 332.12,160.44 332.32,161.19 332.52,161.66 332.72,161.98 332.93,162.26 333.10,162.38 333.13,162.36 333.33,162.53 333.53,162.66 333.73,162.68 333.93,162.77 334.10,162.87 334.13,162.85 334.33,162.94 335.10,163.04 336.10,163.13 337.10,163.25 338.10,163.23 339.10,163.31 340.10,163.22 341.10,163.30 342.10,163.27 343.01,163.25 343.10,163.17 343.23,163.18 343.45,163.18 343.68,163.08 343.90,163.17 344.10,163.06 344.12,163.05 344.35,163.02 344.57,163 344.79,162.89 345.01,162.90 345.10,162.82 345.24,162.71 345.46,162.50 345.68,162.32 345.91,161.80 346.10,161.27 346.13,161.26 346.35,160.33 346.58,159.21 346.80,157.85 347.02,156.58 347.10,156.12 347.24,155.56 347.47,155.11 347.69,155.53 347.91,156.51 348.10,157.66 348.14,157.91 348.36,159.25 348.58,160.32 348.80,161.22 349.03,161.83 349.10,161.98 349.25,162.24 349.47,162.56 349.70,162.81 349.92,162.81 350.10,162.95 350.14,162.99 350.36,162.96 350.59,163.02 350.81,163.04 351.03,163.08 351.10,163.19 351.26,163.12 351.48,163.21 351.70,163.18 352.10,163.20 353.10,163.26 354.10,163.33 354.20,163.30 354.44,163.25 354.68,163.28 354.91,163.25 355.10,163.37 355.15,163.37 355.39,163.28 355.63,163.34 355.86,163.35 356.10,163.29 356.34,163.32 356.58,163.34 356.81,163.36 357.05,163.33 357.10,163.33 357.29,163.28 357.53,163.23 357.76,163.25 358,163.18 358.10,163.09 358.24,163.09 358.47,163.04 358.71,162.99 358.95,162.92 359.10,162.98 359.19,162.95 359.42,163.04 359.66,163.05 359.90,163.09 360.10,163.21 360.14,163.23 360.37,163.25 360.61,163.32 360.85,163.33 361.09,163.32 361.10,163.32 361.32,163.38 361.56,163.39 361.80,163.32 362.04,163.31 362.10,163.36 362.27,163.41 362.51,163.38 362.75,163.35 362.99,163.36 363.10,163.40 363.22,163.41 363.46,163.36 364.10,163.34 365.10,163.42 366.10,163.41 367.10,163.32 368.10,163.33 369.10,163.35 370.10,163.38 371.10,163.38 372.10,163.41 373.10,163.35 374.10,163.41 375.10,163.40 376.10,163.37 377.10,163.41 378.10,163.37 379.10,163.38 380.10,163.32 380.77,163.39 381.04,163.40 381.10,163.42 381.32,163.35 381.59,163.36 381.86,163.41 382.10,163.36 382.13,163.34 382.40,163.34 382.68,163.40 382.95,163.31 383.10,163.32 383.22,163.36 383.49,163.35 383.76,163.32 384.03,163.34 384.10,163.31 384.31,163.25 384.58,163.27 384.85,163.12 385.10,163.11 385.12,163.06 385.39,163.05 385.67,162.87 385.94,162.82 386.10,162.77 386.21,162.76 386.48,162.81 386.75,162.90 387.03,163.03 387.10,162.98 387.30,163.06 387.57,163.14 387.84,163.25 388.10,163.26 388.11,163.22 388.39,163.32 388.66,163.24 388.93,163.30 389.10,163.36 389.20,163.35 389.47,163.25 389.75,163.35 390.02,163.29 390.10,163.33 390.29,163.28 390.56,163.34 390.83,163.27 391.10,163.36 391.11,163.35 391.38,163.36 391.65,163.28 392.10,163.35 393.10,163.24 394.10,163.21 395.10,163.24 395.72,163.18 396.01,163.12 396.10,163.12 396.30,163.18 396.59,163.07 396.88,163.06 397.10,163.07 397.17,163.05 397.47,162.96 397.76,162.92 398.05,162.89 398.10,162.79 398.34,162.72 398.63,162.60 398.92,162.34 399.10,162.21 399.21,162 399.50,161.52 399.80,160.65 400.09,159.66 400.10,159.57 400.38,158.20 400.67,156.65 400.96,154.94 401.10,154.25 401.25,153.60 401.54,153.06 401.84,153.65 402.10,154.80 402.13,154.96 402.42,156.59 402.71,158.21 403,159.64 403.10,160.06 403.29,160.73 403.58,161.47 403.87,162.01 404.10,162.31 404.17,162.40 404.24,162.41 404.46,162.60 404.55,162.69 404.75,162.75 404.85,162.73 405.04,162.82 405.10,162.93 405.15,162.85 405.33,162.97 405.45,162.97 405.62,163.04 405.76,163.02 405.91,163.07 406.06,163.04 406.10,163.03 406.21,163.11 406.36,163.11 406.50,163.03 406.66,163.16 406.79,163.10 406.97,163.11 407.08,163.13 407.10,163.14 407.27,163.12 407.57,163.15 407.87,163.18 408.10,163.10 408.18,163.17 408.48,163.11 408.78,163.07 409.08,162.99 409.10,163.03 409.39,162.97 409.69,162.92 409.99,162.80 410.10,162.85 410.29,162.79 410.60,162.90 410.90,162.97 411.10,163.02 411.20,163.07 411.50,163.12 411.81,163.13 412.10,163.23 412.11,163.22 412.41,163.23 412.71,163.28 413.02,163.33 413.10,163.35 413.32,163.29 413.62,163.27 413.92,163.34 414.10,163.31 414.22,163.35 414.53,163.32 414.83,163.31 415.10,163.34 415.13,163.28 415.43,163.27 415.74,163.38 416.04,163.31 416.10,163.36 417.10,163.29 418.10,163.29 419.10,163.30 420.10,163.35 421.10,163.28 422.10,163.38 423.10,163.37 424.10,163.36 425.10,163.30 426.10,163.31 427.10,163.27 428.10,163.22 428.35,163.17 428.68,163.16 429.02,163.20 429.10,163.15 429.35,163.15 429.68,163.11 430.02,163.16 430.10,163.09 430.35,163.11 430.68,163.09 431.02,162.94 431.10,162.99 431.35,162.95 431.69,162.72 432.02,162.61 432.10,162.56 432.35,162.33 432.69,161.99 433.02,161.38 433.10,161.20 433.35,160.53 433.69,159.49 434.02,158.26 434.10,157.96 434.36,156.89 434.69,155.95 435.02,155.58 435.10,155.59 435.36,155.90 435.69,156.91 436.02,158.20 436.10,158.55 436.36,159.42 436.69,160.46 437.03,161.35 437.10,161.43 437.36,161.88 437.69,162.37 438.03,162.58 438.10,162.59 438.36,162.78 438.51,162.78 438.69,162.80 438.86,162.86 439.03,162.93 439.10,162.98 439.20,162.98 439.36,162.93 439.55,163.02 439.70,163.01 439.90,162.99 440.03,163.05 440.10,163.03 440.24,163.08 440.36,163.12 440.59,163.01 440.70,163.02 440.94,163.08 441.03,163.10 441.10,163.06 441.28,163.03 441.36,163.08 441.63,163.10 441.70,163.05 441.98,163.07 442.10,163.05 442.32,162.95 442.67,162.96 443.02,162.74 443.10,162.78 443.37,162.57 443.71,162.35 444.06,161.97 444.10,161.89 444.41,161.58 444.75,161.11 445.10,160.82 445.45,160.61 445.79,160.80 445.95,160.90 446.10,161.08 446.14,161.11 446.31,161.27 446.49,161.62 446.67,161.76 446.83,161.94 447.02,162.16 447.10,162.31 447.18,162.40 447.38,162.58 447.53,162.66 447.74,162.77 447.88,162.82 448.09,162.89 448.10,162.94 448.22,163 448.45,163.03 448.57,163.05 448.81,163.10 448.92,163.18 449.10,163.15 449.16,163.14 449.26,163.22 449.52,163.12 449.61,163.21 449.88,163.19 449.96,163.21 450.10,163.16 450.23,163.19 450.30,163.24 450.59,163.25 450.65,163.18 450.95,163.18 451,163.14 451.10,163.10 451.30,163.14 451.35,163.06 451.66,163.06 451.69,163.07 452.02,163.01 452.04,162.97 452.10,162.96 452.37,162.97 452.39,162.98 452.73,162.92 453.09,162.89 453.10,162.90 453.44,162.86 453.80,162.92 454.10,163.01 454.16,163 454.51,163.12 454.87,163.24 455.10,163.21 455.23,163.28 455.58,163.30 455.94,163.24 456.10,163.25 456.30,163.33 456.65,163.33 457.01,163.37 457.10,163.37 457.37,163.29 457.72,163.30 458.08,163.28 458.10,163.35 458.44,163.33 458.79,163.41 459.10,163.37 459.15,163.33 459.51,163.38 459.86,163.39 460.10,163.41 461.10,163.36 462.10,163.37 463.10,163.36 464.10,163.39 465.10,163.36 466.10,163.36 467.10,163.35 468.10,163.34 469.10,163.37 470.10,163.37 471.10,163.42 472.10,163.34 473.10,163.37 474.10,163.33 475.10,163.33 476.10,163.35 476.93,163.41 477.10,163.35 477.33,163.29 477.73,163.29 478.10,163.37 478.12,163.30 478.52,163.28 478.92,163.29 479.10,163.28 479.32,163.35 479.71,163.32 480.10,163.35 480.11,163.29 480.51,163.29 480.90,163.29 481.10,163.22 481.30,163.28 481.70,163.13 482.09,163.10 482.10,163.12 482.49,163 482.89,162.85 483.10,162.72 483.28,162.58 483.68,162.38 483.86,162.17 484.08,162.04 484.10,162.03 484.27,162.04 484.47,161.88 484.67,161.88 484.87,161.81 485.08,161.83 485.10,161.85 485.27,161.84 485.49,162.02 485.67,162.06 485.89,162.19 486.06,162.30 486.10,162.30 486.30,162.50 486.46,162.58 486.70,162.75 486.86,162.77 487.10,162.95 487.11,162.91 487.25,162.90 487.51,163.03 487.65,163.11 487.92,163.12 488.05,163.18 488.10,163.16 488.33,163.16 488.44,163.16 488.73,163.16 488.84,163.23 489.10,163.20 489.14,163.17 489.24,163.15 489.54,163.19 489.63,163.19 489.95,163.22 490.03,163.12 490.10,163.12 490.36,163.13 490.43,163.13 490.76,163.12 490.82,163.04 491.10,163.04 491.17,163.08 491.22,163.02 491.57,162.96 491.62,162.95 491.98,163.02 492.01,163.04 492.10,162.95 492.39,163.04 492.41,163.05 492.79,163 492.81,163.01 493.10,163.11 493.20,163.09 493.60,163.23 494.01,163.24 494.10,163.25 494.41,163.24 494.82,163.33 495.10,163.24 495.23,163.27 495.28,163.31 495.63,163.30 495.70,163.36 496.04,163.32 496.10,163.29 496.12,163.31 496.44,163.31 496.54,163.34 496.85,163.27 496.96,163.30 497.10,163.32 497.26,163.29 497.39,163.36 497.66,163.37 497.81,163.29 498.07,163.28 498.10,163.29 498.23,163.30 498.47,163.31 498.65,163.33 498.88,163.36 499.07,163.27 499.10,163.30 499.28,163.32 499.49,163.30 499.69,163.28 499.91,163.29 500.10,163.32 500.33,163.30 500.75,163.25 501.10,163.22 501.17,163.20 501.59,163.17 502.01,163.11 502.07,163.10 502.10,163.18 502.43,163.07 502.50,163.13 502.85,163.03 502.93,163.07 503.10,163 503.28,163.01 503.36,163.02 503.70,162.94 503.79,162.98 504.10,162.92 504.12,163.01 504.22,162.91 504.33,163.02 504.54,162.98 504.65,163.04 504.76,163 504.96,163.04 505.08,163.07 505.10,163.04 505.19,163.05 505.38,163.04 505.51,163.11 505.63,163.14 505.80,163.09 505.94,163.17 506.06,163.15 506.10,163.12 506.22,163.11 506.37,163.18 506.49,163.10 506.64,163.07 506.80,163.08 506.92,163.16 507.06,163.05 507.10,163.08 507.23,163.08 507.36,163.08 507.48,163.11 507.66,163.01 507.79,163.03 507.90,163.01 508.09,162.94 508.10,162.91 508.22,162.93 508.32,162.96 508.52,162.84 508.65,162.77 508.74,162.75 508.95,162.71 509.09,162.60 509.10,162.66 509.16,162.60 509.38,162.46 509.52,162.39 509.59,162.40 509.80,162.17 509.95,162.07 510.01,162.02 510.10,162.04 510.23,161.83 510.38,161.78 510.43,161.75 510.66,161.49 510.82,161.34 510.85,161.31 511.09,161.11 511.10,161.05 511.25,160.97 511.27,160.90 511.52,160.62 511.68,160.47 511.69,160.51 511.95,160.12 512.10,159.99 512.11,160.02 512.38,159.73 512.55,159.68 512.81,159.47 512.98,159.56 513.10,159.50 513.24,159.62 513.32,159.64 513.41,159.77 513.67,160.03 513.76,160.19 513.84,160.27 514.10,160.56 514.21,160.72 514.28,160.86 514.53,161.17 514.65,161.42 514.71,161.47 514.96,161.72 515.10,161.88 515.14,161.90 515.39,162.13 515.54,162.23 515.57,162.25 515.82,162.45 515.98,162.60 516.01,162.56 516.10,162.58 516.25,162.73 516.43,162.68 516.44,162.74 516.68,162.84 516.87,162.84 517.10,162.84 517.11,162.82 517.30,162.91 517.32,162.86 517.54,162.84 517.74,162.85 517.76,162.92 517.97,162.91 518.10,162.89 518.17,162.83 518.21,162.83 518.40,162.86 518.60,162.80 518.65,162.72 518.82,162.71 519.03,162.68 519.09,162.59 519.10,162.64 519.46,162.37 519.54,162.34 519.90,162.07 519.98,162 520.04,162.04 520.10,161.99 520.33,161.76 520.43,161.55 520.49,161.56 520.76,161.22 520.87,161.04 520.94,161.03 521.10,160.78 521.19,160.62 521.31,160.54 521.40,160.40 521.76,160.10 521.85,159.99 522.10,159.90 522.20,159.89 522.30,159.90 522.65,160.18 522.76,160.22 523.09,160.50 523.10,160.50 523.21,160.69 523.54,161.12 523.66,161.31 523.98,161.62 524.10,161.72 524.11,161.73 524.42,162.10 524.57,162.23 524.87,162.47 525.02,162.46 525.10,162.61 525.31,162.69 525.47,162.70 525.76,162.75 525.93,162.89 526.10,162.82 526.20,162.87 526.38,162.90 526.64,162.92 526.83,162.92 527.09,162.83 527.10,162.85 527.28,162.78 527.53,162.75 527.74,162.71 527.98,162.71 528.10,162.69 528.19,162.74 528.42,162.62 528.64,162.57 528.86,162.55 529.10,162.57 529.31,162.67 529.55,162.70 529.75,162.66 530,162.70 530.10,162.81 530.20,162.73 530.45,162.81 530.64,162.88 530.91,162.92 531.09,163 531.10,163.05 531.36,163.13 531.81,163.17 532.10,163.24 532.27,163.24 532.72,163.25 533.10,163.21 533.17,163.30 533.62,163.35 534.08,163.26 534.10,163.35 534.53,163.37 534.98,163.31 535.10,163.34 535.44,163.32 535.89,163.37 536.10,163.31 536.34,163.35 536.79,163.30 537.10,163.39 537.25,163.30 537.70,163.31 538.10,163.36 538.15,163.34 539.10,163.39 539.90,163.38" fill="none" stroke="#dcac38" stroke-width="1.05" stroke-linejoin="round"/>
<line x1="295.1" y1="185.6" x2="539.9" y2="185.6" stroke="#50d6d6" stroke-width="1.15"/>
<line x1="324.14" y1="185.6" x2="324.14" y2="184.56" stroke="#50d6d6" stroke-width="1.1"/>
<line x1="328.69" y1="185.6" x2="328.69" y2="168.30" stroke="#50d6d6" stroke-width="1.1"/>
<line x1="345.34" y1="185.6" x2="345.34" y2="180.24" stroke="#50d6d6" stroke-width="1.1"/>
<line x1="356.62" y1="185.6" x2="356.62" y2="184.22" stroke="#50d6d6" stroke-width="1.1"/>
<line x1="398.38" y1="185.6" x2="398.38" y2="179.20" stroke="#50d6d6" stroke-width="1.1"/>
<line x1="431.16" y1="185.6" x2="431.16" y2="179.72" stroke="#50d6d6" stroke-width="1.1"/>
<line x1="441.35" y1="185.6" x2="441.35" y2="183.87" stroke="#50d6d6" stroke-width="1.1"/>
<line x1="479.82" y1="185.6" x2="479.82" y2="184.22" stroke="#50d6d6" stroke-width="1.1"/>
<line x1="507.16" y1="185.6" x2="507.16" y2="183.35" stroke="#50d6d6" stroke-width="1.1"/>
<line x1="516.11" y1="185.6" x2="516.11" y2="183.52" stroke="#50d6d6" stroke-width="1.1"/>
<line x1="533.89" y1="185.6" x2="533.89" y2="184.73" stroke="#50d6d6" stroke-width="1.1"/>
<g transform="translate(488.03,25.80) scale(1.025,1)" fill="#111111" stroke="#111111" stroke-width="0.35"><text font-size="10">Pr<tspan font-size="6.6" dy="2.9">2</tspan><tspan dy="-2.9">Ir</tspan><tspan font-size="6.6" dy="2.9">2</tspan><tspan dy="-2.9">O</tspan><tspan font-size="6.6" dy="2.9">7</tspan></text></g>
<g transform="translate(489.16,52.60) scale(0.988,1)" fill="#f04848" stroke="#f04848" stroke-width="0.35"><text font-size="10">Nd<tspan font-size="6.6" dy="2.9">2</tspan><tspan dy="-2.9">Ir</tspan><tspan font-size="6.6" dy="2.9">2</tspan><tspan dy="-2.9">O</tspan><tspan font-size="6.6" dy="2.9">7</tspan></text></g>
<g transform="translate(488.86,76.20) scale(0.986,1)" fill="#3f7fe0" stroke="#3f7fe0" stroke-width="0.35"><text font-size="10">Eu<tspan font-size="6.6" dy="2.9">2</tspan><tspan dy="-2.9">Ir</tspan><tspan font-size="6.6" dy="2.9">2</tspan><tspan dy="-2.9">O</tspan><tspan font-size="6.6" dy="2.9">7</tspan></text></g>
<g transform="translate(488.61,104.00) scale(0.989,1)" fill="#3bb574" stroke="#3bb574" stroke-width="0.35"><text font-size="10">Gd<tspan font-size="6.6" dy="2.9">2</tspan><tspan dy="-2.9">Ir</tspan><tspan font-size="6.6" dy="2.9">2</tspan><tspan dy="-2.9">O</tspan><tspan font-size="6.6" dy="2.9">7</tspan></text></g>
<g transform="translate(488.85,131.70) scale(0.983,1)" fill="#b57ae6" stroke="#b57ae6" stroke-width="0.35"><text font-size="10">Tb<tspan font-size="6.6" dy="2.9">2</tspan><tspan dy="-2.9">Ir</tspan><tspan font-size="6.6" dy="2.9">2</tspan><tspan dy="-2.9">O</tspan><tspan font-size="6.6" dy="2.9">7</tspan></text></g>
<g transform="translate(489.16,157.50) scale(0.993,1)" fill="#d6a329" stroke="#d6a329" stroke-width="0.35"><text font-size="10">Ho<tspan font-size="6.6" dy="2.9">2</tspan><tspan dy="-2.9">Ir</tspan><tspan font-size="6.6" dy="2.9">2</tspan><tspan dy="-2.9">O</tspan><tspan font-size="6.6" dy="2.9">7</tspan></text></g>
<g transform="translate(463.65,181.00) scale(1.000,1)" fill="#3fd2d2" stroke="#3fd2d2" stroke-width="0.35"><text font-size="10">Nd<tspan font-size="6.6" dy="2.9">2</tspan><tspan dy="-2.9">Ir</tspan><tspan font-size="6.6" dy="2.9">2</tspan><tspan dy="-2.9">O</tspan><tspan font-size="6.6" dy="2.9">7</tspan><tspan dx="3.5" dy="-2.9">(Cubic)</tspan></text></g>
<rect x="294.5" y="8.5" width="246.0" height="181.0" fill="none" stroke="#808080" stroke-width="1.3"/>
<line x1="294.30" y1="189.5" x2="294.30" y2="192.5" stroke="#555" stroke-width="1"/>
<line x1="329.40" y1="189.5" x2="329.40" y2="191.5" stroke="#555" stroke-width="1"/>
<line x1="364.50" y1="189.5" x2="364.50" y2="192.5" stroke="#555" stroke-width="1"/>
<line x1="399.60" y1="189.5" x2="399.60" y2="191.5" stroke="#555" stroke-width="1"/>
<line x1="434.70" y1="189.5" x2="434.70" y2="192.5" stroke="#555" stroke-width="1"/>
<line x1="469.80" y1="189.5" x2="469.80" y2="191.5" stroke="#555" stroke-width="1"/>
<line x1="504.90" y1="189.5" x2="504.90" y2="192.5" stroke="#555" stroke-width="1"/>
<line x1="540.00" y1="189.5" x2="540.00" y2="191.5" stroke="#555" stroke-width="1"/>
<g transform="translate(29.80,25.40) scale(0.998,1)" fill="#000"><text font-size="19" font-weight="bold">(a)</text></g>
<g transform="translate(297.98,24.80) scale(1.016,1)" fill="#000"><text font-size="19" font-weight="bold">(b)</text></g>
<g transform="translate(21.88,204.00) scale(1.032,1)" fill="#222" stroke="#222" stroke-width="0.25"><text font-size="9.3">20</text></g>
<g transform="translate(89.35,204.00) scale(1.005,1)" fill="#222" stroke="#222" stroke-width="0.25"><text font-size="9.3">40</text></g>
<g transform="translate(156.51,204.00) scale(0.979,1)" fill="#222" stroke="#222" stroke-width="0.25"><text font-size="9.3">60</text></g>
<g transform="translate(224.09,204.00) scale(1.021,1)" fill="#222" stroke="#222" stroke-width="0.25"><text font-size="9.3">80</text></g>
<g transform="translate(290.41,204.00) scale(0.989,1)" fill="#222" stroke="#222" stroke-width="0.25"><text font-size="9.3">20</text></g>
<g transform="translate(360.95,204.00) scale(1.005,1)" fill="#222" stroke="#222" stroke-width="0.25"><text font-size="9.3">40</text></g>
<g transform="translate(431.40,204.00) scale(1.000,1)" fill="#222" stroke="#222" stroke-width="0.25"><text font-size="9.3">60</text></g>
<g transform="translate(501.48,204.00) scale(1.032,1)" fill="#222" stroke="#222" stroke-width="0.25"><text font-size="9.3">80</text></g>
<g transform="translate(110.05,217.40) scale(0.909,1)" fill="#222" stroke="#222" stroke-width="0.25"><text font-size="12">2</text></g>
<g transform="translate(121.96,217.40) scale(1.083,1)" fill="#222" stroke="#222" stroke-width="0.25"><text font-size="12" font-style="italic">θ</text></g>
<g transform="translate(134.18,216.40) scale(0.833,1)" fill="#222" stroke="#222" stroke-width="0.25"><text font-size="12">(</text></g>
<g transform="translate(140.16,217.40) scale(0.872,1)" fill="#222" stroke="#222" stroke-width="0.25"><text font-size="12">degree</text></g>
<g transform="translate(173.89,216.40) scale(0.833,1)" fill="#222" stroke="#222" stroke-width="0.25"><text font-size="12">)</text></g>
<g transform="translate(382.35,217.40) scale(0.909,1)" fill="#222" stroke="#222" stroke-width="0.25"><text font-size="12">2</text></g>
<g transform="translate(394.26,217.40) scale(1.083,1)" fill="#222" stroke="#222" stroke-width="0.25"><text font-size="12" font-style="italic">θ</text></g>
<g transform="translate(406.48,216.40) scale(0.833,1)" fill="#222" stroke="#222" stroke-width="0.25"><text font-size="12">(</text></g>
<g transform="translate(412.46,217.40) scale(0.872,1)" fill="#222" stroke="#222" stroke-width="0.25"><text font-size="12">degree</text></g>
<g transform="translate(446.19,216.40) scale(0.833,1)" fill="#222" stroke="#222" stroke-width="0.25"><text font-size="12">)</text></g>
<rect x="42.4" y="230.6" width="211.9" height="170.29999999999998" fill="none" stroke="#7a7a7a" stroke-width="1.4"/>
<line x1="42.40" y1="400.9" x2="42.40" y2="403.9" stroke="#444" stroke-width="1"/>
<g transform="translate(36.82,413.70) scale(0.906,1)" fill="#222" stroke="#222" stroke-width="0.25"><text font-size="8.6">100</text></g>
<line x1="57.54" y1="400.9" x2="57.54" y2="402.7" stroke="#444" stroke-width="1"/>
<line x1="72.67" y1="400.9" x2="72.67" y2="403.9" stroke="#444" stroke-width="1"/>
<g transform="translate(67.09,413.70) scale(0.906,1)" fill="#222" stroke="#222" stroke-width="0.25"><text font-size="8.6">102</text></g>
<line x1="87.81" y1="400.9" x2="87.81" y2="402.7" stroke="#444" stroke-width="1"/>
<line x1="102.94" y1="400.9" x2="102.94" y2="403.9" stroke="#444" stroke-width="1"/>
<g transform="translate(97.36,413.70) scale(0.906,1)" fill="#222" stroke="#222" stroke-width="0.25"><text font-size="8.6">104</text></g>
<line x1="118.08" y1="400.9" x2="118.08" y2="402.7" stroke="#444" stroke-width="1"/>
<line x1="133.21" y1="400.9" x2="133.21" y2="403.9" stroke="#444" stroke-width="1"/>
<g transform="translate(127.64,413.70) scale(0.906,1)" fill="#222" stroke="#222" stroke-width="0.25"><text font-size="8.6">106</text></g>
<line x1="148.35" y1="400.9" x2="148.35" y2="402.7" stroke="#444" stroke-width="1"/>
<line x1="163.49" y1="400.9" x2="163.49" y2="403.9" stroke="#444" stroke-width="1"/>
<g transform="translate(157.91,413.70) scale(0.906,1)" fill="#222" stroke="#222" stroke-width="0.25"><text font-size="8.6">108</text></g>
<line x1="178.62" y1="400.9" x2="178.62" y2="402.7" stroke="#444" stroke-width="1"/>
<line x1="193.76" y1="400.9" x2="193.76" y2="403.9" stroke="#444" stroke-width="1"/>
<g transform="translate(188.15,413.70) scale(0.941,1)" fill="#222" stroke="#222" stroke-width="0.25"><text font-size="8.6">110</text></g>
<line x1="208.89" y1="400.9" x2="208.89" y2="402.7" stroke="#444" stroke-width="1"/>
<line x1="224.03" y1="400.9" x2="224.03" y2="403.9" stroke="#444" stroke-width="1"/>
<g transform="translate(218.41,413.70) scale(0.960,1)" fill="#222" stroke="#222" stroke-width="0.25"><text font-size="8.6">112</text></g>
<line x1="239.16" y1="400.9" x2="239.16" y2="402.7" stroke="#444" stroke-width="1"/>
<line x1="254.30" y1="400.9" x2="254.30" y2="403.9" stroke="#444" stroke-width="1"/>
<g transform="translate(248.69,413.70) scale(0.941,1)" fill="#222" stroke="#222" stroke-width="0.25"><text font-size="8.6">114</text></g>
<line x1="38.9" y1="383.87" x2="42.4" y2="383.87" stroke="#444" stroke-width="1"/>
<g transform="translate(18.83,387.47) scale(0.898,1)" fill="#222" stroke="#222" stroke-width="0.25"><text font-size="8.6">10.15</text></g>
<line x1="40.6" y1="366.84" x2="42.4" y2="366.84" stroke="#444" stroke-width="1"/>
<line x1="38.9" y1="349.81" x2="42.4" y2="349.81" stroke="#444" stroke-width="1"/>
<g transform="translate(18.83,353.41) scale(0.898,1)" fill="#222" stroke="#222" stroke-width="0.25"><text font-size="8.6">10.20</text></g>
<line x1="40.6" y1="332.78" x2="42.4" y2="332.78" stroke="#444" stroke-width="1"/>
<line x1="38.9" y1="315.75" x2="42.4" y2="315.75" stroke="#444" stroke-width="1"/>
<g transform="translate(18.83,319.35) scale(0.898,1)" fill="#222" stroke="#222" stroke-width="0.25"><text font-size="8.6">10.25</text></g>
<line x1="40.6" y1="298.72" x2="42.4" y2="298.72" stroke="#444" stroke-width="1"/>
<line x1="38.9" y1="281.69" x2="42.4" y2="281.69" stroke="#444" stroke-width="1"/>
<g transform="translate(18.83,285.29) scale(0.898,1)" fill="#222" stroke="#222" stroke-width="0.25"><text font-size="8.6">10.30</text></g>
<line x1="40.6" y1="264.66" x2="42.4" y2="264.66" stroke="#444" stroke-width="1"/>
<line x1="38.9" y1="247.63" x2="42.4" y2="247.63" stroke="#444" stroke-width="1"/>
<g transform="translate(18.83,251.23) scale(0.898,1)" fill="#222" stroke="#222" stroke-width="0.25"><text font-size="8.6">10.35</text></g>
<line x1="56.10" y1="383.20" x2="239.70" y2="237.50" stroke="#555" stroke-width="1.4" stroke-linecap="round" stroke-dasharray="0.3 2.55"/>
<rect x="231.25" y="241.85" width="3.5" height="3.5" fill="#111111"/>
<g transform="translate(225.12,257.30) scale(1.182,1)" fill="#111111" stroke="#111111" stroke-width="0.45"><text font-size="12.5">Pr</text></g>
<rect x="205.25" y="262.45" width="3.5" height="3.5" fill="#f04848"/>
<g transform="translate(198.74,278.00) scale(1.060,1)" fill="#f04848" stroke="#f04848" stroke-width="0.45"><text font-size="12.5">Nd</text></g>
<rect x="140.55" y="314.95" width="3.5" height="3.5" fill="#3f7fe0"/>
<g transform="translate(133.73,330.30) scale(1.074,1)" fill="#3f7fe0" stroke="#3f7fe0" stroke-width="0.45"><text font-size="12.5">Eu</text></g>
<rect x="120.85" y="328.05" width="3.5" height="3.5" fill="#3bb574"/>
<g transform="translate(113.87,343.50) scale(1.052,1)" fill="#3bb574" stroke="#3bb574" stroke-width="0.45"><text font-size="12.5">Gd</text></g>
<rect x="101.05" y="337.85" width="3.5" height="3.5" fill="#b57ae6"/>
<g transform="translate(94.93,354.00) scale(1.062,1)" fill="#b57ae6" stroke="#b57ae6" stroke-width="0.45"><text font-size="12.5">Tb</text></g>
<rect x="62.95" y="380.15" width="3.5" height="3.5" fill="#d6a329"/>
<g transform="translate(55.88,396.10) scale(1.117,1)" fill="#d6a329" stroke="#d6a329" stroke-width="0.45"><text font-size="12.5">Ho</text></g>
<rect x="314.4" y="230.1" width="212.30000000000007" height="170.6" fill="none" stroke="#7a7a7a" stroke-width="1.4"/>
<line x1="314.40" y1="400.7" x2="314.40" y2="403.7" stroke="#444" stroke-width="1"/>
<g transform="translate(308.82,413.70) scale(0.906,1)" fill="#222" stroke="#222" stroke-width="0.25"><text font-size="8.6">100</text></g>
<line x1="329.56" y1="400.7" x2="329.56" y2="402.5" stroke="#444" stroke-width="1"/>
<line x1="344.73" y1="400.7" x2="344.73" y2="403.7" stroke="#444" stroke-width="1"/>
<g transform="translate(339.15,413.70) scale(0.906,1)" fill="#222" stroke="#222" stroke-width="0.25"><text font-size="8.6">102</text></g>
<line x1="359.89" y1="400.7" x2="359.89" y2="402.5" stroke="#444" stroke-width="1"/>
<line x1="375.06" y1="400.7" x2="375.06" y2="403.7" stroke="#444" stroke-width="1"/>
<g transform="translate(369.48,413.70) scale(0.906,1)" fill="#222" stroke="#222" stroke-width="0.25"><text font-size="8.6">104</text></g>
<line x1="390.22" y1="400.7" x2="390.22" y2="402.5" stroke="#444" stroke-width="1"/>
<line x1="405.39" y1="400.7" x2="405.39" y2="403.7" stroke="#444" stroke-width="1"/>
<g transform="translate(399.81,413.70) scale(0.906,1)" fill="#222" stroke="#222" stroke-width="0.25"><text font-size="8.6">106</text></g>
<line x1="420.55" y1="400.7" x2="420.55" y2="402.5" stroke="#444" stroke-width="1"/>
<line x1="435.71" y1="400.7" x2="435.71" y2="403.7" stroke="#444" stroke-width="1"/>
<g transform="translate(430.14,413.70) scale(0.906,1)" fill="#222" stroke="#222" stroke-width="0.25"><text font-size="8.6">108</text></g>
<line x1="450.88" y1="400.7" x2="450.88" y2="402.5" stroke="#444" stroke-width="1"/>
<line x1="466.04" y1="400.7" x2="466.04" y2="403.7" stroke="#444" stroke-width="1"/>
<g transform="translate(460.44,413.70) scale(0.941,1)" fill="#222" stroke="#222" stroke-width="0.25"><text font-size="8.6">110</text></g>
<line x1="481.21" y1="400.7" x2="481.21" y2="402.5" stroke="#444" stroke-width="1"/>
<line x1="496.37" y1="400.7" x2="496.37" y2="403.7" stroke="#444" stroke-width="1"/>
<g transform="translate(490.75,413.70) scale(0.960,1)" fill="#222" stroke="#222" stroke-width="0.25"><text font-size="8.6">112</text></g>
<line x1="511.54" y1="400.7" x2="511.54" y2="402.5" stroke="#444" stroke-width="1"/>
<line x1="526.70" y1="400.7" x2="526.70" y2="403.7" stroke="#444" stroke-width="1"/>
<g transform="translate(521.09,413.70) scale(0.941,1)" fill="#222" stroke="#222" stroke-width="0.25"><text font-size="8.6">114</text></g>
<line x1="310.9" y1="385.19" x2="314.4" y2="385.19" stroke="#444" stroke-width="1"/>
<g transform="translate(291.73,388.79) scale(0.888,1)" fill="#222" stroke="#222" stroke-width="0.25"><text font-size="8.6">10.20</text></g>
<line x1="312.59999999999997" y1="369.68" x2="314.4" y2="369.68" stroke="#444" stroke-width="1"/>
<line x1="310.9" y1="354.17" x2="314.4" y2="354.17" stroke="#444" stroke-width="1"/>
<g transform="translate(291.73,357.77) scale(0.888,1)" fill="#222" stroke="#222" stroke-width="0.25"><text font-size="8.6">10.25</text></g>
<line x1="312.59999999999997" y1="338.66" x2="314.4" y2="338.66" stroke="#444" stroke-width="1"/>
<line x1="310.9" y1="323.15" x2="314.4" y2="323.15" stroke="#444" stroke-width="1"/>
<g transform="translate(291.73,326.75) scale(0.888,1)" fill="#222" stroke="#222" stroke-width="0.25"><text font-size="8.6">10.30</text></g>
<line x1="312.59999999999997" y1="307.65" x2="314.4" y2="307.65" stroke="#444" stroke-width="1"/>
<line x1="310.9" y1="292.14" x2="314.4" y2="292.14" stroke="#444" stroke-width="1"/>
<g transform="translate(291.73,295.74) scale(0.888,1)" fill="#222" stroke="#222" stroke-width="0.25"><text font-size="8.6">10.35</text></g>
<line x1="312.59999999999997" y1="276.63" x2="314.4" y2="276.63" stroke="#444" stroke-width="1"/>
<line x1="310.9" y1="261.12" x2="314.4" y2="261.12" stroke="#444" stroke-width="1"/>
<g transform="translate(291.73,264.72) scale(0.888,1)" fill="#222" stroke="#222" stroke-width="0.25"><text font-size="8.6">10.40</text></g>
<line x1="312.59999999999997" y1="245.61" x2="314.4" y2="245.61" stroke="#444" stroke-width="1"/>
<line x1="310.9" y1="230.10" x2="314.4" y2="230.10" stroke="#444" stroke-width="1"/>
<g transform="translate(291.73,233.70) scale(0.888,1)" fill="#222" stroke="#222" stroke-width="0.25"><text font-size="8.6">10.45</text></g>
<line x1="328.70" y1="390.00" x2="512.00" y2="246.90" stroke="#555" stroke-width="1.4" stroke-linecap="round" stroke-dasharray="0.3 2.55"/>
<rect x="503.75" y="250.45" width="3.5" height="3.5" fill="#111111"/>
<g transform="translate(497.57,248.10) scale(1.227,1)" fill="#111111" stroke="#111111" stroke-width="0.3"><text font-size="12.5">Pr</text></g>
<rect x="478.05" y="272.75" width="3.5" height="3.5" fill="#f04848"/>
<g transform="translate(471.05,269.90) scale(1.053,1)" fill="#f04848" stroke="#f04848" stroke-width="0.3"><text font-size="12.5">Nd</text></g>
<rect x="413.05" y="309.95" width="3.5" height="3.5" fill="#3f7fe0"/>
<g transform="translate(406.56,307.60) scale(1.044,1)" fill="#3f7fe0" stroke="#3f7fe0" stroke-width="0.3"><text font-size="12.5">Eu</text></g>
<rect x="393.45" y="337.25" width="3.5" height="3.5" fill="#3bb574"/>
<g transform="translate(386.36,334.50) scale(1.071,1)" fill="#3bb574" stroke="#3bb574" stroke-width="0.3"><text font-size="12.5">Gd</text></g>
<rect x="373.35" y="356.15" width="3.5" height="3.5" fill="#b57ae6"/>
<g transform="translate(368.06,353.70) scale(0.975,1)" fill="#b57ae6" stroke="#b57ae6" stroke-width="0.3"><text font-size="12.5">Tb</text></g>
<rect x="335.65" y="383.65" width="3.5" height="3.5" fill="#d6a329"/>
<g transform="translate(328.24,381.40) scale(1.062,1)" fill="#d6a329" stroke="#d6a329" stroke-width="0.3"><text font-size="12.5">Ho</text></g>
<g transform="translate(52.38,251.20) scale(1.017,1)" fill="#000"><text font-size="18.5" font-weight="bold">(c)</text></g>
<g transform="translate(325.00,252.80) scale(0.998,1)" fill="#000"><text font-size="18.5" font-weight="bold">(d)</text></g>
<g transform="translate(99.89,429.00) scale(0.948,1)" fill="#222" stroke="#222" stroke-width="0.25"><text font-size="11">R</text></g>
<g transform="translate(107.16,423.30) scale(0.950,1)" fill="#222" stroke="#222" stroke-width="0.25"><text font-size="7.5">3+</text></g>
<g transform="translate(119.23,429.00) scale(1.028,1)" fill="#222" stroke="#222" stroke-width="0.25"><text font-size="11">ionic radius</text></g>
<g transform="translate(180.28,427.20) scale(1.091,1)" fill="#222" stroke="#222" stroke-width="0.25"><text font-size="11">(</text></g>
<g transform="translate(186.00,429.00) scale(1.159,1)" fill="#222" stroke="#222" stroke-width="0.25"><text font-size="11">Å</text></g>
<g transform="translate(196.39,427.20) scale(1.236,1)" fill="#222" stroke="#222" stroke-width="0.25"><text font-size="11">)</text></g>
<g transform="translate(372.99,429.00) scale(0.948,1)" fill="#222" stroke="#222" stroke-width="0.25"><text font-size="11">R</text></g>
<g transform="translate(380.26,423.30) scale(0.950,1)" fill="#222" stroke="#222" stroke-width="0.25"><text font-size="7.5">3+</text></g>
<g transform="translate(392.33,429.00) scale(1.028,1)" fill="#222" stroke="#222" stroke-width="0.25"><text font-size="11">ionic radius</text></g>
<g transform="translate(453.38,427.20) scale(1.091,1)" fill="#222" stroke="#222" stroke-width="0.25"><text font-size="11">(</text></g>
<g transform="translate(459.10,429.00) scale(1.159,1)" fill="#222" stroke="#222" stroke-width="0.25"><text font-size="11">Å</text></g>
<g transform="translate(469.49,427.20) scale(1.236,1)" fill="#222" stroke="#222" stroke-width="0.25"><text font-size="11">)</text></g>
<g transform="rotate(-90)"><g transform="translate(-327.88,16.70) scale(0.952,1)" fill="#222" stroke="#222" stroke-width="0.25"><text font-size="10.5">a</text></g><g transform="translate(-317.93,15.00) scale(0.836,1)" fill="#222" stroke="#222" stroke-width="0.25"><text font-size="11">(</text></g><g transform="translate(-312.70,16.70) scale(1.076,1)" fill="#222" stroke="#222" stroke-width="0.25"><text font-size="11">Å</text></g><g transform="translate(-301.95,15.00) scale(1.018,1)" fill="#222" stroke="#222" stroke-width="0.25"><text font-size="11">)</text></g></g>
<g transform="rotate(-90)"><g transform="translate(-327.88,288.90) scale(0.952,1)" fill="#222" stroke="#222" stroke-width="0.25"><text font-size="10.5">a</text></g><g transform="translate(-317.93,287.20) scale(0.836,1)" fill="#222" stroke="#222" stroke-width="0.25"><text font-size="11">(</text></g><g transform="translate(-312.70,288.90) scale(1.076,1)" fill="#222" stroke="#222" stroke-width="0.25"><text font-size="11">Å</text></g><g transform="translate(-301.95,287.20) scale(1.018,1)" fill="#222" stroke="#222" stroke-width="0.25"><text font-size="11">)</text></g></g>
</svg></body></html>
